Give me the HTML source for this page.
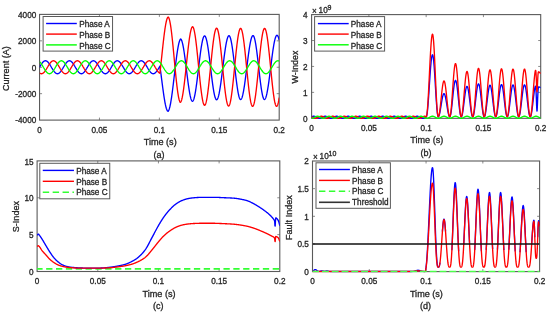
<!DOCTYPE html>
<html><head><meta charset="utf-8"><title>Figure</title>
<style>
html,body{margin:0;padding:0;background:#fff;}
body{width:550px;height:313px;overflow:hidden;}
svg{display:block;font-family:"Liberation Sans",sans-serif;}
text{fill:#262626;stroke:#262626;stroke-width:0.3px;}
</style></head><body>
<svg width="550" height="313" viewBox="0 0 550 313">
<rect width="550" height="313" fill="#fff"/>
<defs>
<clipPath id="ca"><rect x="39.55" y="14.4" width="239.64999999999998" height="105.69999999999999"/></clipPath>
<clipPath id="cb"><rect x="311.6" y="14.6" width="229.10000000000002" height="104.60000000000001"/></clipPath>
<clipPath id="cc"><rect x="37.1" y="160.9" width="242.70000000000002" height="110.6"/></clipPath>
<clipPath id="cd"><rect x="312.5" y="161.0" width="227.10000000000002" height="111.50000000000003"/></clipPath>
</defs>
<rect x="39.55" y="14.4" width="239.65" height="105.70" fill="none" stroke="#5a5a5a" stroke-width="1.1"/>
<path d="M99.46,120.1 v-2.5 M99.46,14.4 v2.5 M159.38,120.1 v-2.5 M159.38,14.4 v2.5 M219.29,120.1 v-2.5 M219.29,14.4 v2.5 M39.55,93.67 h2.5 M279.2,93.67 h-2.5 M39.55,67.25 h2.5 M279.2,67.25 h-2.5 M39.55,40.83 h2.5 M279.2,40.83 h-2.5 " fill="none" stroke="#5a5a5a" stroke-width="0.7"/>
<g clip-path="url(#ca)">
<path d="M39.55,67.10 L39.73,66.79 L39.92,66.48 L40.10,66.17 L40.29,65.86 L40.47,65.55 L40.66,65.25 L40.84,64.96 L41.03,64.67 L41.21,64.38 L41.39,64.11 L41.58,63.84 L41.76,63.57 L41.95,63.32 L42.13,63.08 L42.32,62.84 L42.50,62.62 L42.69,62.40 L42.87,62.20 L43.06,62.01 L43.24,61.83 L43.42,61.67 L43.61,61.52 L43.79,61.38 L43.98,61.25 L44.16,61.14 L44.35,61.05 L44.53,60.96 L44.72,60.90 L44.90,60.84 L45.08,60.81 L45.27,60.78 L45.45,60.78 L45.64,60.78 L45.82,60.81 L46.01,60.84 L46.19,60.90 L46.38,60.97 L46.56,61.05 L46.75,61.15 L46.93,61.26 L47.11,61.38 L47.30,61.52 L47.48,61.68 L47.67,61.84 L47.85,62.02 L48.04,62.21 L48.22,62.41 L48.41,62.63 L48.59,62.85 L48.77,63.09 L48.96,63.33 L49.14,63.58 L49.33,63.85 L49.51,64.12 L49.70,64.40 L49.88,64.68 L50.07,64.97 L50.25,65.27 L50.43,65.57 L50.62,65.87 L50.80,66.18 L50.99,66.49 L51.17,66.80 L51.36,67.11 L51.54,67.43 L51.73,67.74 L51.91,68.05 L52.10,68.36 L52.28,68.67 L52.46,68.97 L52.65,69.27 L52.83,69.57 L53.02,69.86 L53.20,70.14 L53.39,70.42 L53.57,70.69 L53.76,70.95 L53.94,71.20 L54.12,71.45 L54.31,71.68 L54.49,71.90 L54.68,72.11 L54.86,72.32 L55.05,72.50 L55.23,72.68 L55.42,72.85 L55.60,73.00 L55.78,73.13 L55.97,73.26 L56.15,73.37 L56.34,73.46 L56.52,73.54 L56.71,73.61 L56.89,73.66 L57.08,73.70 L57.26,73.72 L57.45,73.72 L57.63,73.71 L57.81,73.69 L58.00,73.65 L58.18,73.60 L58.37,73.53 L58.55,73.44 L58.74,73.34 L58.92,73.23 L59.11,73.10 L59.29,72.96 L59.47,72.81 L59.66,72.64 L59.84,72.46 L60.03,72.27 L60.21,72.07 L60.40,71.85 L60.58,71.63 L60.77,71.39 L60.95,71.15 L61.14,70.89 L61.32,70.63 L61.50,70.36 L61.69,70.08 L61.87,69.79 L62.06,69.50 L62.24,69.21 L62.43,68.91 L62.61,68.60 L62.80,68.29 L62.98,67.98 L63.16,67.67 L63.35,67.36 L63.53,67.04 L63.72,66.73 L63.90,66.42 L64.09,66.11 L64.27,65.80 L64.46,65.50 L64.64,65.20 L64.82,64.91 L65.01,64.62 L65.19,64.33 L65.38,64.06 L65.56,63.79 L65.75,63.53 L65.93,63.28 L66.12,63.03 L66.30,62.80 L66.49,62.58 L66.67,62.37 L66.85,62.17 L67.04,61.98 L67.22,61.80 L67.41,61.64 L67.59,61.49 L67.78,61.35 L67.96,61.23 L68.15,61.12 L68.33,61.03 L68.51,60.95 L68.70,60.89 L68.88,60.84 L69.07,60.80 L69.25,60.78 L69.44,60.78 L69.62,60.79 L69.81,60.81 L69.99,60.85 L70.18,60.91 L70.36,60.98 L70.54,61.07 L70.73,61.17 L70.91,61.28 L71.10,61.41 L71.28,61.55 L71.47,61.70 L71.65,61.87 L71.84,62.05 L72.02,62.25 L72.20,62.45 L72.39,62.67 L72.57,62.89 L72.76,63.13 L72.94,63.38 L73.13,63.63 L73.31,63.90 L73.50,64.17 L73.68,64.45 L73.86,64.73 L74.05,65.02 L74.23,65.32 L74.42,65.62 L74.60,65.93 L74.79,66.23 L74.97,66.55 L75.16,66.86 L75.34,67.17 L75.53,67.48 L75.71,67.80 L75.89,68.11 L76.08,68.42 L76.26,68.72 L76.45,69.03 L76.63,69.33 L76.82,69.62 L77.00,69.91 L77.19,70.19 L77.37,70.47 L77.55,70.74 L77.74,71.00 L77.92,71.25 L78.11,71.49 L78.29,71.72 L78.48,71.94 L78.66,72.15 L78.85,72.35 L79.03,72.54 L79.21,72.71 L79.40,72.87 L79.58,73.02 L79.77,73.16 L79.95,73.28 L80.14,73.39 L80.32,73.48 L80.51,73.56 L80.69,73.62 L80.88,73.67 L81.06,73.70 L81.24,73.72 L81.43,73.72 L81.61,73.71 L81.80,73.68 L81.98,73.64 L82.17,73.58 L82.35,73.51 L82.54,73.43 L82.72,73.33 L82.90,73.21 L83.09,73.08 L83.27,72.94 L83.46,72.78 L83.64,72.61 L83.83,72.43 L84.01,72.24 L84.20,72.03 L84.38,71.81 L84.57,71.59 L84.75,71.35 L84.93,71.10 L85.12,70.84 L85.30,70.58 L85.49,70.31 L85.67,70.03 L85.86,69.74 L86.04,69.45 L86.23,69.15 L86.41,68.85 L86.59,68.55 L86.78,68.24 L86.96,67.93 L87.15,67.61 L87.33,67.30 L87.52,66.99 L87.70,66.68 L87.89,66.36 L88.07,66.05 L88.25,65.75 L88.44,65.45 L88.62,65.15 L88.81,64.85 L88.99,64.56 L89.18,64.28 L89.36,64.01 L89.55,63.74 L89.73,63.48 L89.92,63.23 L90.10,62.99 L90.28,62.76 L90.47,62.54 L90.65,62.33 L90.84,62.13 L91.02,61.95 L91.21,61.77 L91.39,61.61 L91.58,61.46 L91.76,61.33 L91.94,61.21 L92.13,61.11 L92.31,61.01 L92.50,60.94 L92.68,60.87 L92.87,60.83 L93.05,60.80 L93.24,60.78 L93.42,60.78 L93.61,60.79 L93.79,60.82 L93.97,60.86 L94.16,60.92 L94.34,60.99 L94.53,61.08 L94.71,61.18 L94.90,61.30 L95.08,61.43 L95.27,61.58 L95.45,61.73 L95.63,61.90 L95.82,62.09 L96.00,62.28 L96.19,62.49 L96.37,62.71 L96.56,62.94 L96.74,63.17 L96.93,63.42 L97.11,63.68 L97.29,63.94 L97.48,64.22 L97.66,64.50 L97.85,64.78 L98.03,65.08 L98.22,65.37 L98.40,65.68 L98.59,65.98 L98.77,66.29 L98.96,66.60 L99.14,66.91 L99.32,67.23 L99.51,67.54 L99.69,67.85 L99.88,68.16 L100.06,68.47 L100.25,68.78 L100.43,69.08 L100.62,69.38 L100.80,69.67 L100.98,69.96 L101.17,70.24 L101.35,70.52 L101.54,70.78 L101.72,71.04 L101.91,71.29 L102.09,71.53 L102.28,71.76 L102.46,71.98 L102.64,72.19 L102.83,72.39 L103.01,72.57 L103.20,72.74 L103.38,72.90 L103.57,73.05 L103.75,73.18 L103.94,73.30 L104.12,73.40 L104.31,73.49 L104.49,73.57 L104.67,73.63 L104.86,73.68 L105.04,73.71 L105.23,73.72 L105.41,73.72 L105.60,73.71 L105.78,73.68 L105.97,73.63 L106.15,73.57 L106.33,73.50 L106.52,73.41 L106.70,73.31 L106.89,73.19 L107.07,73.06 L107.26,72.91 L107.44,72.75 L107.63,72.58 L107.81,72.40 L108.00,72.20 L108.18,71.99 L108.36,71.77 L108.55,71.54 L108.73,71.30 L108.92,71.06 L109.10,70.80 L109.29,70.53 L109.47,70.26 L109.66,69.98 L109.84,69.69 L110.02,69.40 L110.21,69.10 L110.39,68.80 L110.58,68.49 L110.76,68.18 L110.95,67.87 L111.13,67.56 L111.32,67.24 L111.50,66.93 L111.68,66.62 L111.87,66.31 L112.05,66.00 L112.24,65.69 L112.42,65.39 L112.61,65.09 L112.79,64.80 L112.98,64.51 L113.16,64.23 L113.35,63.96 L113.53,63.69 L113.71,63.44 L113.90,63.19 L114.08,62.95 L114.27,62.72 L114.45,62.50 L114.64,62.29 L114.82,62.10 L115.01,61.91 L115.19,61.74 L115.37,61.58 L115.56,61.44 L115.74,61.31 L115.93,61.19 L116.11,61.09 L116.30,61.00 L116.48,60.92 L116.67,60.87 L116.85,60.82 L117.03,60.79 L117.22,60.78 L117.40,60.78 L117.59,60.79 L117.77,60.83 L117.96,60.87 L118.14,60.93 L118.33,61.01 L118.51,61.10 L118.70,61.20 L118.88,61.32 L119.06,61.46 L119.25,61.60 L119.43,61.76 L119.62,61.94 L119.80,62.12 L119.99,62.32 L120.17,62.53 L120.36,62.75 L120.54,62.98 L120.72,63.22 L120.91,63.47 L121.09,63.73 L121.28,63.99 L121.46,64.27 L121.65,64.55 L121.83,64.84 L122.02,65.13 L122.20,65.43 L122.39,65.73 L122.57,66.04 L122.75,66.35 L122.94,66.66 L123.12,66.97 L123.31,67.28 L123.49,67.60 L123.68,67.91 L123.86,68.22 L124.05,68.53 L124.23,68.83 L124.41,69.14 L124.60,69.43 L124.78,69.73 L124.97,70.01 L125.15,70.29 L125.34,70.57 L125.52,70.83 L125.71,71.09 L125.89,71.34 L126.07,71.57 L126.26,71.80 L126.44,72.02 L126.63,72.23 L126.81,72.42 L127.00,72.60 L127.18,72.77 L127.37,72.93 L127.55,73.07 L127.74,73.20 L127.92,73.32 L128.10,73.42 L128.29,73.51 L128.47,73.58 L128.66,73.64 L128.84,73.68 L129.03,73.71 L129.21,73.72 L129.40,73.72 L129.58,73.70 L129.76,73.67 L129.95,73.62 L130.13,73.56 L130.32,73.48 L130.50,73.39 L130.69,73.28 L130.87,73.16 L131.06,73.03 L131.24,72.88 L131.43,72.72 L131.61,72.55 L131.79,72.36 L131.98,72.16 L132.16,71.95 L132.35,71.73 L132.53,71.50 L132.72,71.26 L132.90,71.01 L133.09,70.75 L133.27,70.48 L133.45,70.21 L133.64,69.92 L133.82,69.64 L134.01,69.34 L134.19,69.04 L134.38,68.74 L134.56,68.43 L134.75,68.12 L134.93,67.81 L135.11,67.50 L135.30,67.19 L135.48,66.87 L135.67,66.56 L135.85,66.25 L136.04,65.94 L136.22,65.64 L136.41,65.34 L136.59,65.04 L136.78,64.75 L136.96,64.46 L137.14,64.18 L137.33,63.91 L137.51,63.65 L137.70,63.39 L137.88,63.14 L138.07,62.91 L138.25,62.68 L138.44,62.46 L138.62,62.26 L138.80,62.06 L138.99,61.88 L139.17,61.71 L139.36,61.56 L139.54,61.41 L139.73,61.29 L139.91,61.17 L140.10,61.07 L140.28,60.98 L140.46,60.91 L140.65,60.86 L140.83,60.81 L141.02,60.79 L141.20,60.78 L141.39,60.78 L141.57,60.80 L141.76,60.83 L141.94,60.88 L142.13,60.95 L142.31,61.02 L142.49,61.12 L142.68,61.23 L142.86,61.35 L143.05,61.48 L143.23,61.63 L143.42,61.79 L143.60,61.97 L143.79,62.16 L143.97,62.36 L144.15,62.57 L144.34,62.79 L144.52,63.02 L144.71,63.26 L144.89,63.51 L145.08,63.77 L145.26,64.04 L145.45,64.32 L145.63,64.60 L145.82,64.89 L146.00,65.18 L146.18,65.48 L146.37,65.79 L146.55,66.09 L146.74,66.40 L146.92,66.71 L147.11,67.03 L147.29,67.34 L147.48,67.65 L147.66,67.97 L147.84,68.28 L148.03,68.58 L148.21,68.89 L148.40,69.19 L148.58,69.49 L148.77,69.78 L148.95,70.06 L149.14,70.34 L149.32,70.61 L149.50,70.88 L149.69,71.13 L149.87,71.38 L150.06,71.62 L150.24,71.84 L150.43,72.06 L150.61,72.26 L150.80,72.45 L150.98,72.63 L151.17,72.80 L151.35,72.96 L151.53,73.10 L151.72,73.23 L151.90,73.34 L152.09,73.44 L152.27,73.52 L152.46,73.59 L152.64,73.65 L152.83,73.69 L153.01,73.71 L153.19,73.72 L153.38,73.72 L153.56,73.70 L153.75,73.66 L153.93,73.61 L154.12,73.55 L154.30,73.47 L154.49,73.37 L154.67,73.26 L154.86,73.14 L155.04,73.00 L155.22,72.85 L155.41,72.69 L155.59,72.51 L155.78,72.33 L155.96,72.13 L156.15,71.91 L156.33,71.69 L156.52,71.46 L156.70,71.22 L156.88,70.96 L157.07,70.70 L157.25,70.43 L157.44,70.16 L157.62,69.87 L157.81,69.58 L157.99,69.29 L158.18,68.99 L158.36,68.69 L158.54,68.38 L158.73,68.07 L158.91,67.76 L159.10,67.44 L159.28,67.13 L159.47,66.82 L159.65,66.51 L159.84,66.20 L160.02,66.94 L160.21,68.27 L160.39,69.62 L160.57,70.99 L160.76,72.38 L160.94,73.78 L161.13,75.19 L161.31,76.62 L161.50,78.04 L161.68,79.48 L161.87,80.91 L162.05,82.34 L162.23,83.76 L162.42,85.18 L162.60,86.58 L162.79,87.97 L162.97,89.34 L163.16,90.70 L163.34,92.03 L163.53,93.33 L163.71,94.61 L163.89,95.85 L164.08,97.06 L164.26,98.24 L164.45,99.38 L164.63,100.48 L164.82,101.53 L165.00,102.54 L165.19,103.50 L165.37,104.42 L165.56,105.28 L165.74,106.09 L165.92,106.85 L166.11,107.55 L166.29,108.19 L166.48,108.77 L166.66,109.30 L166.85,109.76 L167.03,110.17 L167.22,110.51 L167.40,110.78 L167.58,111.00 L167.77,111.14 L167.95,111.23 L168.14,111.21 L168.32,111.01 L168.51,110.73 L168.69,110.40 L168.88,109.99 L169.06,109.52 L169.25,108.99 L169.43,108.39 L169.61,107.74 L169.80,107.02 L169.98,106.24 L170.17,105.40 L170.35,104.50 L170.54,103.55 L170.72,102.55 L170.91,101.49 L171.09,100.38 L171.27,99.22 L171.46,98.02 L171.64,96.78 L171.83,95.49 L172.01,94.16 L172.20,92.80 L172.38,91.40 L172.57,89.97 L172.75,88.51 L172.93,87.03 L173.12,85.52 L173.30,84.00 L173.49,82.45 L173.67,80.90 L173.86,79.33 L174.04,77.75 L174.23,76.17 L174.41,74.58 L174.60,73.00 L174.78,71.42 L174.96,69.85 L175.15,68.29 L175.33,66.74 L175.52,65.20 L175.70,63.69 L175.89,62.20 L176.07,60.73 L176.26,59.29 L176.44,57.89 L176.62,56.51 L176.81,55.17 L176.99,53.87 L177.18,52.61 L177.36,51.39 L177.55,50.22 L177.73,49.09 L177.92,48.02 L178.10,46.99 L178.29,46.02 L178.47,45.11 L178.65,44.25 L178.84,43.45 L179.02,42.71 L179.21,42.03 L179.39,41.42 L179.58,40.86 L179.76,40.37 L179.95,39.94 L180.13,39.58 L180.31,39.29 L180.50,39.06 L180.68,39.00 L180.87,39.12 L181.05,39.32 L181.24,39.58 L181.42,39.92 L181.61,40.33 L181.79,40.80 L181.97,41.34 L182.16,41.94 L182.34,42.62 L182.53,43.35 L182.71,44.15 L182.90,45.00 L183.08,45.91 L183.27,46.88 L183.45,47.91 L183.64,48.98 L183.82,50.10 L184.00,51.27 L184.19,52.49 L184.37,53.74 L184.56,55.03 L184.74,56.36 L184.93,57.71 L185.11,59.10 L185.30,60.51 L185.48,61.95 L185.66,63.40 L185.85,64.87 L186.03,66.35 L186.22,67.84 L186.40,69.34 L186.59,70.84 L186.77,72.33 L186.96,73.82 L187.14,75.30 L187.32,76.77 L187.51,78.23 L187.69,79.67 L187.88,81.08 L188.06,82.47 L188.25,83.83 L188.43,85.16 L188.62,86.45 L188.80,87.71 L188.99,88.92 L189.17,90.09 L189.35,91.22 L189.54,92.29 L189.72,93.32 L189.91,94.29 L190.09,95.21 L190.28,96.07 L190.46,96.87 L190.65,97.60 L190.83,98.28 L191.01,98.89 L191.20,99.43 L191.38,99.91 L191.57,100.32 L191.75,100.66 L191.94,100.93 L192.12,101.13 L192.31,101.26 L192.49,101.29 L192.68,101.22 L192.86,101.07 L193.04,100.85 L193.23,100.56 L193.41,100.19 L193.60,99.76 L193.78,99.25 L193.97,98.67 L194.15,98.03 L194.34,97.32 L194.52,96.55 L194.70,95.71 L194.89,94.81 L195.07,93.85 L195.26,92.84 L195.44,91.77 L195.63,90.65 L195.81,89.47 L196.00,88.26 L196.18,86.99 L196.36,85.69 L196.55,84.34 L196.73,82.97 L196.92,81.56 L197.10,80.12 L197.29,78.65 L197.47,77.16 L197.66,75.65 L197.84,74.13 L198.03,72.59 L198.21,71.05 L198.39,69.49 L198.58,67.94 L198.76,66.39 L198.95,64.84 L199.13,63.31 L199.32,61.78 L199.50,60.27 L199.69,58.78 L199.87,57.31 L200.05,55.86 L200.24,54.45 L200.42,53.06 L200.61,51.72 L200.79,50.40 L200.98,49.14 L201.16,47.91 L201.35,46.73 L201.53,45.60 L201.72,44.52 L201.90,43.50 L202.08,42.54 L202.27,41.63 L202.45,40.78 L202.64,40.00 L202.82,39.28 L203.01,38.62 L203.19,38.04 L203.38,37.52 L203.56,37.08 L203.74,36.70 L203.93,36.40 L204.11,36.17 L204.30,36.01 L204.48,35.92 L204.67,35.91 L204.85,35.98 L205.04,36.12 L205.22,36.33 L205.40,36.62 L205.59,36.97 L205.77,37.41 L205.96,37.91 L206.14,38.48 L206.33,39.12 L206.51,39.83 L206.70,40.60 L206.88,41.43 L207.07,42.33 L207.25,43.29 L207.43,44.30 L207.62,45.37 L207.80,46.49 L207.99,47.66 L208.17,48.88 L208.36,50.14 L208.54,51.45 L208.73,52.79 L208.91,54.16 L209.09,55.57 L209.28,57.01 L209.46,58.47 L209.65,59.96 L209.83,61.46 L210.02,62.98 L210.20,64.51 L210.39,66.04 L210.57,67.58 L210.75,69.13 L210.94,70.66 L211.12,72.20 L211.31,73.72 L211.49,75.23 L211.68,76.72 L211.86,78.19 L212.05,79.63 L212.23,81.05 L212.42,82.44 L212.60,83.79 L212.78,85.11 L212.97,86.38 L213.15,87.62 L213.34,88.80 L213.52,89.94 L213.71,91.03 L213.89,92.06 L214.08,93.03 L214.26,93.95 L214.44,94.80 L214.63,95.60 L214.81,96.33 L215.00,96.99 L215.18,97.58 L215.37,98.10 L215.55,98.56 L215.74,98.94 L215.92,99.25 L216.11,99.49 L216.29,99.65 L216.47,99.74 L216.66,99.75 L216.84,99.69 L217.03,99.57 L217.21,99.37 L217.40,99.10 L217.58,98.77 L217.77,98.37 L217.95,97.90 L218.13,97.36 L218.32,96.76 L218.50,96.10 L218.69,95.38 L218.87,94.59 L219.06,93.75 L219.24,92.85 L219.43,91.89 L219.61,90.88 L219.79,89.82 L219.98,88.72 L220.16,87.56 L220.35,86.37 L220.53,85.13 L220.72,83.86 L220.90,82.54 L221.09,81.20 L221.27,79.83 L221.46,78.43 L221.64,77.01 L221.82,75.57 L222.01,74.11 L222.19,72.64 L222.38,71.15 L222.56,69.66 L222.75,68.17 L222.93,66.67 L223.12,65.17 L223.30,63.69 L223.48,62.21 L223.67,60.74 L223.85,59.29 L224.04,57.85 L224.22,56.44 L224.41,55.05 L224.59,53.69 L224.78,52.36 L224.96,51.07 L225.14,49.81 L225.33,48.59 L225.51,47.41 L225.70,46.28 L225.88,45.19 L226.07,44.15 L226.25,43.16 L226.44,42.23 L226.62,41.35 L226.81,40.54 L226.99,39.78 L227.17,39.08 L227.36,38.44 L227.54,37.87 L227.73,37.36 L227.91,36.92 L228.10,36.55 L228.28,36.24 L228.47,36.00 L228.65,35.84 L228.83,35.74 L229.02,35.71 L229.20,35.76 L229.39,35.89 L229.57,36.09 L229.76,36.38 L229.94,36.74 L230.13,37.18 L230.31,37.70 L230.50,38.29 L230.68,38.96 L230.86,39.69 L231.05,40.50 L231.23,41.37 L231.42,42.31 L231.60,43.31 L231.79,44.38 L231.97,45.50 L232.16,46.67 L232.34,47.90 L232.52,49.18 L232.71,50.50 L232.89,51.87 L233.08,53.27 L233.26,54.71 L233.45,56.19 L233.63,57.69 L233.82,59.22 L234.00,60.76 L234.18,62.33 L234.37,63.91 L234.55,65.49 L234.74,67.09 L234.92,68.68 L235.11,70.27 L235.29,71.86 L235.48,73.43 L235.66,74.99 L235.85,76.53 L236.03,78.05 L236.21,79.54 L236.40,81.01 L236.58,82.44 L236.77,83.83 L236.95,85.18 L237.14,86.49 L237.32,87.75 L237.51,88.96 L237.69,90.12 L237.87,91.22 L238.06,92.27 L238.24,93.25 L238.43,94.17 L238.61,95.02 L238.80,95.80 L238.98,96.51 L239.17,97.15 L239.35,97.72 L239.54,98.21 L239.72,98.63 L239.90,98.96 L240.09,99.22 L240.27,99.40 L240.46,99.50 L240.64,99.53 L240.83,99.48 L241.01,99.36 L241.20,99.17 L241.38,98.91 L241.56,98.58 L241.75,98.18 L241.93,97.72 L242.12,97.19 L242.30,96.60 L242.49,95.95 L242.67,95.23 L242.86,94.45 L243.04,93.61 L243.22,92.72 L243.41,91.77 L243.59,90.77 L243.78,89.71 L243.96,88.61 L244.15,87.47 L244.33,86.28 L244.52,85.05 L244.70,83.78 L244.89,82.47 L245.07,81.13 L245.25,79.77 L245.44,78.37 L245.62,76.96 L245.81,75.52 L245.99,74.06 L246.18,72.59 L246.36,71.11 L246.55,69.63 L246.73,68.13 L246.91,66.64 L247.10,65.15 L247.28,63.66 L247.47,62.18 L247.65,60.72 L247.84,59.27 L248.02,57.83 L248.21,56.42 L248.39,55.03 L248.57,53.67 L248.76,52.34 L248.94,51.05 L249.13,49.79 L249.31,48.57 L249.50,47.39 L249.68,46.25 L249.87,45.16 L250.05,44.12 L250.24,43.13 L250.42,42.19 L250.60,41.31 L250.79,40.49 L250.97,39.73 L251.16,39.02 L251.34,38.38 L251.53,37.81 L251.71,37.29 L251.90,36.85 L252.08,36.47 L252.26,36.16 L252.45,35.92 L252.63,35.74 L252.82,35.64 L253.00,35.61 L253.19,35.65 L253.37,35.77 L253.56,35.98 L253.74,36.27 L253.93,36.64 L254.11,37.09 L254.29,37.62 L254.48,38.22 L254.66,38.90 L254.85,39.66 L255.03,40.48 L255.22,41.38 L255.40,42.35 L255.59,43.38 L255.77,44.47 L255.95,45.62 L256.14,46.83 L256.32,48.09 L256.51,49.40 L256.69,50.76 L256.88,52.17 L257.06,53.61 L257.25,55.09 L257.43,56.60 L257.61,58.14 L257.80,59.70 L257.98,61.28 L258.17,62.88 L258.35,64.50 L258.54,66.12 L258.72,67.74 L258.91,69.36 L259.09,70.98 L259.28,72.59 L259.46,74.19 L259.64,75.77 L259.83,77.32 L260.01,78.86 L260.20,80.36 L260.38,81.83 L260.57,83.26 L260.75,84.66 L260.94,86.00 L261.12,87.31 L261.30,88.56 L261.49,89.75 L261.67,90.89 L261.86,91.97 L262.04,92.98 L262.23,93.93 L262.41,94.81 L262.60,95.62 L262.78,96.36 L262.97,97.02 L263.15,97.61 L263.33,98.12 L263.52,98.55 L263.70,98.90 L263.89,99.17 L264.07,99.36 L264.26,99.46 L264.44,99.49 L264.63,99.44 L264.81,99.32 L264.99,99.14 L265.18,98.88 L265.36,98.57 L265.55,98.18 L265.73,97.73 L265.92,97.22 L266.10,96.64 L266.29,96.00 L266.47,95.31 L266.65,94.55 L266.84,93.73 L267.02,92.86 L267.21,91.93 L267.39,90.96 L267.58,89.93 L267.76,88.86 L267.95,87.73 L268.13,86.57 L268.32,85.37 L268.50,84.13 L268.68,82.85 L268.87,81.54 L269.05,80.20 L269.24,78.83 L269.42,77.44 L269.61,76.03 L269.79,74.60 L269.98,73.15 L270.16,71.69 L270.34,70.22 L270.53,68.75 L270.71,67.27 L270.90,65.80 L271.08,64.32 L271.27,62.86 L271.45,61.40 L271.64,59.96 L271.82,58.53 L272.00,57.12 L272.19,55.73 L272.37,54.37 L272.56,53.03 L272.74,51.73 L272.93,50.45 L273.11,49.22 L273.30,48.02 L273.48,46.86 L273.67,45.75 L273.85,44.68 L274.03,43.66 L274.22,42.69 L274.40,41.77 L274.59,40.91 L274.77,40.10 L274.96,39.35 L275.14,38.66 L275.33,38.03 L275.51,37.47 L275.69,36.96 L275.88,36.52 L276.06,36.15 L276.25,35.84 L276.43,35.60 L276.62,35.42 L276.80,35.32 L276.99,35.28 L277.17,35.30 L277.36,35.40 L277.54,35.57 L277.72,35.80 L277.91,36.10 L278.09,36.46 L278.28,36.89 L278.46,37.39 L278.65,37.94 L278.83,38.56 L279.02,39.25 L279.20,39.99" fill="none" stroke="#0000ff" stroke-width="1.35" stroke-linejoin="round"/>
<path d="M39.55,72.92 L39.73,73.06 L39.92,73.19 L40.10,73.31 L40.29,73.41 L40.47,73.50 L40.66,73.58 L40.84,73.63 L41.03,73.68 L41.21,73.71 L41.39,73.72 L41.58,73.72 L41.76,73.71 L41.95,73.67 L42.13,73.63 L42.32,73.57 L42.50,73.49 L42.69,73.40 L42.87,73.29 L43.06,73.18 L43.24,73.04 L43.42,72.90 L43.61,72.74 L43.79,72.56 L43.98,72.38 L44.16,72.18 L44.35,71.97 L44.53,71.75 L44.72,71.52 L44.90,71.28 L45.08,71.03 L45.27,70.77 L45.45,70.51 L45.64,70.23 L45.82,69.95 L46.01,69.66 L46.19,69.37 L46.38,69.07 L46.56,68.77 L46.75,68.46 L46.93,68.15 L47.11,67.84 L47.30,67.53 L47.48,67.22 L47.67,66.90 L47.85,66.59 L48.04,66.28 L48.22,65.97 L48.41,65.66 L48.59,65.36 L48.77,65.07 L48.96,64.77 L49.14,64.49 L49.33,64.21 L49.51,63.93 L49.70,63.67 L49.88,63.41 L50.07,63.16 L50.25,62.93 L50.43,62.70 L50.62,62.48 L50.80,62.27 L50.99,62.08 L51.17,61.90 L51.36,61.73 L51.54,61.57 L51.73,61.43 L51.91,61.30 L52.10,61.18 L52.28,61.08 L52.46,60.99 L52.65,60.92 L52.83,60.86 L53.02,60.82 L53.20,60.79 L53.39,60.78 L53.57,60.78 L53.76,60.80 L53.94,60.83 L54.12,60.88 L54.31,60.94 L54.49,61.02 L54.68,61.11 L54.86,61.22 L55.05,61.34 L55.23,61.47 L55.42,61.62 L55.60,61.78 L55.78,61.95 L55.97,62.14 L56.15,62.34 L56.34,62.55 L56.52,62.77 L56.71,63.00 L56.89,63.24 L57.08,63.49 L57.26,63.75 L57.45,64.02 L57.63,64.29 L57.81,64.58 L58.00,64.86 L58.18,65.16 L58.37,65.46 L58.55,65.76 L58.74,66.07 L58.92,66.38 L59.11,66.69 L59.29,67.00 L59.47,67.31 L59.66,67.63 L59.84,67.94 L60.03,68.25 L60.21,68.56 L60.40,68.86 L60.58,69.16 L60.77,69.46 L60.95,69.75 L61.14,70.04 L61.32,70.32 L61.50,70.59 L61.69,70.85 L61.87,71.11 L62.06,71.36 L62.24,71.60 L62.43,71.82 L62.61,72.04 L62.80,72.24 L62.98,72.44 L63.16,72.62 L63.35,72.79 L63.53,72.94 L63.72,73.09 L63.90,73.21 L64.09,73.33 L64.27,73.43 L64.46,73.52 L64.64,73.59 L64.82,73.64 L65.01,73.69 L65.19,73.71 L65.38,73.72 L65.56,73.72 L65.75,73.70 L65.93,73.67 L66.12,73.62 L66.30,73.55 L66.49,73.48 L66.67,73.38 L66.85,73.27 L67.04,73.15 L67.22,73.02 L67.41,72.87 L67.59,72.71 L67.78,72.53 L67.96,72.34 L68.15,72.14 L68.33,71.93 L68.51,71.71 L68.70,71.48 L68.88,71.24 L69.07,70.99 L69.25,70.73 L69.44,70.46 L69.62,70.18 L69.81,69.90 L69.99,69.61 L70.18,69.32 L70.36,69.02 L70.54,68.71 L70.73,68.41 L70.91,68.10 L71.10,67.78 L71.28,67.47 L71.47,67.16 L71.65,66.85 L71.84,66.53 L72.02,66.22 L72.20,65.91 L72.39,65.61 L72.57,65.31 L72.76,65.01 L72.94,64.72 L73.13,64.44 L73.31,64.16 L73.50,63.89 L73.68,63.62 L73.86,63.37 L74.05,63.12 L74.23,62.88 L74.42,62.66 L74.60,62.44 L74.79,62.24 L74.97,62.05 L75.16,61.87 L75.34,61.70 L75.53,61.54 L75.71,61.40 L75.89,61.27 L76.08,61.16 L76.26,61.06 L76.45,60.98 L76.63,60.91 L76.82,60.85 L77.00,60.81 L77.19,60.79 L77.37,60.78 L77.55,60.78 L77.74,60.80 L77.92,60.84 L78.11,60.89 L78.29,60.95 L78.48,61.03 L78.66,61.13 L78.85,61.24 L79.03,61.36 L79.21,61.50 L79.40,61.65 L79.58,61.81 L79.77,61.99 L79.95,62.17 L80.14,62.37 L80.32,62.59 L80.51,62.81 L80.69,63.04 L80.88,63.29 L81.06,63.54 L81.24,63.80 L81.43,64.07 L81.61,64.34 L81.80,64.63 L81.98,64.92 L82.17,65.21 L82.35,65.51 L82.54,65.82 L82.72,66.12 L82.90,66.43 L83.09,66.74 L83.27,67.06 L83.46,67.37 L83.64,67.68 L83.83,68.00 L84.01,68.31 L84.20,68.61 L84.38,68.92 L84.57,69.22 L84.75,69.51 L84.93,69.81 L85.12,70.09 L85.30,70.37 L85.49,70.64 L85.67,70.90 L85.86,71.16 L86.04,71.40 L86.23,71.64 L86.41,71.86 L86.59,72.08 L86.78,72.28 L86.96,72.47 L87.15,72.65 L87.33,72.82 L87.52,72.97 L87.70,73.11 L87.89,73.24 L88.07,73.35 L88.25,73.45 L88.44,73.53 L88.62,73.60 L88.81,73.65 L88.99,73.69 L89.18,73.72 L89.36,73.72 L89.55,73.72 L89.73,73.70 L89.92,73.66 L90.10,73.61 L90.28,73.54 L90.47,73.46 L90.65,73.36 L90.84,73.25 L91.02,73.13 L91.21,72.99 L91.39,72.84 L91.58,72.67 L91.76,72.50 L91.94,72.31 L92.13,72.11 L92.31,71.89 L92.50,71.67 L92.68,71.44 L92.87,71.19 L93.05,70.94 L93.24,70.68 L93.42,70.41 L93.61,70.13 L93.79,69.85 L93.97,69.56 L94.16,69.26 L94.34,68.96 L94.53,68.66 L94.71,68.35 L94.90,68.04 L95.08,67.73 L95.27,67.41 L95.45,67.10 L95.63,66.79 L95.82,66.48 L96.00,66.17 L96.19,65.86 L96.37,65.55 L96.56,65.25 L96.74,64.96 L96.93,64.67 L97.11,64.38 L97.29,64.11 L97.48,63.84 L97.66,63.57 L97.85,63.32 L98.03,63.08 L98.22,62.84 L98.40,62.62 L98.59,62.40 L98.77,62.20 L98.96,62.01 L99.14,61.83 L99.32,61.67 L99.51,61.52 L99.69,61.38 L99.88,61.25 L100.06,61.14 L100.25,61.05 L100.43,60.96 L100.62,60.90 L100.80,60.84 L100.98,60.81 L101.17,60.78 L101.35,60.78 L101.54,60.78 L101.72,60.81 L101.91,60.84 L102.09,60.90 L102.28,60.97 L102.46,61.05 L102.64,61.15 L102.83,61.26 L103.01,61.38 L103.20,61.52 L103.38,61.67 L103.57,61.84 L103.75,62.02 L103.94,62.21 L104.12,62.41 L104.31,62.63 L104.49,62.85 L104.67,63.09 L104.86,63.33 L105.04,63.58 L105.23,63.85 L105.41,64.12 L105.60,64.40 L105.78,64.68 L105.97,64.97 L106.15,65.27 L106.33,65.57 L106.52,65.87 L106.70,66.18 L106.89,66.49 L107.07,66.80 L107.26,67.11 L107.44,67.43 L107.63,67.74 L107.81,68.05 L108.00,68.36 L108.18,68.67 L108.36,68.97 L108.55,69.27 L108.73,69.57 L108.92,69.86 L109.10,70.14 L109.29,70.42 L109.47,70.69 L109.66,70.95 L109.84,71.20 L110.02,71.44 L110.21,71.68 L110.39,71.90 L110.58,72.11 L110.76,72.32 L110.95,72.50 L111.13,72.68 L111.32,72.85 L111.50,73.00 L111.68,73.13 L111.87,73.26 L112.05,73.37 L112.24,73.46 L112.42,73.54 L112.61,73.61 L112.79,73.66 L112.98,73.70 L113.16,73.72 L113.35,73.72 L113.53,73.71 L113.71,73.69 L113.90,73.65 L114.08,73.60 L114.27,73.53 L114.45,73.44 L114.64,73.34 L114.82,73.23 L115.01,73.10 L115.19,72.96 L115.37,72.81 L115.56,72.64 L115.74,72.46 L115.93,72.27 L116.11,72.07 L116.30,71.85 L116.48,71.63 L116.67,71.39 L116.85,71.15 L117.03,70.89 L117.22,70.63 L117.40,70.36 L117.59,70.08 L117.77,69.79 L117.96,69.50 L118.14,69.21 L118.33,68.91 L118.51,68.60 L118.70,68.29 L118.88,67.98 L119.06,67.67 L119.25,67.36 L119.43,67.04 L119.62,66.73 L119.80,66.42 L119.99,66.11 L120.17,65.80 L120.36,65.50 L120.54,65.20 L120.72,64.91 L120.91,64.62 L121.09,64.33 L121.28,64.06 L121.46,63.79 L121.65,63.53 L121.83,63.28 L122.02,63.03 L122.20,62.80 L122.39,62.58 L122.57,62.37 L122.75,62.17 L122.94,61.98 L123.12,61.80 L123.31,61.64 L123.49,61.49 L123.68,61.35 L123.86,61.23 L124.05,61.12 L124.23,61.03 L124.41,60.95 L124.60,60.89 L124.78,60.84 L124.97,60.80 L125.15,60.78 L125.34,60.78 L125.52,60.79 L125.71,60.81 L125.89,60.85 L126.07,60.91 L126.26,60.98 L126.44,61.07 L126.63,61.17 L126.81,61.28 L127.00,61.41 L127.18,61.55 L127.37,61.70 L127.55,61.87 L127.74,62.05 L127.92,62.25 L128.10,62.45 L128.29,62.67 L128.47,62.89 L128.66,63.13 L128.84,63.38 L129.03,63.63 L129.21,63.90 L129.40,64.17 L129.58,64.45 L129.76,64.73 L129.95,65.02 L130.13,65.32 L130.32,65.62 L130.50,65.93 L130.69,66.23 L130.87,66.55 L131.06,66.86 L131.24,67.17 L131.43,67.48 L131.61,67.80 L131.79,68.11 L131.98,68.42 L132.16,68.72 L132.35,69.03 L132.53,69.33 L132.72,69.62 L132.90,69.91 L133.09,70.19 L133.27,70.47 L133.45,70.74 L133.64,71.00 L133.82,71.25 L134.01,71.49 L134.19,71.72 L134.38,71.94 L134.56,72.15 L134.75,72.35 L134.93,72.54 L135.11,72.71 L135.30,72.87 L135.48,73.02 L135.67,73.16 L135.85,73.28 L136.04,73.39 L136.22,73.48 L136.41,73.56 L136.59,73.62 L136.78,73.67 L136.96,73.70 L137.14,73.72 L137.33,73.72 L137.51,73.71 L137.70,73.68 L137.88,73.64 L138.07,73.59 L138.25,73.51 L138.44,73.43 L138.62,73.33 L138.80,73.21 L138.99,73.08 L139.17,72.94 L139.36,72.78 L139.54,72.61 L139.73,72.43 L139.91,72.24 L140.10,72.03 L140.28,71.81 L140.46,71.59 L140.65,71.35 L140.83,71.10 L141.02,70.85 L141.20,70.58 L141.39,70.31 L141.57,70.03 L141.76,69.74 L141.94,69.45 L142.13,69.15 L142.31,68.85 L142.49,68.55 L142.68,68.24 L142.86,67.93 L143.05,67.61 L143.23,67.30 L143.42,66.99 L143.60,66.68 L143.79,66.36 L143.97,66.05 L144.15,65.75 L144.34,65.45 L144.52,65.15 L144.71,64.85 L144.89,64.56 L145.08,64.28 L145.26,64.01 L145.45,63.74 L145.63,63.48 L145.82,63.23 L146.00,62.99 L146.18,62.76 L146.37,62.54 L146.55,62.33 L146.74,62.13 L146.92,61.95 L147.11,61.77 L147.29,61.61 L147.48,61.46 L147.66,61.33 L147.84,61.21 L148.03,61.11 L148.21,61.01 L148.40,60.94 L148.58,60.87 L148.77,60.83 L148.95,60.80 L149.14,60.78 L149.32,60.78 L149.50,60.79 L149.69,60.82 L149.87,60.86 L150.06,60.92 L150.24,60.99 L150.43,61.08 L150.61,61.18 L150.80,61.30 L150.98,61.43 L151.17,61.58 L151.35,61.73 L151.53,61.90 L151.72,62.09 L151.90,62.28 L152.09,62.49 L152.27,62.71 L152.46,62.93 L152.64,63.17 L152.83,63.42 L153.01,63.68 L153.19,63.94 L153.38,64.22 L153.56,64.50 L153.75,64.78 L153.93,65.08 L154.12,65.37 L154.30,65.68 L154.49,65.98 L154.67,66.29 L154.86,66.60 L155.04,66.91 L155.22,67.23 L155.41,67.54 L155.59,67.85 L155.78,68.16 L155.96,68.47 L156.15,68.78 L156.33,69.08 L156.52,69.38 L156.70,69.67 L156.88,69.96 L157.07,70.24 L157.25,70.52 L157.44,70.78 L157.62,71.04 L157.81,71.29 L157.99,71.53 L158.18,71.76 L158.36,71.98 L158.54,72.19 L158.73,72.39 L158.91,72.57 L159.10,72.74 L159.28,72.90 L159.47,73.05 L159.65,73.18 L159.84,73.30 L160.02,72.30 L160.21,70.68 L160.39,69.04 L160.57,67.38 L160.76,65.69 L160.94,63.99 L161.13,62.27 L161.31,60.54 L161.50,58.80 L161.68,57.06 L161.87,55.31 L162.05,53.57 L162.23,51.84 L162.42,50.11 L162.60,48.40 L162.79,46.70 L162.97,45.02 L163.16,43.37 L163.34,41.74 L163.53,40.13 L163.71,38.56 L163.89,37.03 L164.08,35.53 L164.26,34.08 L164.45,32.67 L164.63,31.30 L164.82,29.98 L165.00,28.72 L165.19,27.51 L165.37,26.36 L165.56,25.26 L165.74,24.23 L165.92,23.26 L166.11,22.35 L166.29,21.51 L166.48,20.74 L166.66,20.04 L166.85,19.41 L167.03,18.85 L167.22,18.36 L167.40,17.95 L167.58,17.62 L167.77,17.36 L167.95,17.18 L168.14,17.07 L168.32,17.06 L168.51,17.27 L168.69,17.57 L168.88,17.96 L169.06,18.43 L169.25,18.99 L169.43,19.64 L169.61,20.37 L169.80,21.18 L169.98,22.07 L170.17,23.04 L170.35,24.09 L170.54,25.21 L170.72,26.40 L170.91,27.67 L171.09,29.01 L171.27,30.41 L171.46,31.87 L171.64,33.39 L171.83,34.97 L172.01,36.60 L172.20,38.28 L172.38,40.00 L172.57,41.77 L172.75,43.58 L172.93,45.42 L173.12,47.29 L173.30,49.19 L173.49,51.11 L173.67,53.05 L173.86,55.00 L174.04,56.97 L174.23,58.94 L174.41,60.91 L174.60,62.88 L174.78,64.84 L174.96,66.79 L175.15,68.73 L175.33,70.64 L175.52,72.54 L175.70,74.40 L175.89,76.24 L176.07,78.04 L176.26,79.80 L176.44,81.51 L176.62,83.18 L176.81,84.80 L176.99,86.37 L177.18,87.88 L177.36,89.33 L177.55,90.72 L177.73,92.04 L177.92,93.29 L178.10,94.47 L178.29,95.58 L178.47,96.61 L178.65,97.57 L178.84,98.44 L179.02,99.24 L179.21,99.95 L179.39,100.58 L179.58,101.12 L179.76,101.57 L179.95,101.94 L180.13,102.23 L180.31,102.40 L180.50,102.29 L180.68,102.09 L180.87,101.82 L181.05,101.46 L181.24,101.03 L181.42,100.52 L181.61,99.93 L181.79,99.27 L181.97,98.53 L182.16,97.72 L182.34,96.84 L182.53,95.88 L182.71,94.86 L182.90,93.78 L183.08,92.63 L183.27,91.42 L183.45,90.16 L183.64,88.84 L183.82,87.46 L184.00,86.04 L184.19,84.57 L184.37,83.06 L184.56,81.51 L184.74,79.92 L184.93,78.29 L185.11,76.64 L185.30,74.96 L185.48,73.26 L185.66,71.54 L185.85,69.81 L186.03,68.06 L186.22,66.31 L186.40,64.55 L186.59,62.79 L186.77,61.04 L186.96,59.29 L187.14,57.56 L187.32,55.84 L187.51,54.14 L187.69,52.46 L187.88,50.81 L188.06,49.19 L188.25,47.60 L188.43,46.05 L188.62,44.54 L188.80,43.07 L188.99,41.65 L189.17,40.27 L189.35,38.95 L189.54,37.69 L189.72,36.48 L189.91,35.34 L190.09,34.26 L190.28,33.24 L190.46,32.29 L190.65,31.41 L190.83,30.60 L191.01,29.86 L191.20,29.20 L191.38,28.62 L191.57,28.11 L191.75,27.68 L191.94,27.32 L192.12,27.05 L192.31,26.86 L192.49,26.74 L192.68,26.78 L192.86,26.91 L193.04,27.13 L193.23,27.44 L193.41,27.84 L193.60,28.32 L193.78,28.90 L193.97,29.55 L194.15,30.29 L194.34,31.12 L194.52,32.02 L194.70,33.00 L194.89,34.06 L195.07,35.19 L195.26,36.39 L195.44,37.65 L195.63,38.99 L195.81,40.38 L196.00,41.84 L196.18,43.35 L196.36,44.91 L196.55,46.52 L196.73,48.17 L196.92,49.87 L197.10,51.60 L197.29,53.37 L197.47,55.16 L197.66,56.98 L197.84,58.82 L198.03,60.68 L198.21,62.55 L198.39,64.43 L198.58,66.31 L198.76,68.19 L198.95,70.06 L199.13,71.93 L199.32,73.78 L199.50,75.62 L199.69,77.43 L199.87,79.21 L200.05,80.97 L200.24,82.69 L200.42,84.38 L200.61,86.02 L200.79,87.61 L200.98,89.16 L201.16,90.65 L201.35,92.09 L201.53,93.46 L201.72,94.78 L201.90,96.02 L202.08,97.20 L202.27,98.31 L202.45,99.34 L202.64,100.30 L202.82,101.18 L203.01,101.97 L203.19,102.69 L203.38,103.32 L203.56,103.87 L203.74,104.32 L203.93,104.69 L204.11,104.98 L204.30,105.17 L204.48,105.27 L204.67,105.28 L204.85,105.21 L205.04,105.04 L205.22,104.78 L205.40,104.44 L205.59,104.00 L205.77,103.48 L205.96,102.88 L206.14,102.19 L206.33,101.41 L206.51,100.56 L206.70,99.63 L206.88,98.62 L207.07,97.54 L207.25,96.38 L207.43,95.16 L207.62,93.87 L207.80,92.51 L207.99,91.10 L208.17,89.63 L208.36,88.10 L208.54,86.53 L208.73,84.91 L208.91,83.24 L209.09,81.54 L209.28,79.81 L209.46,78.04 L209.65,76.25 L209.83,74.43 L210.02,72.60 L210.20,70.76 L210.39,68.90 L210.57,67.04 L210.75,65.18 L210.94,63.32 L211.12,61.47 L211.31,59.63 L211.49,57.81 L211.68,56.01 L211.86,54.24 L212.05,52.49 L212.23,50.78 L212.42,49.10 L212.60,47.47 L212.78,45.88 L212.97,44.34 L213.15,42.85 L213.34,41.42 L213.52,40.04 L213.71,38.73 L213.89,37.49 L214.08,36.31 L214.26,35.20 L214.44,34.17 L214.63,33.21 L214.81,32.33 L215.00,31.53 L215.18,30.82 L215.37,30.18 L215.55,29.64 L215.74,29.18 L215.92,28.80 L216.11,28.52 L216.29,28.32 L216.47,28.21 L216.66,28.20 L216.84,28.27 L217.03,28.44 L217.21,28.69 L217.40,29.04 L217.58,29.47 L217.77,29.99 L217.95,30.60 L218.13,31.29 L218.32,32.07 L218.50,32.93 L218.69,33.86 L218.87,34.88 L219.06,35.97 L219.24,37.13 L219.43,38.37 L219.61,39.67 L219.79,41.03 L219.98,42.46 L220.16,43.94 L220.35,45.48 L220.53,47.06 L220.72,48.70 L220.90,50.37 L221.09,52.09 L221.27,53.84 L221.46,55.62 L221.64,57.43 L221.82,59.26 L222.01,61.11 L222.19,62.97 L222.38,64.85 L222.56,66.73 L222.75,68.61 L222.93,70.48 L223.12,72.35 L223.30,74.20 L223.48,76.04 L223.67,77.86 L223.85,79.66 L224.04,81.42 L224.22,83.15 L224.41,84.84 L224.59,86.50 L224.78,88.10 L224.96,89.66 L225.14,91.16 L225.33,92.61 L225.51,94.00 L225.70,95.33 L225.88,96.59 L226.07,97.78 L226.25,98.90 L226.44,99.95 L226.62,100.92 L226.81,101.81 L226.99,102.62 L227.17,103.35 L227.36,103.99 L227.54,104.55 L227.73,105.02 L227.91,105.40 L228.10,105.69 L228.28,105.89 L228.47,106.00 L228.65,106.03 L228.83,105.96 L229.02,105.80 L229.20,105.54 L229.39,105.20 L229.57,104.78 L229.76,104.26 L229.94,103.66 L230.13,102.97 L230.31,102.20 L230.50,101.35 L230.68,100.42 L230.86,99.41 L231.05,98.32 L231.23,97.16 L231.42,95.94 L231.60,94.64 L231.79,93.28 L231.97,91.87 L232.16,90.39 L232.34,88.86 L232.52,87.28 L232.71,85.65 L232.89,83.98 L233.08,82.27 L233.26,80.52 L233.45,78.75 L233.63,76.94 L233.82,75.12 L234.00,73.27 L234.18,71.41 L234.37,69.55 L234.55,67.67 L234.74,65.80 L234.92,63.93 L235.11,62.06 L235.29,60.21 L235.48,58.37 L235.66,56.56 L235.85,54.77 L236.03,53.01 L236.21,51.28 L236.40,49.59 L236.58,47.94 L236.77,46.33 L236.95,44.78 L237.14,43.27 L237.32,41.83 L237.51,40.44 L237.69,39.11 L237.87,37.85 L238.06,36.66 L238.24,35.54 L238.43,34.49 L238.61,33.52 L238.80,32.62 L238.98,31.81 L239.17,31.08 L239.35,30.44 L239.54,29.88 L239.72,29.41 L239.90,29.02 L240.09,28.73 L240.27,28.52 L240.46,28.41 L240.64,28.38 L240.83,28.45 L241.01,28.60 L241.20,28.85 L241.38,29.19 L241.56,29.62 L241.75,30.13 L241.93,30.73 L242.12,31.42 L242.30,32.19 L242.49,33.04 L242.67,33.97 L242.86,34.98 L243.04,36.07 L243.22,37.23 L243.41,38.46 L243.59,39.75 L243.78,41.12 L243.96,42.54 L244.15,44.02 L244.33,45.55 L244.52,47.14 L244.70,48.77 L244.89,50.45 L245.07,52.16 L245.25,53.91 L245.44,55.70 L245.62,57.51 L245.81,59.34 L245.99,61.19 L246.18,63.06 L246.36,64.93 L246.55,66.81 L246.73,68.70 L246.91,70.58 L247.10,72.45 L247.28,74.31 L247.47,76.15 L247.65,77.98 L247.84,79.78 L248.02,81.55 L248.21,83.28 L248.39,84.98 L248.57,86.64 L248.76,88.26 L248.94,89.82 L249.13,91.33 L249.31,92.79 L249.50,94.19 L249.68,95.52 L249.87,96.79 L250.05,97.99 L250.24,99.12 L250.42,100.18 L250.60,101.16 L250.79,102.06 L250.97,102.88 L251.16,103.61 L251.34,104.26 L251.53,104.83 L251.71,105.31 L251.90,105.70 L252.08,106.00 L252.26,106.21 L252.45,106.33 L252.63,106.36 L252.82,106.30 L253.00,106.14 L253.19,105.90 L253.37,105.57 L253.56,105.14 L253.74,104.63 L253.93,104.04 L254.11,103.35 L254.29,102.59 L254.48,101.74 L254.66,100.81 L254.85,99.80 L255.03,98.72 L255.22,97.57 L255.40,96.34 L255.59,95.05 L255.77,93.69 L255.95,92.27 L256.14,90.79 L256.32,89.26 L256.51,87.68 L256.69,86.05 L256.88,84.37 L257.06,82.66 L257.25,80.91 L257.43,79.13 L257.61,77.32 L257.80,75.49 L257.98,73.64 L258.17,71.78 L258.35,69.90 L258.54,68.02 L258.72,66.14 L258.91,64.26 L259.09,62.39 L259.28,60.53 L259.46,58.68 L259.64,56.86 L259.83,55.06 L260.01,53.29 L260.20,51.55 L260.38,49.85 L260.57,48.19 L260.75,46.57 L260.94,45.01 L261.12,43.49 L261.30,42.03 L261.49,40.63 L261.67,39.30 L261.86,38.02 L262.04,36.82 L262.23,35.69 L262.41,34.63 L262.60,33.65 L262.78,32.74 L262.97,31.92 L263.15,31.18 L263.33,30.53 L263.52,29.96 L263.70,29.48 L263.89,29.08 L264.07,28.78 L264.26,28.56 L264.44,28.44 L264.63,28.41 L264.81,28.46 L264.99,28.61 L265.18,28.85 L265.36,29.18 L265.55,29.60 L265.73,30.11 L265.92,30.70 L266.10,31.38 L266.29,32.14 L266.47,32.99 L266.65,33.91 L266.84,34.91 L267.02,35.99 L267.21,37.14 L267.39,38.37 L267.58,39.66 L267.76,41.01 L267.95,42.43 L268.13,43.90 L268.32,45.43 L268.50,47.01 L268.68,48.64 L268.87,50.31 L269.05,52.03 L269.24,53.77 L269.42,55.55 L269.61,57.36 L269.79,59.19 L269.98,61.04 L270.16,62.90 L270.34,64.78 L270.53,66.66 L270.71,68.54 L270.90,70.42 L271.08,72.29 L271.27,74.15 L271.45,76.00 L271.64,77.82 L271.82,79.63 L272.00,81.40 L272.19,83.14 L272.37,84.84 L272.56,86.50 L272.74,88.12 L272.93,89.69 L273.11,91.21 L273.30,92.67 L273.48,94.07 L273.67,95.41 L273.85,96.69 L274.03,97.89 L274.22,99.03 L274.40,100.09 L274.59,101.07 L274.77,101.98 L274.96,102.81 L275.14,103.55 L275.33,104.21 L275.51,104.78 L275.69,105.27 L275.88,105.67 L276.06,105.98 L276.25,106.19 L276.43,106.32 L276.62,106.36 L276.80,106.30 L276.99,106.16 L277.17,105.92 L277.36,105.60 L277.54,105.19 L277.72,104.68 L277.91,104.09 L278.09,103.42 L278.28,102.66 L278.46,101.82 L278.65,100.90 L278.83,99.90 L279.02,98.82 L279.20,97.67" fill="none" stroke="#ff0000" stroke-width="1.35" stroke-linejoin="round"/>
<path d="M39.55,61.73 L39.73,61.90 L39.92,62.09 L40.10,62.28 L40.29,62.49 L40.47,62.71 L40.66,62.94 L40.84,63.17 L41.03,63.42 L41.21,63.68 L41.39,63.94 L41.58,64.22 L41.76,64.50 L41.95,64.78 L42.13,65.08 L42.32,65.37 L42.50,65.68 L42.69,65.98 L42.87,66.29 L43.06,66.60 L43.24,66.91 L43.42,67.23 L43.61,67.54 L43.79,67.85 L43.98,68.16 L44.16,68.47 L44.35,68.78 L44.53,69.08 L44.72,69.38 L44.90,69.67 L45.08,69.96 L45.27,70.24 L45.45,70.52 L45.64,70.78 L45.82,71.04 L46.01,71.29 L46.19,71.53 L46.38,71.76 L46.56,71.98 L46.75,72.19 L46.93,72.39 L47.11,72.57 L47.30,72.74 L47.48,72.90 L47.67,73.05 L47.85,73.18 L48.04,73.30 L48.22,73.40 L48.41,73.49 L48.59,73.57 L48.77,73.63 L48.96,73.68 L49.14,73.71 L49.33,73.72 L49.51,73.72 L49.70,73.71 L49.88,73.68 L50.07,73.63 L50.25,73.57 L50.43,73.50 L50.62,73.41 L50.80,73.31 L50.99,73.19 L51.17,73.06 L51.36,72.91 L51.54,72.75 L51.73,72.58 L51.91,72.40 L52.10,72.20 L52.28,71.99 L52.46,71.77 L52.65,71.54 L52.83,71.30 L53.02,71.06 L53.20,70.80 L53.39,70.53 L53.57,70.26 L53.76,69.98 L53.94,69.69 L54.12,69.40 L54.31,69.10 L54.49,68.80 L54.68,68.49 L54.86,68.18 L55.05,67.87 L55.23,67.56 L55.42,67.24 L55.60,66.93 L55.78,66.62 L55.97,66.31 L56.15,66.00 L56.34,65.69 L56.52,65.39 L56.71,65.09 L56.89,64.80 L57.08,64.51 L57.26,64.23 L57.45,63.96 L57.63,63.69 L57.81,63.44 L58.00,63.19 L58.18,62.95 L58.37,62.72 L58.55,62.50 L58.74,62.29 L58.92,62.10 L59.11,61.91 L59.29,61.74 L59.47,61.58 L59.66,61.44 L59.84,61.31 L60.03,61.19 L60.21,61.09 L60.40,61.00 L60.58,60.92 L60.77,60.87 L60.95,60.82 L61.14,60.79 L61.32,60.78 L61.50,60.78 L61.69,60.79 L61.87,60.83 L62.06,60.87 L62.24,60.93 L62.43,61.01 L62.61,61.10 L62.80,61.20 L62.98,61.32 L63.16,61.46 L63.35,61.60 L63.53,61.76 L63.72,61.94 L63.90,62.12 L64.09,62.32 L64.27,62.53 L64.46,62.75 L64.64,62.98 L64.82,63.22 L65.01,63.47 L65.19,63.73 L65.38,63.99 L65.56,64.27 L65.75,64.55 L65.93,64.84 L66.12,65.13 L66.30,65.43 L66.49,65.73 L66.67,66.04 L66.85,66.35 L67.04,66.66 L67.22,66.97 L67.41,67.28 L67.59,67.60 L67.78,67.91 L67.96,68.22 L68.15,68.53 L68.33,68.83 L68.51,69.14 L68.70,69.43 L68.88,69.73 L69.07,70.01 L69.25,70.29 L69.44,70.57 L69.62,70.83 L69.81,71.09 L69.99,71.34 L70.18,71.57 L70.36,71.80 L70.54,72.02 L70.73,72.23 L70.91,72.42 L71.10,72.60 L71.28,72.77 L71.47,72.93 L71.65,73.07 L71.84,73.20 L72.02,73.32 L72.20,73.42 L72.39,73.51 L72.57,73.58 L72.76,73.64 L72.94,73.68 L73.13,73.71 L73.31,73.72 L73.50,73.72 L73.68,73.70 L73.86,73.67 L74.05,73.62 L74.23,73.56 L74.42,73.48 L74.60,73.39 L74.79,73.28 L74.97,73.16 L75.16,73.03 L75.34,72.88 L75.53,72.72 L75.71,72.55 L75.89,72.36 L76.08,72.16 L76.26,71.95 L76.45,71.73 L76.63,71.50 L76.82,71.26 L77.00,71.01 L77.19,70.75 L77.37,70.48 L77.55,70.21 L77.74,69.92 L77.92,69.64 L78.11,69.34 L78.29,69.04 L78.48,68.74 L78.66,68.43 L78.85,68.12 L79.03,67.81 L79.21,67.50 L79.40,67.19 L79.58,66.87 L79.77,66.56 L79.95,66.25 L80.14,65.94 L80.32,65.64 L80.51,65.34 L80.69,65.04 L80.88,64.75 L81.06,64.46 L81.24,64.18 L81.43,63.91 L81.61,63.65 L81.80,63.39 L81.98,63.14 L82.17,62.91 L82.35,62.68 L82.54,62.46 L82.72,62.26 L82.90,62.06 L83.09,61.88 L83.27,61.71 L83.46,61.56 L83.64,61.41 L83.83,61.29 L84.01,61.17 L84.20,61.07 L84.38,60.98 L84.57,60.91 L84.75,60.86 L84.93,60.81 L85.12,60.79 L85.30,60.78 L85.49,60.78 L85.67,60.80 L85.86,60.83 L86.04,60.88 L86.23,60.95 L86.41,61.02 L86.59,61.12 L86.78,61.23 L86.96,61.35 L87.15,61.48 L87.33,61.63 L87.52,61.79 L87.70,61.97 L87.89,62.16 L88.07,62.36 L88.25,62.57 L88.44,62.79 L88.62,63.02 L88.81,63.26 L88.99,63.51 L89.18,63.77 L89.36,64.04 L89.55,64.32 L89.73,64.60 L89.92,64.89 L90.10,65.18 L90.28,65.48 L90.47,65.79 L90.65,66.09 L90.84,66.40 L91.02,66.72 L91.21,67.03 L91.39,67.34 L91.58,67.65 L91.76,67.97 L91.94,68.28 L92.13,68.58 L92.31,68.89 L92.50,69.19 L92.68,69.49 L92.87,69.78 L93.05,70.06 L93.24,70.34 L93.42,70.61 L93.61,70.88 L93.79,71.13 L93.97,71.38 L94.16,71.62 L94.34,71.84 L94.53,72.06 L94.71,72.26 L94.90,72.45 L95.08,72.63 L95.27,72.80 L95.45,72.96 L95.63,73.10 L95.82,73.23 L96.00,73.34 L96.19,73.44 L96.37,73.52 L96.56,73.59 L96.74,73.65 L96.93,73.69 L97.11,73.71 L97.29,73.72 L97.48,73.72 L97.66,73.70 L97.85,73.66 L98.03,73.61 L98.22,73.55 L98.40,73.47 L98.59,73.37 L98.77,73.26 L98.96,73.14 L99.14,73.00 L99.32,72.85 L99.51,72.69 L99.69,72.51 L99.88,72.33 L100.06,72.13 L100.25,71.91 L100.43,71.69 L100.62,71.46 L100.80,71.21 L100.98,70.96 L101.17,70.70 L101.35,70.43 L101.54,70.16 L101.72,69.87 L101.91,69.58 L102.09,69.29 L102.28,68.99 L102.46,68.69 L102.64,68.38 L102.83,68.07 L103.01,67.76 L103.20,67.44 L103.38,67.13 L103.57,66.82 L103.75,66.51 L103.94,66.20 L104.12,65.89 L104.31,65.58 L104.49,65.28 L104.67,64.99 L104.86,64.70 L105.04,64.41 L105.23,64.13 L105.41,63.86 L105.60,63.60 L105.78,63.34 L105.97,63.10 L106.15,62.86 L106.33,62.64 L106.52,62.42 L106.70,62.22 L106.89,62.03 L107.07,61.85 L107.26,61.68 L107.44,61.53 L107.63,61.39 L107.81,61.26 L108.00,61.15 L108.18,61.05 L108.36,60.97 L108.55,60.90 L108.73,60.85 L108.92,60.81 L109.10,60.78 L109.29,60.78 L109.47,60.78 L109.66,60.80 L109.84,60.84 L110.02,60.89 L110.21,60.96 L110.39,61.04 L110.58,61.14 L110.76,61.25 L110.95,61.37 L111.13,61.51 L111.32,61.66 L111.50,61.82 L111.68,62.00 L111.87,62.19 L112.05,62.39 L112.24,62.61 L112.42,62.83 L112.61,63.06 L112.79,63.31 L112.98,63.56 L113.16,63.82 L113.35,64.09 L113.53,64.37 L113.71,64.65 L113.90,64.94 L114.08,65.24 L114.27,65.54 L114.45,65.84 L114.64,66.15 L114.82,66.46 L115.01,66.77 L115.19,67.08 L115.37,67.40 L115.56,67.71 L115.74,68.02 L115.93,68.33 L116.11,68.64 L116.30,68.94 L116.48,69.24 L116.67,69.54 L116.85,69.83 L117.03,70.12 L117.22,70.39 L117.40,70.66 L117.59,70.93 L117.77,71.18 L117.96,71.42 L118.14,71.66 L118.33,71.88 L118.51,72.10 L118.70,72.30 L118.88,72.49 L119.06,72.67 L119.25,72.83 L119.43,72.98 L119.62,73.12 L119.80,73.25 L119.99,73.36 L120.17,73.45 L120.36,73.54 L120.54,73.60 L120.72,73.66 L120.91,73.69 L121.09,73.72 L121.28,73.72 L121.46,73.72 L121.65,73.69 L121.83,73.66 L122.02,73.60 L122.20,73.53 L122.39,73.45 L122.57,73.35 L122.75,73.24 L122.94,73.12 L123.12,72.98 L123.31,72.83 L123.49,72.66 L123.68,72.48 L123.86,72.29 L124.05,72.09 L124.23,71.87 L124.41,71.65 L124.60,71.41 L124.78,71.17 L124.97,70.92 L125.15,70.65 L125.34,70.38 L125.52,70.11 L125.71,69.82 L125.89,69.53 L126.07,69.23 L126.26,68.93 L126.44,68.63 L126.63,68.32 L126.81,68.01 L127.00,67.70 L127.18,67.39 L127.37,67.07 L127.55,66.76 L127.74,66.45 L127.92,66.14 L128.10,65.83 L128.29,65.53 L128.47,65.23 L128.66,64.93 L128.84,64.64 L129.03,64.36 L129.21,64.08 L129.40,63.81 L129.58,63.55 L129.76,63.30 L129.95,63.06 L130.13,62.82 L130.32,62.60 L130.50,62.39 L130.69,62.18 L130.87,62.00 L131.06,61.82 L131.24,61.65 L131.43,61.50 L131.61,61.37 L131.79,61.24 L131.98,61.13 L132.16,61.04 L132.35,60.96 L132.53,60.89 L132.72,60.84 L132.90,60.80 L133.09,60.78 L133.27,60.78 L133.45,60.79 L133.64,60.81 L133.82,60.85 L134.01,60.90 L134.19,60.97 L134.38,61.06 L134.56,61.16 L134.75,61.27 L134.93,61.39 L135.11,61.54 L135.30,61.69 L135.48,61.86 L135.67,62.04 L135.85,62.23 L136.04,62.43 L136.22,62.65 L136.41,62.87 L136.59,63.11 L136.78,63.35 L136.96,63.61 L137.14,63.87 L137.33,64.14 L137.51,64.42 L137.70,64.71 L137.88,65.00 L138.07,65.29 L138.25,65.59 L138.44,65.90 L138.62,66.21 L138.80,66.52 L138.99,66.83 L139.17,67.14 L139.36,67.45 L139.54,67.77 L139.73,68.08 L139.91,68.39 L140.10,68.70 L140.28,69.00 L140.46,69.30 L140.65,69.59 L140.83,69.88 L141.02,70.17 L141.20,70.44 L141.39,70.71 L141.57,70.97 L141.76,71.22 L141.94,71.47 L142.13,71.70 L142.31,71.92 L142.49,72.13 L142.68,72.33 L142.86,72.52 L143.05,72.70 L143.23,72.86 L143.42,73.01 L143.60,73.15 L143.79,73.27 L143.97,73.38 L144.15,73.47 L144.34,73.55 L144.52,73.61 L144.71,73.66 L144.89,73.70 L145.08,73.72 L145.26,73.72 L145.45,73.71 L145.63,73.69 L145.82,73.65 L146.00,73.59 L146.18,73.52 L146.37,73.43 L146.55,73.34 L146.74,73.22 L146.92,73.09 L147.11,72.95 L147.29,72.80 L147.48,72.63 L147.66,72.45 L147.84,72.25 L148.03,72.05 L148.21,71.83 L148.40,71.61 L148.58,71.37 L148.77,71.12 L148.95,70.87 L149.14,70.61 L149.32,70.33 L149.50,70.05 L149.69,69.77 L149.87,69.48 L150.06,69.18 L150.24,68.88 L150.43,68.57 L150.61,68.27 L150.80,67.96 L150.98,67.64 L151.17,67.33 L151.35,67.02 L151.53,66.70 L151.72,66.39 L151.90,66.08 L152.09,65.78 L152.27,65.47 L152.46,65.17 L152.64,64.88 L152.83,64.59 L153.01,64.31 L153.19,64.03 L153.38,63.77 L153.56,63.51 L153.75,63.25 L153.93,63.01 L154.12,62.78 L154.30,62.56 L154.49,62.35 L154.67,62.15 L154.86,61.96 L155.04,61.79 L155.22,61.63 L155.41,61.48 L155.59,61.34 L155.78,61.22 L155.96,61.11 L156.15,61.02 L156.33,60.94 L156.52,60.88 L156.70,60.83 L156.88,60.80 L157.07,60.78 L157.25,60.78 L157.44,60.79 L157.62,60.81 L157.81,60.86 L157.99,60.91 L158.18,60.98 L158.36,61.07 L158.54,61.17 L158.73,61.28 L158.91,61.41 L159.10,61.55 L159.28,61.70 L159.47,61.87 L159.65,62.05 L159.84,62.24 L160.02,62.44 L160.21,62.66 L160.39,62.88 L160.57,63.11 L160.76,63.36 L160.94,63.61 L161.13,63.87 L161.31,64.14 L161.50,64.42 L161.68,64.70 L161.87,64.99 L162.05,65.28 L162.23,65.58 L162.42,65.88 L162.60,66.19 L162.79,66.49 L162.97,66.80 L163.16,67.11 L163.34,67.43 L163.53,67.74 L163.71,68.04 L163.89,68.35 L164.08,68.66 L164.26,68.96 L164.45,69.26 L164.63,69.55 L164.82,69.84 L165.00,70.12 L165.19,70.39 L165.37,70.66 L165.56,70.92 L165.74,71.17 L165.92,71.42 L166.11,71.65 L166.29,71.87 L166.48,72.08 L166.66,72.29 L166.85,72.47 L167.03,72.65 L167.22,72.82 L167.40,72.97 L167.58,73.11 L167.77,73.23 L167.95,73.35 L168.14,73.44 L168.32,73.53 L168.51,73.60 L168.69,73.65 L168.88,73.69 L169.06,73.71 L169.25,73.72 L169.43,73.72 L169.61,73.70 L169.80,73.66 L169.98,73.61 L170.17,73.55 L170.35,73.47 L170.54,73.38 L170.72,73.27 L170.91,73.15 L171.09,73.02 L171.27,72.87 L171.46,72.71 L171.64,72.53 L171.83,72.35 L172.01,72.15 L172.20,71.94 L172.38,71.72 L172.57,71.49 L172.75,71.25 L172.93,71.00 L173.12,70.75 L173.30,70.48 L173.49,70.21 L173.67,69.93 L173.86,69.64 L174.04,69.35 L174.23,69.06 L174.41,68.75 L174.60,68.45 L174.78,68.14 L174.96,67.84 L175.15,67.53 L175.33,67.22 L175.52,66.90 L175.70,66.59 L175.89,66.29 L176.07,65.98 L176.26,65.68 L176.44,65.38 L176.62,65.08 L176.81,64.79 L176.99,64.51 L177.18,64.23 L177.36,63.96 L177.55,63.69 L177.73,63.44 L177.92,63.19 L178.10,62.95 L178.29,62.73 L178.47,62.51 L178.65,62.30 L178.84,62.11 L179.02,61.93 L179.21,61.76 L179.39,61.60 L179.58,61.45 L179.76,61.32 L179.95,61.20 L180.13,61.10 L180.31,61.01 L180.50,60.93 L180.68,60.87 L180.87,60.83 L181.05,60.80 L181.24,60.78 L181.42,60.78 L181.61,60.79 L181.79,60.82 L181.97,60.86 L182.16,60.92 L182.34,60.99 L182.53,61.08 L182.71,61.18 L182.90,61.29 L183.08,61.42 L183.27,61.56 L183.45,61.72 L183.64,61.89 L183.82,62.07 L184.00,62.26 L184.19,62.46 L184.37,62.68 L184.56,62.90 L184.74,63.14 L184.93,63.38 L185.11,63.64 L185.30,63.90 L185.48,64.17 L185.66,64.44 L185.85,64.73 L186.03,65.02 L186.22,65.31 L186.40,65.61 L186.59,65.91 L186.77,66.22 L186.96,66.52 L187.14,66.83 L187.32,67.14 L187.51,67.46 L187.69,67.77 L187.88,68.07 L188.06,68.38 L188.25,68.69 L188.43,68.99 L188.62,69.28 L188.80,69.58 L188.99,69.86 L189.17,70.15 L189.35,70.42 L189.54,70.69 L189.72,70.95 L189.91,71.20 L190.09,71.44 L190.28,71.67 L190.46,71.89 L190.65,72.10 L190.83,72.30 L191.01,72.49 L191.20,72.67 L191.38,72.83 L191.57,72.98 L191.75,73.12 L191.94,73.25 L192.12,73.36 L192.31,73.45 L192.49,73.53 L192.68,73.60 L192.86,73.65 L193.04,73.69 L193.23,73.72 L193.41,73.72 L193.60,73.72 L193.78,73.70 L193.97,73.66 L194.15,73.61 L194.34,73.54 L194.52,73.46 L194.70,73.37 L194.89,73.26 L195.07,73.14 L195.26,73.00 L195.44,72.85 L195.63,72.69 L195.81,72.52 L196.00,72.33 L196.18,72.13 L196.36,71.92 L196.55,71.70 L196.73,71.47 L196.92,71.23 L197.10,70.98 L197.29,70.72 L197.47,70.46 L197.66,70.18 L197.84,69.90 L198.03,69.61 L198.21,69.32 L198.39,69.03 L198.58,68.73 L198.76,68.42 L198.95,68.11 L199.13,67.81 L199.32,67.50 L199.50,67.18 L199.69,66.87 L199.87,66.56 L200.05,66.26 L200.24,65.95 L200.42,65.65 L200.61,65.35 L200.79,65.05 L200.98,64.76 L201.16,64.48 L201.35,64.20 L201.53,63.93 L201.72,63.67 L201.90,63.41 L202.08,63.17 L202.27,62.93 L202.45,62.71 L202.64,62.49 L202.82,62.28 L203.01,62.09 L203.19,61.91 L203.38,61.74 L203.56,61.58 L203.74,61.44 L203.93,61.31 L204.11,61.19 L204.30,61.09 L204.48,61.00 L204.67,60.93 L204.85,60.87 L205.04,60.82 L205.22,60.79 L205.40,60.78 L205.59,60.78 L205.77,60.79 L205.96,60.82 L206.14,60.87 L206.33,60.93 L206.51,61.00 L206.70,61.09 L206.88,61.19 L207.07,61.31 L207.25,61.44 L207.43,61.58 L207.62,61.73 L207.80,61.90 L207.99,62.09 L208.17,62.28 L208.36,62.48 L208.54,62.70 L208.73,62.92 L208.91,63.16 L209.09,63.41 L209.28,63.66 L209.46,63.92 L209.65,64.19 L209.83,64.47 L210.02,64.76 L210.20,65.04 L210.39,65.34 L210.57,65.64 L210.75,65.94 L210.94,66.25 L211.12,66.55 L211.31,66.86 L211.49,67.17 L211.68,67.49 L211.86,67.80 L212.05,68.10 L212.23,68.41 L212.42,68.72 L212.60,69.02 L212.78,69.31 L212.97,69.61 L213.15,69.89 L213.34,70.17 L213.52,70.45 L213.71,70.71 L213.89,70.97 L214.08,71.22 L214.26,71.46 L214.44,71.69 L214.63,71.91 L214.81,72.12 L215.00,72.32 L215.18,72.51 L215.37,72.69 L215.55,72.85 L215.74,73.00 L215.92,73.13 L216.11,73.26 L216.29,73.37 L216.47,73.46 L216.66,73.54 L216.84,73.61 L217.03,73.66 L217.21,73.70 L217.40,73.72 L217.58,73.72 L217.77,73.72 L217.95,73.69 L218.13,73.66 L218.32,73.60 L218.50,73.54 L218.69,73.45 L218.87,73.36 L219.06,73.25 L219.24,73.13 L219.43,72.99 L219.61,72.84 L219.79,72.67 L219.98,72.50 L220.16,72.31 L220.35,72.11 L220.53,71.90 L220.72,71.68 L220.90,71.45 L221.09,71.21 L221.27,70.95 L221.46,70.70 L221.64,70.43 L221.82,70.15 L222.01,69.87 L222.19,69.59 L222.38,69.29 L222.56,69.00 L222.75,68.70 L222.93,68.39 L223.12,68.08 L223.30,67.78 L223.48,67.47 L223.67,67.15 L223.85,66.84 L224.04,66.53 L224.22,66.23 L224.41,65.92 L224.59,65.62 L224.78,65.32 L224.96,65.03 L225.14,64.74 L225.33,64.45 L225.51,64.18 L225.70,63.91 L225.88,63.64 L226.07,63.39 L226.25,63.15 L226.44,62.91 L226.62,62.68 L226.81,62.47 L226.99,62.27 L227.17,62.07 L227.36,61.89 L227.54,61.72 L227.73,61.57 L227.91,61.43 L228.10,61.30 L228.28,61.18 L228.47,61.08 L228.65,60.99 L228.83,60.92 L229.02,60.86 L229.20,60.82 L229.39,60.79 L229.57,60.78 L229.76,60.78 L229.94,60.79 L230.13,60.83 L230.31,60.87 L230.50,60.93 L230.68,61.01 L230.86,61.10 L231.05,61.20 L231.23,61.32 L231.42,61.45 L231.60,61.59 L231.79,61.75 L231.97,61.92 L232.16,62.10 L232.34,62.30 L232.52,62.50 L232.71,62.72 L232.89,62.95 L233.08,63.18 L233.26,63.43 L233.45,63.69 L233.63,63.95 L233.82,64.22 L234.00,64.50 L234.18,64.78 L234.37,65.07 L234.55,65.37 L234.74,65.67 L234.92,65.97 L235.11,66.28 L235.29,66.58 L235.48,66.89 L235.66,67.21 L235.85,67.52 L236.03,67.83 L236.21,68.13 L236.40,68.44 L236.58,68.75 L236.77,69.05 L236.95,69.34 L237.14,69.63 L237.32,69.92 L237.51,70.20 L237.69,70.47 L237.87,70.74 L238.06,71.00 L238.24,71.25 L238.43,71.48 L238.61,71.72 L238.80,71.93 L238.98,72.14 L239.17,72.34 L239.35,72.53 L239.54,72.70 L239.72,72.86 L239.90,73.01 L240.09,73.15 L240.27,73.27 L240.46,73.38 L240.64,73.47 L240.83,73.55 L241.01,73.61 L241.20,73.66 L241.38,73.70 L241.56,73.72 L241.75,73.72 L241.93,73.71 L242.12,73.69 L242.30,73.65 L242.49,73.60 L242.67,73.53 L242.86,73.45 L243.04,73.35 L243.22,73.24 L243.41,73.11 L243.59,72.97 L243.78,72.82 L243.96,72.66 L244.15,72.48 L244.33,72.29 L244.52,72.09 L244.70,71.88 L244.89,71.66 L245.07,71.42 L245.25,71.18 L245.44,70.93 L245.62,70.67 L245.81,70.40 L245.99,70.13 L246.18,69.85 L246.36,69.56 L246.55,69.27 L246.73,68.97 L246.91,68.67 L247.10,68.36 L247.28,68.05 L247.47,67.75 L247.65,67.44 L247.84,67.12 L248.02,66.81 L248.21,66.50 L248.39,66.20 L248.57,65.89 L248.76,65.59 L248.94,65.29 L249.13,65.00 L249.31,64.71 L249.50,64.43 L249.68,64.15 L249.87,63.88 L250.05,63.62 L250.24,63.37 L250.42,63.12 L250.60,62.89 L250.79,62.66 L250.97,62.45 L251.16,62.25 L251.34,62.05 L251.53,61.88 L251.71,61.71 L251.90,61.55 L252.08,61.41 L252.26,61.29 L252.45,61.17 L252.63,61.07 L252.82,60.99 L253.00,60.91 L253.19,60.86 L253.37,60.82 L253.56,60.79 L253.74,60.78 L253.93,60.78 L254.11,60.80 L254.29,60.83 L254.48,60.88 L254.66,60.94 L254.85,61.01 L255.03,61.11 L255.22,61.21 L255.40,61.33 L255.59,61.46 L255.77,61.61 L255.95,61.77 L256.14,61.94 L256.32,62.12 L256.51,62.32 L256.69,62.52 L256.88,62.74 L257.06,62.97 L257.25,63.21 L257.43,63.46 L257.61,63.71 L257.80,63.98 L257.98,64.25 L258.17,64.53 L258.35,64.81 L258.54,65.10 L258.72,65.40 L258.91,65.70 L259.09,66.00 L259.28,66.31 L259.46,66.61 L259.64,66.92 L259.83,67.24 L260.01,67.55 L260.20,67.86 L260.38,68.16 L260.57,68.47 L260.75,68.77 L260.94,69.07 L261.12,69.37 L261.30,69.66 L261.49,69.95 L261.67,70.23 L261.86,70.50 L262.04,70.76 L262.23,71.02 L262.41,71.27 L262.60,71.51 L262.78,71.74 L262.97,71.96 L263.15,72.16 L263.33,72.36 L263.52,72.55 L263.70,72.72 L263.89,72.88 L264.07,73.02 L264.26,73.16 L264.44,73.28 L264.63,73.38 L264.81,73.48 L264.99,73.55 L265.18,73.62 L265.36,73.67 L265.55,73.70 L265.73,73.72 L265.92,73.72 L266.10,73.71 L266.29,73.69 L266.47,73.65 L266.65,73.59 L266.84,73.52 L267.02,73.44 L267.21,73.34 L267.39,73.23 L267.58,73.10 L267.76,72.96 L267.95,72.81 L268.13,72.64 L268.32,72.46 L268.50,72.27 L268.68,72.07 L268.87,71.86 L269.05,71.63 L269.24,71.40 L269.42,71.16 L269.61,70.91 L269.79,70.64 L269.98,70.38 L270.16,70.10 L270.34,69.82 L270.53,69.53 L270.71,69.24 L270.90,68.94 L271.08,68.64 L271.27,68.33 L271.45,68.02 L271.64,67.72 L271.82,67.40 L272.00,67.09 L272.19,66.78 L272.37,66.47 L272.56,66.17 L272.74,65.86 L272.93,65.56 L273.11,65.26 L273.30,64.97 L273.48,64.68 L273.67,64.40 L273.85,64.12 L274.03,63.85 L274.22,63.59 L274.40,63.34 L274.59,63.10 L274.77,62.87 L274.96,62.64 L275.14,62.43 L275.33,62.23 L275.51,62.04 L275.69,61.86 L275.88,61.69 L276.06,61.54 L276.25,61.40 L276.43,61.27 L276.62,61.16 L276.80,61.06 L276.99,60.98 L277.17,60.91 L277.36,60.85 L277.54,60.81 L277.72,60.79 L277.91,60.78 L278.09,60.78 L278.28,60.80 L278.46,60.83 L278.65,60.88 L278.83,60.95 L279.02,61.02 L279.20,61.12" fill="none" stroke="#00ff00" stroke-width="1.35" stroke-linejoin="round"/>
</g>
<text x="39.55" y="132.80" font-size="8.2" text-anchor="middle">0</text>
<text x="99.46" y="132.80" font-size="8.2" text-anchor="middle">0.05</text>
<text x="159.38" y="132.80" font-size="8.2" text-anchor="middle">0.1</text>
<text x="219.29" y="132.80" font-size="8.2" text-anchor="middle">0.15</text>
<text x="279.20" y="132.80" font-size="8.2" text-anchor="middle">0.2</text>
<text x="36.25" y="123.40" font-size="8.2" text-anchor="end">-4000</text>
<text x="36.25" y="96.97" font-size="8.2" text-anchor="end">-2000</text>
<text x="36.25" y="70.55" font-size="8.2" text-anchor="end">0</text>
<text x="36.25" y="44.12" font-size="8.2" text-anchor="end">2000</text>
<text x="36.25" y="17.70" font-size="8.2" text-anchor="end">4000</text>
<text x="160.20" y="145.30" font-size="9.1" text-anchor="middle">Time (s)</text>
<text x="158.90" y="157.90" font-size="9.0" text-anchor="middle">(a)</text>
<text x="9.10" y="68.60" font-size="9.05" text-anchor="middle" transform="rotate(-90 9.10 68.60)">Current (A)</text>
<rect x="43.1" y="16.5" width="69.45" height="34.60" fill="#fff" stroke="#5a5a5a" stroke-width="1.0"/>
<path d="M46.1,23.5 L76.8,23.5" stroke="#0000ff" stroke-width="1.4" fill="none"/>
<text x="79.30" y="27.10" font-size="8.2" text-anchor="start">Phase A</text>
<path d="M46.1,34.1 L76.8,34.1" stroke="#ff0000" stroke-width="1.4" fill="none"/>
<text x="79.30" y="37.60" font-size="8.2" text-anchor="start">Phase B</text>
<path d="M46.1,44.9 L76.8,44.9" stroke="#00ff00" stroke-width="1.4" fill="none"/>
<text x="79.30" y="48.60" font-size="8.2" text-anchor="start">Phase C</text>
<rect x="311.6" y="14.6" width="229.10" height="103.70" fill="none" stroke="#5a5a5a" stroke-width="1.1"/>
<path d="M368.88,118.3 v-2.5 M368.88,14.6 v2.5 M426.15,118.3 v-2.5 M426.15,14.6 v2.5 M483.43,118.3 v-2.5 M483.43,14.6 v2.5 M311.6,92.38 h2.5 M540.7,92.38 h-2.5 M311.6,66.45 h2.5 M540.7,66.45 h-2.5 M311.6,40.52 h2.5 M540.7,40.52 h-2.5 " fill="none" stroke="#5a5a5a" stroke-width="0.7"/>
<g clip-path="url(#cb)">
<path d="M311.60,116.82 L311.73,116.76 L311.85,116.70 L311.98,116.64 L312.11,116.58 L312.24,116.53 L312.36,116.48 L312.49,116.43 L312.62,116.39 L312.75,116.36 L312.87,116.32 L313.00,116.29 L313.13,116.27 L313.26,116.25 L313.38,116.24 L313.51,116.23 L313.64,116.23 L313.76,116.23 L313.89,116.23 L314.02,116.24 L314.15,116.26 L314.27,116.28 L314.40,116.31 L314.53,116.34 L314.66,116.37 L314.78,116.41 L314.91,116.46 L315.04,116.50 L315.17,116.55 L315.29,116.61 L315.42,116.67 L315.55,116.73 L315.68,116.79 L315.80,116.85 L315.93,116.92 L316.06,116.99 L316.18,117.06 L316.31,117.13 L316.44,117.20 L316.57,117.28 L316.69,117.35 L316.82,117.42 L316.95,117.49 L317.08,117.56 L317.20,117.63 L317.33,117.69 L317.46,117.76 L317.59,117.82 L317.71,117.88 L317.84,117.94 L317.97,117.99 L318.09,118.04 L318.22,118.09 L318.35,118.13 L318.48,118.17 L318.60,118.20 L318.73,118.23 L318.86,118.25 L318.99,118.27 L319.11,118.29 L319.24,118.30 L319.37,118.30 L319.50,118.30 L319.62,118.29 L319.75,118.28 L319.88,118.27 L320.01,118.25 L320.13,118.22 L320.26,118.19 L320.39,118.16 L320.51,118.12 L320.64,118.08 L320.77,118.03 L320.90,117.98 L321.02,117.93 L321.15,117.87 L321.28,117.81 L321.41,117.75 L321.53,117.68 L321.66,117.62 L321.79,117.55 L321.92,117.48 L322.04,117.41 L322.17,117.33 L322.30,117.26 L322.42,117.19 L322.55,117.12 L322.68,117.05 L322.81,116.98 L322.93,116.91 L323.06,116.84 L323.19,116.78 L323.32,116.71 L323.44,116.65 L323.57,116.60 L323.70,116.54 L323.83,116.49 L323.95,116.45 L324.08,116.40 L324.21,116.37 L324.33,116.33 L324.46,116.30 L324.59,116.28 L324.72,116.26 L324.84,116.24 L324.97,116.23 L325.10,116.23 L325.23,116.23 L325.35,116.23 L325.48,116.24 L325.61,116.26 L325.74,116.28 L325.86,116.30 L325.99,116.33 L326.12,116.36 L326.25,116.40 L326.37,116.44 L326.50,116.49 L326.63,116.54 L326.75,116.59 L326.88,116.65 L327.01,116.71 L327.14,116.77 L327.26,116.83 L327.39,116.90 L327.52,116.97 L327.65,117.04 L327.77,117.11 L327.90,117.18 L328.03,117.25 L328.16,117.33 L328.28,117.40 L328.41,117.47 L328.54,117.54 L328.66,117.61 L328.79,117.67 L328.92,117.74 L329.05,117.80 L329.17,117.86 L329.30,117.92 L329.43,117.97 L329.56,118.03 L329.68,118.07 L329.81,118.12 L329.94,118.15 L330.07,118.19 L330.19,118.22 L330.32,118.24 L330.45,118.27 L330.57,118.28 L330.70,118.29 L330.83,118.30 L330.96,118.30 L331.08,118.30 L331.21,118.29 L331.34,118.27 L331.47,118.25 L331.59,118.23 L331.72,118.20 L331.85,118.17 L331.98,118.13 L332.10,118.09 L332.23,118.05 L332.36,118.00 L332.49,117.94 L332.61,117.89 L332.74,117.83 L332.87,117.77 L332.99,117.70 L333.12,117.64 L333.25,117.57 L333.38,117.50 L333.50,117.43 L333.63,117.36 L333.76,117.28 L333.89,117.21 L334.01,117.14 L334.14,117.07 L334.27,117.00 L334.40,116.93 L334.52,116.86 L334.65,116.80 L334.78,116.73 L334.90,116.67 L335.03,116.61 L335.16,116.56 L335.29,116.51 L335.41,116.46 L335.54,116.42 L335.67,116.38 L335.80,116.34 L335.92,116.31 L336.05,116.28 L336.18,116.26 L336.31,116.25 L336.43,116.23 L336.56,116.23 L336.69,116.23 L336.82,116.23 L336.94,116.24 L337.07,116.25 L337.20,116.27 L337.32,116.29 L337.45,116.32 L337.58,116.35 L337.71,116.39 L337.83,116.43 L337.96,116.47 L338.09,116.52 L338.22,116.57 L338.34,116.63 L338.47,116.69 L338.60,116.75 L338.73,116.81 L338.85,116.88 L338.98,116.95 L339.11,117.02 L339.23,117.09 L339.36,117.16 L339.49,117.23 L339.62,117.30 L339.74,117.38 L339.87,117.45 L340.00,117.52 L340.13,117.59 L340.25,117.65 L340.38,117.72 L340.51,117.78 L340.64,117.85 L340.76,117.90 L340.89,117.96 L341.02,118.01 L341.14,118.06 L341.27,118.10 L341.40,118.14 L341.53,118.18 L341.65,118.21 L341.78,118.24 L341.91,118.26 L342.04,118.28 L342.16,118.29 L342.29,118.30 L342.42,118.30 L342.55,118.30 L342.67,118.29 L342.80,118.28 L342.93,118.26 L343.06,118.24 L343.18,118.21 L343.31,118.18 L343.44,118.14 L343.56,118.10 L343.69,118.06 L343.82,118.01 L343.95,117.96 L344.07,117.90 L344.20,117.85 L344.33,117.79 L344.46,117.72 L344.58,117.66 L344.71,117.59 L344.84,117.52 L344.97,117.45 L345.09,117.38 L345.22,117.31 L345.35,117.23 L345.47,117.16 L345.60,117.09 L345.73,117.02 L345.86,116.95 L345.98,116.88 L346.11,116.82 L346.24,116.75 L346.37,116.69 L346.49,116.63 L346.62,116.58 L346.75,116.52 L346.88,116.47 L347.00,116.43 L347.13,116.39 L347.26,116.35 L347.38,116.32 L347.51,116.29 L347.64,116.27 L347.77,116.25 L347.89,116.24 L348.02,116.23 L348.15,116.23 L348.28,116.23 L348.40,116.23 L348.53,116.25 L348.66,116.26 L348.79,116.28 L348.91,116.31 L349.04,116.34 L349.17,116.38 L349.30,116.42 L349.42,116.46 L349.55,116.51 L349.68,116.56 L349.80,116.61 L349.93,116.67 L350.06,116.73 L350.19,116.79 L350.31,116.86 L350.44,116.93 L350.57,117.00 L350.70,117.07 L350.82,117.14 L350.95,117.21 L351.08,117.28 L351.21,117.35 L351.33,117.43 L351.46,117.50 L351.59,117.57 L351.71,117.63 L351.84,117.70 L351.97,117.76 L352.10,117.83 L352.22,117.89 L352.35,117.94 L352.48,117.99 L352.61,118.04 L352.73,118.09 L352.86,118.13 L352.99,118.17 L353.12,118.20 L353.24,118.23 L353.37,118.25 L353.50,118.27 L353.63,118.29 L353.75,118.30 L353.88,118.30 L354.01,118.30 L354.13,118.29 L354.26,118.28 L354.39,118.27 L354.52,118.25 L354.64,118.22 L354.77,118.19 L354.90,118.16 L355.03,118.12 L355.15,118.07 L355.28,118.03 L355.41,117.98 L355.54,117.92 L355.66,117.86 L355.79,117.80 L355.92,117.74 L356.04,117.68 L356.17,117.61 L356.30,117.54 L356.43,117.47 L356.55,117.40 L356.68,117.33 L356.81,117.26 L356.94,117.18 L357.06,117.11 L357.19,117.04 L357.32,116.97 L357.45,116.90 L357.57,116.84 L357.70,116.77 L357.83,116.71 L357.95,116.65 L358.08,116.59 L358.21,116.54 L358.34,116.49 L358.46,116.44 L358.59,116.40 L358.72,116.36 L358.85,116.33 L358.97,116.30 L359.10,116.28 L359.23,116.26 L359.36,116.24 L359.48,116.23 L359.61,116.23 L359.74,116.23 L359.87,116.23 L359.99,116.24 L360.12,116.26 L360.25,116.28 L360.37,116.30 L360.50,116.33 L360.63,116.37 L360.76,116.40 L360.88,116.45 L361.01,116.49 L361.14,116.54 L361.27,116.60 L361.39,116.65 L361.52,116.71 L361.65,116.78 L361.78,116.84 L361.90,116.91 L362.03,116.98 L362.16,117.05 L362.28,117.12 L362.41,117.19 L362.54,117.26 L362.67,117.33 L362.79,117.40 L362.92,117.47 L363.05,117.55 L363.18,117.61 L363.30,117.68 L363.43,117.75 L363.56,117.81 L363.69,117.87 L363.81,117.93 L363.94,117.98 L364.07,118.03 L364.19,118.08 L364.32,118.12 L364.45,118.16 L364.58,118.19 L364.70,118.22 L364.83,118.25 L364.96,118.27 L365.09,118.28 L365.21,118.29 L365.34,118.30 L365.47,118.30 L365.60,118.30 L365.72,118.29 L365.85,118.27 L365.98,118.25 L366.11,118.23 L366.23,118.20 L366.36,118.17 L366.49,118.13 L366.61,118.09 L366.74,118.04 L366.87,117.99 L367.00,117.94 L367.12,117.88 L367.25,117.82 L367.38,117.76 L367.51,117.70 L367.63,117.63 L367.76,117.56 L367.89,117.49 L368.02,117.42 L368.14,117.35 L368.27,117.28 L368.40,117.20 L368.52,117.13 L368.65,117.06 L368.78,116.99 L368.91,116.92 L369.03,116.86 L369.16,116.79 L369.29,116.73 L369.42,116.67 L369.54,116.61 L369.67,116.55 L369.80,116.50 L369.93,116.46 L370.05,116.41 L370.18,116.37 L370.31,116.34 L370.44,116.31 L370.56,116.28 L370.69,116.26 L370.82,116.25 L370.94,116.23 L371.07,116.23 L371.20,116.23 L371.33,116.23 L371.45,116.24 L371.58,116.25 L371.71,116.27 L371.84,116.29 L371.96,116.32 L372.09,116.35 L372.22,116.39 L372.35,116.43 L372.47,116.48 L372.60,116.53 L372.73,116.58 L372.85,116.64 L372.98,116.69 L373.11,116.76 L373.24,116.82 L373.36,116.89 L373.49,116.95 L373.62,117.02 L373.75,117.09 L373.87,117.17 L374.00,117.24 L374.13,117.31 L374.26,117.38 L374.38,117.45 L374.51,117.52 L374.64,117.59 L374.76,117.66 L374.89,117.73 L375.02,117.79 L375.15,117.85 L375.27,117.91 L375.40,117.96 L375.53,118.01 L375.66,118.06 L375.78,118.11 L375.91,118.15 L376.04,118.18 L376.17,118.21 L376.29,118.24 L376.42,118.26 L376.55,118.28 L376.68,118.29 L376.80,118.30 L376.93,118.30 L377.06,118.30 L377.18,118.29 L377.31,118.28 L377.44,118.26 L377.57,118.24 L377.69,118.21 L377.82,118.18 L377.95,118.14 L378.08,118.10 L378.20,118.06 L378.33,118.01 L378.46,117.95 L378.59,117.90 L378.71,117.84 L378.84,117.78 L378.97,117.72 L379.09,117.65 L379.22,117.58 L379.35,117.51 L379.48,117.44 L379.60,117.37 L379.73,117.30 L379.86,117.23 L379.99,117.15 L380.11,117.08 L380.24,117.01 L380.37,116.94 L380.50,116.88 L380.62,116.81 L380.75,116.75 L380.88,116.68 L381.00,116.63 L381.13,116.57 L381.26,116.52 L381.39,116.47 L381.51,116.43 L381.64,116.39 L381.77,116.35 L381.90,116.32 L382.02,116.29 L382.15,116.27 L382.28,116.25 L382.41,116.24 L382.53,116.23 L382.66,116.23 L382.79,116.23 L382.92,116.24 L383.04,116.25 L383.17,116.26 L383.30,116.29 L383.42,116.31 L383.55,116.34 L383.68,116.38 L383.81,116.42 L383.93,116.46 L384.06,116.51 L384.19,116.56 L384.32,116.62 L384.44,116.68 L384.57,116.74 L384.70,116.80 L384.83,116.87 L384.95,116.93 L385.08,117.00 L385.21,117.07 L385.33,117.14 L385.46,117.22 L385.59,117.29 L385.72,117.36 L385.84,117.43 L385.97,117.50 L386.10,117.57 L386.23,117.64 L386.35,117.71 L386.48,117.77 L386.61,117.83 L386.74,117.89 L386.86,117.95 L386.99,118.00 L387.12,118.05 L387.25,118.09 L387.37,118.13 L387.50,118.17 L387.63,118.20 L387.75,118.23 L387.88,118.26 L388.01,118.27 L388.14,118.29 L388.26,118.30 L388.39,118.30 L388.52,118.30 L388.65,118.29 L388.77,118.28 L388.90,118.26 L389.03,118.24 L389.16,118.22 L389.28,118.19 L389.41,118.15 L389.54,118.11 L389.66,118.07 L389.79,118.02 L389.92,117.97 L390.05,117.92 L390.17,117.86 L390.30,117.80 L390.43,117.74 L390.56,117.67 L390.68,117.60 L390.81,117.53 L390.94,117.46 L391.07,117.39 L391.19,117.32 L391.32,117.25 L391.45,117.18 L391.57,117.10 L391.70,117.03 L391.83,116.96 L391.96,116.90 L392.08,116.83 L392.21,116.76 L392.34,116.70 L392.47,116.64 L392.59,116.59 L392.72,116.53 L392.85,116.48 L392.98,116.44 L393.10,116.40 L393.23,116.36 L393.36,116.33 L393.49,116.30 L393.61,116.27 L393.74,116.25 L393.87,116.24 L393.99,116.23 L394.12,116.23 L394.25,116.23 L394.38,116.23 L394.50,116.24 L394.63,116.26 L394.76,116.28 L394.89,116.30 L395.01,116.33 L395.14,116.37 L395.27,116.41 L395.40,116.45 L395.52,116.50 L395.65,116.55 L395.78,116.60 L395.90,116.66 L396.03,116.72 L396.16,116.78 L396.29,116.85 L396.41,116.91 L396.54,116.98 L396.67,117.05 L396.80,117.12 L396.92,117.19 L397.05,117.27 L397.18,117.34 L397.31,117.41 L397.43,117.48 L397.56,117.55 L397.69,117.62 L397.81,117.69 L397.94,117.75 L398.07,117.81 L398.20,117.87 L398.32,117.93 L398.45,117.98 L398.58,118.03 L398.71,118.08 L398.83,118.12 L398.96,118.16 L399.09,118.19 L399.22,118.22 L399.34,118.25 L399.47,118.27 L399.60,118.28 L399.73,118.29 L399.85,118.30 L399.98,118.30 L400.11,118.29 L400.23,118.28 L400.36,118.27 L400.49,118.25 L400.62,118.23 L400.74,118.20 L400.87,118.16 L401.00,118.12 L401.13,118.08 L401.25,118.04 L401.38,117.99 L401.51,117.93 L401.64,117.88 L401.76,117.82 L401.89,117.75 L402.02,117.69 L402.14,117.62 L402.27,117.56 L402.40,117.49 L402.53,117.41 L402.65,117.34 L402.78,117.27 L402.91,117.20 L403.04,117.13 L403.16,117.06 L403.29,116.99 L403.42,116.92 L403.55,116.85 L403.67,116.78 L403.80,116.72 L403.93,116.66 L404.06,116.60 L404.18,116.55 L404.31,116.50 L404.44,116.45 L404.56,116.41 L404.69,116.37 L404.82,116.34 L404.95,116.31 L405.07,116.28 L405.20,116.26 L405.33,116.24 L405.46,116.23 L405.58,116.23 L405.71,116.23 L405.84,116.23 L405.97,116.24 L406.09,116.25 L406.22,116.27 L406.35,116.30 L406.47,116.32 L406.60,116.36 L406.73,116.40 L406.86,116.44 L406.98,116.48 L407.11,116.53 L407.24,116.58 L407.37,116.64 L407.49,116.70 L407.62,116.76 L407.75,116.83 L407.88,116.89 L408.00,116.96 L408.13,117.03 L408.26,117.10 L408.38,117.17 L408.51,117.24 L408.64,117.32 L408.77,117.39 L408.89,117.46 L409.02,117.53 L409.15,117.60 L409.28,117.67 L409.40,117.73 L409.53,117.80 L409.66,117.86 L409.79,117.91 L409.91,117.97 L410.04,118.02 L410.17,118.07 L410.30,118.11 L410.42,118.15 L410.55,118.19 L410.68,118.22 L410.80,118.24 L410.93,118.26 L411.06,118.28 L411.19,118.29 L411.31,118.30 L411.44,118.30 L411.57,118.30 L411.70,118.29 L411.82,118.27 L411.95,118.26 L412.08,118.23 L412.21,118.21 L412.33,118.17 L412.46,118.14 L412.59,118.10 L412.71,118.05 L412.84,118.00 L412.97,117.95 L413.10,117.89 L413.22,117.84 L413.35,117.77 L413.48,117.71 L413.61,117.64 L413.73,117.58 L413.86,117.51 L413.99,117.44 L414.12,117.36 L414.24,117.29 L414.37,117.22 L414.50,117.15 L414.62,117.08 L414.75,117.01 L414.88,116.94 L415.01,116.87 L415.13,116.80 L415.26,116.74 L415.39,116.68 L415.52,116.62 L415.64,116.57 L415.77,116.51 L415.90,116.47 L416.03,116.42 L416.15,116.38 L416.28,116.35 L416.41,116.31 L416.54,116.29 L416.66,116.27 L416.79,116.25 L416.92,116.24 L417.04,116.23 L417.17,116.23 L417.30,116.23 L417.43,116.24 L417.55,116.25 L417.68,116.27 L417.81,116.29 L417.94,116.32 L418.06,116.35 L418.19,116.38 L418.32,116.42 L418.45,116.47 L418.57,116.52 L418.70,116.57 L418.83,116.62 L418.95,116.68 L419.08,116.74 L419.21,116.81 L419.34,116.87 L419.46,116.94 L419.59,117.01 L419.72,117.08 L419.85,117.15 L419.97,117.22 L420.10,117.29 L420.23,117.37 L420.36,117.44 L420.48,117.51 L420.61,117.58 L420.74,117.65 L420.87,117.71 L420.99,117.78 L421.12,117.84 L421.25,117.90 L421.37,117.95 L421.50,118.00 L421.63,118.05 L421.76,118.10 L421.88,118.14 L422.01,118.17 L422.14,118.21 L422.27,118.23 L422.39,118.26 L422.52,118.28 L422.65,118.29 L422.78,118.30 L422.90,118.30 L423.03,118.30 L423.16,118.29 L423.28,118.28 L423.41,118.26 L423.54,118.24 L423.67,118.21 L423.79,118.18 L423.92,118.15 L424.05,118.11 L424.18,118.07 L424.30,118.02 L424.43,117.97 L424.56,117.91 L424.69,117.85 L424.81,117.79 L424.94,117.73 L425.07,117.66 L425.19,117.60 L425.32,117.53 L425.45,117.46 L425.58,116.74 L425.70,116.74 L425.83,116.74 L425.96,116.74 L426.09,116.74 L426.21,116.74 L426.34,116.67 L426.47,116.47 L426.60,116.14 L426.72,115.70 L426.85,115.13 L426.98,114.44 L427.11,113.64 L427.23,112.73 L427.36,111.71 L427.49,110.58 L427.61,109.35 L427.74,108.03 L427.87,106.62 L428.00,105.12 L428.12,103.55 L428.25,101.90 L428.38,100.19 L428.51,98.42 L428.63,96.60 L428.76,94.74 L428.89,92.84 L429.02,90.91 L429.14,88.96 L429.27,87.00 L429.40,85.03 L429.52,83.07 L429.65,81.11 L429.78,79.18 L429.91,77.27 L430.03,75.40 L430.16,73.57 L430.29,71.78 L430.42,70.06 L430.54,68.40 L430.67,66.80 L430.80,65.29 L430.93,63.85 L431.05,62.51 L431.18,61.25 L431.31,60.10 L431.43,59.05 L431.56,58.11 L431.69,57.28 L431.82,56.56 L431.94,55.97 L432.07,55.49 L432.20,55.13 L432.33,54.90 L432.45,54.79 L432.58,54.81 L432.71,54.98 L432.84,55.30 L432.96,55.77 L433.09,56.38 L433.22,57.14 L433.35,58.03 L433.47,59.06 L433.60,60.21 L433.73,61.49 L433.85,62.89 L433.98,64.40 L434.11,66.01 L434.24,67.71 L434.36,69.51 L434.49,71.38 L434.62,73.32 L434.75,75.33 L434.87,77.38 L435.00,79.47 L435.13,81.60 L435.26,83.74 L435.38,85.90 L435.51,88.05 L435.64,90.19 L435.76,92.31 L435.89,94.40 L436.02,96.45 L436.15,98.45 L436.27,100.38 L436.40,102.24 L436.53,104.03 L436.66,105.72 L436.78,107.32 L436.91,108.82 L437.04,110.20 L437.17,111.46 L437.29,112.61 L437.42,113.62 L437.55,114.49 L437.68,115.23 L437.80,115.82 L437.93,116.27 L438.06,116.57 L438.18,116.72 L438.31,116.74 L438.44,116.68 L438.57,116.57 L438.69,116.41 L438.82,116.19 L438.95,115.91 L439.08,115.59 L439.20,115.21 L439.33,114.79 L439.46,114.32 L439.59,113.81 L439.71,113.25 L439.84,112.66 L439.97,112.03 L440.09,111.36 L440.22,110.67 L440.35,109.95 L440.48,109.21 L440.60,108.45 L440.73,107.67 L440.86,106.88 L440.99,106.08 L441.11,105.28 L441.24,104.48 L441.37,103.68 L441.50,102.89 L441.62,102.11 L441.75,101.34 L441.88,100.60 L442.00,99.87 L442.13,99.17 L442.26,98.51 L442.39,97.87 L442.51,97.27 L442.64,96.71 L442.77,96.18 L442.90,95.71 L443.02,95.27 L443.15,94.89 L443.28,94.56 L443.41,94.27 L443.53,94.04 L443.66,93.87 L443.79,93.75 L443.92,93.68 L444.04,93.67 L444.17,93.72 L444.30,93.82 L444.42,93.98 L444.55,94.19 L444.68,94.46 L444.81,94.77 L444.93,95.14 L445.06,95.56 L445.19,96.02 L445.32,96.53 L445.44,97.08 L445.57,97.66 L445.70,98.29 L445.83,98.95 L445.95,99.64 L446.08,100.35 L446.21,101.09 L446.33,101.85 L446.46,102.63 L446.59,103.42 L446.72,104.21 L446.84,105.01 L446.97,105.82 L447.10,106.62 L447.23,107.41 L447.35,108.19 L447.48,108.96 L447.61,109.71 L447.74,110.43 L447.86,111.14 L447.99,111.81 L448.12,112.45 L448.24,113.06 L448.37,113.63 L448.50,114.16 L448.63,114.64 L448.75,115.08 L448.88,115.47 L449.01,115.81 L449.14,116.10 L449.26,116.34 L449.39,116.52 L449.52,116.65 L449.65,116.73 L449.77,116.74 L449.90,116.68 L450.03,116.54 L450.16,116.30 L450.28,115.98 L450.41,115.58 L450.54,115.09 L450.66,114.53 L450.79,113.88 L450.92,113.17 L451.05,112.38 L451.17,111.52 L451.30,110.61 L451.43,109.63 L451.56,108.60 L451.68,107.53 L451.81,106.41 L451.94,105.25 L452.07,104.06 L452.19,102.84 L452.32,101.61 L452.45,100.35 L452.57,99.09 L452.70,97.83 L452.83,96.57 L452.96,95.32 L453.08,94.09 L453.21,92.88 L453.34,91.70 L453.47,90.55 L453.59,89.44 L453.72,88.37 L453.85,87.35 L453.98,86.39 L454.10,85.48 L454.23,84.64 L454.36,83.87 L454.49,83.17 L454.61,82.54 L454.74,81.99 L454.87,81.52 L454.99,81.14 L455.12,80.84 L455.25,80.62 L455.38,80.49 L455.50,80.45 L455.63,80.50 L455.76,80.63 L455.89,80.85 L456.01,81.16 L456.14,81.55 L456.27,82.02 L456.40,82.58 L456.52,83.21 L456.65,83.92 L456.78,84.69 L456.90,85.54 L457.03,86.44 L457.16,87.41 L457.29,88.43 L457.41,89.50 L457.54,90.61 L457.67,91.77 L457.80,92.95 L457.92,94.17 L458.05,95.40 L458.18,96.65 L458.31,97.91 L458.43,99.17 L458.56,100.43 L458.69,101.68 L458.81,102.92 L458.94,104.13 L459.07,105.32 L459.20,106.48 L459.32,107.59 L459.45,108.67 L459.58,109.69 L459.71,110.66 L459.83,111.58 L459.96,112.43 L460.09,113.21 L460.22,113.92 L460.34,114.56 L460.47,115.12 L460.60,115.60 L460.73,116.00 L460.85,116.32 L460.98,116.55 L461.11,116.69 L461.23,116.74 L461.36,116.72 L461.49,116.62 L461.62,116.44 L461.74,116.20 L461.87,115.88 L462.00,115.49 L462.13,115.04 L462.25,114.52 L462.38,113.94 L462.51,113.30 L462.64,112.60 L462.76,111.85 L462.89,111.05 L463.02,110.21 L463.14,109.32 L463.27,108.39 L463.40,107.43 L463.53,106.45 L463.65,105.44 L463.78,104.41 L463.91,103.37 L464.04,102.31 L464.16,101.26 L464.29,100.21 L464.42,99.16 L464.55,98.12 L464.67,97.11 L464.80,96.11 L464.93,95.14 L465.05,94.20 L465.18,93.30 L465.31,92.43 L465.44,91.61 L465.56,90.84 L465.69,90.12 L465.82,89.46 L465.95,88.86 L466.07,88.31 L466.20,87.83 L466.33,87.42 L466.46,87.08 L466.58,86.80 L466.71,86.60 L466.84,86.47 L466.97,86.41 L467.09,86.43 L467.22,86.52 L467.35,86.68 L467.47,86.92 L467.60,87.23 L467.73,87.60 L467.86,88.04 L467.98,88.55 L468.11,89.12 L468.24,89.75 L468.37,90.44 L468.49,91.19 L468.62,91.98 L468.75,92.82 L468.88,93.70 L469.00,94.62 L469.13,95.58 L469.26,96.56 L469.38,97.57 L469.51,98.59 L469.64,99.63 L469.77,100.68 L469.89,101.74 L470.02,102.79 L470.15,103.84 L470.28,104.88 L470.40,105.90 L470.53,106.90 L470.66,107.87 L470.79,108.82 L470.91,109.73 L471.04,110.60 L471.17,111.42 L471.30,112.20 L471.42,112.93 L471.55,113.60 L471.68,114.21 L471.80,114.77 L471.93,115.25 L472.06,115.68 L472.19,116.03 L472.31,116.32 L472.44,116.53 L472.57,116.67 L472.70,116.74 L472.82,116.73 L472.95,116.65 L473.08,116.48 L473.21,116.24 L473.33,115.92 L473.46,115.52 L473.59,115.06 L473.71,114.52 L473.84,113.91 L473.97,113.23 L474.10,112.50 L474.22,111.70 L474.35,110.85 L474.48,109.95 L474.61,109.00 L474.73,108.01 L474.86,106.98 L474.99,105.92 L475.12,104.83 L475.24,103.73 L475.37,102.60 L475.50,101.46 L475.62,100.32 L475.75,99.18 L475.88,98.04 L476.01,96.92 L476.13,95.81 L476.26,94.72 L476.39,93.66 L476.52,92.64 L476.64,91.64 L476.77,90.70 L476.90,89.79 L477.03,88.94 L477.15,88.15 L477.28,87.41 L477.41,86.74 L477.54,86.13 L477.66,85.59 L477.79,85.12 L477.92,84.72 L478.04,84.40 L478.17,84.16 L478.30,84.00 L478.43,83.91 L478.55,83.90 L478.68,83.98 L478.81,84.13 L478.94,84.36 L479.06,84.67 L479.19,85.05 L479.32,85.51 L479.45,86.04 L479.57,86.64 L479.70,87.30 L479.83,88.03 L479.95,88.82 L480.08,89.66 L480.21,90.55 L480.34,91.50 L480.46,92.48 L480.59,93.50 L480.72,94.56 L480.85,95.64 L480.97,96.75 L481.10,97.87 L481.23,99.01 L481.36,100.15 L481.48,101.29 L481.61,102.43 L481.74,103.55 L481.86,104.67 L481.99,105.76 L482.12,106.82 L482.25,107.85 L482.37,108.85 L482.50,109.80 L482.63,110.71 L482.76,111.57 L482.88,112.38 L483.01,113.12 L483.14,113.81 L483.27,114.43 L483.39,114.98 L483.52,115.46 L483.65,115.86 L483.78,116.19 L483.90,116.45 L484.03,116.63 L484.16,116.72 L484.28,116.74 L484.41,116.68 L484.54,116.55 L484.67,116.34 L484.79,116.05 L484.92,115.70 L485.05,115.27 L485.18,114.77 L485.30,114.21 L485.43,113.58 L485.56,112.89 L485.69,112.14 L485.81,111.34 L485.94,110.49 L486.07,109.60 L486.19,108.66 L486.32,107.68 L486.45,106.68 L486.58,105.64 L486.70,104.58 L486.83,103.51 L486.96,102.42 L487.09,101.33 L487.21,100.23 L487.34,99.14 L487.47,98.06 L487.60,96.99 L487.72,95.94 L487.85,94.92 L487.98,93.92 L488.11,92.96 L488.23,92.04 L488.36,91.16 L488.49,90.33 L488.61,89.55 L488.74,88.82 L488.87,88.16 L489.00,87.55 L489.12,87.02 L489.25,86.55 L489.38,86.14 L489.51,85.82 L489.63,85.56 L489.76,85.38 L489.89,85.28 L490.02,85.25 L490.14,85.29 L490.27,85.42 L490.40,85.62 L490.52,85.89 L490.65,86.23 L490.78,86.65 L490.91,87.14 L491.03,87.69 L491.16,88.31 L491.29,88.99 L491.42,89.73 L491.54,90.52 L491.67,91.36 L491.80,92.25 L491.93,93.19 L492.05,94.16 L492.18,95.16 L492.31,96.19 L492.43,97.24 L492.56,98.32 L492.69,99.40 L492.82,100.50 L492.94,101.59 L493.07,102.68 L493.20,103.77 L493.33,104.84 L493.45,105.89 L493.58,106.92 L493.71,107.92 L493.84,108.89 L493.96,109.82 L494.09,110.70 L494.22,111.54 L494.35,112.33 L494.47,113.06 L494.60,113.74 L494.73,114.35 L494.85,114.90 L494.98,115.38 L495.11,115.79 L495.24,116.13 L495.36,116.40 L495.49,116.59 L495.62,116.70 L495.75,116.74 L495.87,116.71 L496.00,116.59 L496.13,116.40 L496.26,116.14 L496.38,115.79 L496.51,115.38 L496.64,114.89 L496.76,114.34 L496.89,113.72 L497.02,113.03 L497.15,112.29 L497.27,111.49 L497.40,110.63 L497.53,109.73 L497.66,108.79 L497.78,107.80 L497.91,106.78 L498.04,105.74 L498.17,104.66 L498.29,103.57 L498.42,102.47 L498.55,101.35 L498.67,100.23 L498.80,99.12 L498.93,98.01 L499.06,96.91 L499.18,95.83 L499.31,94.78 L499.44,93.76 L499.57,92.76 L499.69,91.81 L499.82,90.90 L499.95,90.04 L500.08,89.22 L500.20,88.47 L500.33,87.77 L500.46,87.13 L500.59,86.56 L500.71,86.06 L500.84,85.63 L500.97,85.27 L501.09,84.99 L501.22,84.78 L501.35,84.65 L501.48,84.60 L501.60,84.62 L501.73,84.73 L501.86,84.91 L501.99,85.16 L502.11,85.49 L502.24,85.90 L502.37,86.37 L502.50,86.92 L502.62,87.53 L502.75,88.20 L502.88,88.94 L503.00,89.73 L503.13,90.58 L503.26,91.47 L503.39,92.41 L503.51,93.39 L503.64,94.40 L503.77,95.45 L503.90,96.51 L504.02,97.60 L504.15,98.71 L504.28,99.82 L504.41,100.94 L504.53,102.06 L504.66,103.17 L504.79,104.26 L504.92,105.35 L505.04,106.40 L505.17,107.43 L505.30,108.43 L505.42,109.39 L505.55,110.31 L505.68,111.18 L505.81,112.00 L505.93,112.76 L506.06,113.47 L506.19,114.12 L506.32,114.70 L506.44,115.21 L506.57,115.65 L506.70,116.02 L506.83,116.31 L506.95,116.53 L507.08,116.68 L507.21,116.74 L507.33,116.73 L507.46,116.64 L507.59,116.47 L507.72,116.23 L507.84,115.91 L507.97,115.53 L508.10,115.07 L508.23,114.54 L508.35,113.94 L508.48,113.28 L508.61,112.57 L508.74,111.79 L508.86,110.96 L508.99,110.09 L509.12,109.16 L509.24,108.20 L509.37,107.21 L509.50,106.18 L509.63,105.12 L509.75,104.05 L509.88,102.96 L510.01,101.86 L510.14,100.75 L510.26,99.65 L510.39,98.55 L510.52,97.46 L510.65,96.39 L510.77,95.34 L510.90,94.32 L511.03,93.33 L511.16,92.37 L511.28,91.46 L511.41,90.59 L511.54,89.77 L511.66,89.01 L511.79,88.30 L511.92,87.65 L512.05,87.07 L512.17,86.55 L512.30,86.10 L512.43,85.73 L512.56,85.43 L512.68,85.20 L512.81,85.05 L512.94,84.97 L513.07,84.97 L513.19,85.05 L513.32,85.20 L513.45,85.43 L513.57,85.74 L513.70,86.12 L513.83,86.56 L513.96,87.08 L514.08,87.67 L514.21,88.32 L514.34,89.03 L514.47,89.79 L514.59,90.61 L514.72,91.48 L514.85,92.40 L514.98,93.35 L515.10,94.35 L515.23,95.37 L515.36,96.42 L515.48,97.49 L515.61,98.58 L515.74,99.68 L515.87,100.78 L515.99,101.89 L516.12,102.99 L516.25,104.08 L516.38,105.15 L516.50,106.21 L516.63,107.23 L516.76,108.23 L516.89,109.19 L517.01,110.11 L517.14,110.99 L517.27,111.81 L517.40,112.59 L517.52,113.30 L517.65,113.96 L517.78,114.55 L517.90,115.08 L518.03,115.54 L518.16,115.92 L518.29,116.24 L518.41,116.48 L518.54,116.64 L518.67,116.73 L518.80,116.74 L518.92,116.67 L519.05,116.53 L519.18,116.31 L519.31,116.02 L519.43,115.65 L519.56,115.21 L519.69,114.70 L519.81,114.12 L519.94,113.48 L520.07,112.78 L520.20,112.02 L520.32,111.20 L520.45,110.34 L520.58,109.43 L520.71,108.47 L520.83,107.48 L520.96,106.46 L521.09,105.41 L521.22,104.34 L521.34,103.25 L521.47,102.15 L521.60,101.04 L521.73,99.93 L521.85,98.82 L521.98,97.73 L522.11,96.65 L522.23,95.59 L522.36,94.55 L522.49,93.55 L522.62,92.58 L522.74,91.65 L522.87,90.76 L523.00,89.93 L523.13,89.14 L523.25,88.41 L523.38,87.75 L523.51,87.14 L523.64,86.60 L523.76,86.13 L523.89,85.73 L524.02,85.41 L524.14,85.16 L524.27,84.98 L524.40,84.88 L524.53,84.86 L524.65,84.91 L524.78,85.04 L524.91,85.25 L525.04,85.54 L525.16,85.89 L525.29,86.32 L525.42,86.82 L525.55,87.39 L525.67,88.02 L525.80,88.71 L525.93,89.47 L526.05,90.27 L526.18,91.13 L526.31,92.04 L526.44,92.98 L526.56,93.97 L526.69,94.99 L526.82,96.03 L526.95,97.10 L527.07,98.19 L527.20,99.29 L527.33,100.39 L527.46,101.50 L527.58,102.61 L527.71,103.71 L527.84,104.79 L527.97,105.85 L528.09,106.89 L528.22,107.90 L528.35,108.88 L528.47,109.81 L528.60,110.71 L528.73,111.55 L528.86,112.34 L528.98,113.08 L529.11,113.76 L529.24,114.37 L529.37,114.92 L529.49,115.40 L529.62,115.81 L529.75,116.15 L529.88,116.41 L530.00,116.60 L530.13,116.71 L530.26,116.74 L530.38,116.70 L530.51,116.58 L530.64,116.38 L530.77,116.11 L530.89,115.77 L531.02,115.35 L531.15,114.86 L531.28,114.30 L531.40,113.68 L531.53,113.00 L531.66,112.25 L531.79,111.45 L531.91,110.60 L532.04,109.71 L532.17,108.77 L532.29,107.79 L532.42,106.77 L532.55,105.73 L532.68,104.66 L532.80,103.58 L532.93,102.48 L533.06,101.37 L533.19,100.27 L533.31,99.16 L533.44,98.06 L533.57,96.98 L533.70,95.91 L533.82,94.87 L533.95,93.85 L534.08,92.87 L534.21,91.93 L534.33,91.03 L534.46,90.18 L534.59,89.38 L534.71,88.64 L534.84,87.96 L534.97,87.36 L535.10,86.85 L535.22,86.45 L535.35,86.21 L535.48,86.19 L535.61,86.46 L535.73,87.14 L535.86,88.33 L535.99,90.12 L536.12,92.60 L536.24,95.61 L536.37,99.03 L536.50,102.59 L536.62,105.94 L536.75,108.70 L536.88,110.49 L537.01,111.08 L537.13,110.39 L537.26,108.54 L537.39,105.79 L537.52,102.53 L537.64,99.13 L537.77,95.94 L537.90,93.19 L538.03,90.99 L538.15,89.36 L538.28,88.24 L538.41,87.52 L538.54,87.10 L538.66,86.88 L538.79,86.80 L538.92,86.80 L539.04,86.83 L539.17,86.90 L539.30,86.97 L539.43,87.04 L539.55,87.12 L539.68,87.20 L539.81,87.29 L539.94,87.37 L540.06,87.45 L540.19,87.53 L540.32,87.61 L540.45,87.69 L540.57,87.77 L540.70,87.85" fill="none" stroke="#0000ff" stroke-width="1.35" stroke-linejoin="round"/>
<path d="M311.60,116.68 L311.73,116.74 L311.85,116.80 L311.98,116.87 L312.11,116.93 L312.24,117.00 L312.36,117.07 L312.49,117.14 L312.62,117.22 L312.75,117.29 L312.87,117.36 L313.00,117.43 L313.13,117.50 L313.26,117.57 L313.38,117.64 L313.51,117.71 L313.64,117.77 L313.76,117.83 L313.89,117.89 L314.02,117.95 L314.15,118.00 L314.27,118.05 L314.40,118.09 L314.53,118.13 L314.66,118.17 L314.78,118.20 L314.91,118.23 L315.04,118.26 L315.17,118.27 L315.29,118.29 L315.42,118.30 L315.55,118.30 L315.68,118.30 L315.80,118.29 L315.93,118.28 L316.06,118.26 L316.18,118.24 L316.31,118.22 L316.44,118.19 L316.57,118.15 L316.69,118.11 L316.82,118.07 L316.95,118.02 L317.08,117.97 L317.20,117.92 L317.33,117.86 L317.46,117.80 L317.59,117.74 L317.71,117.67 L317.84,117.60 L317.97,117.53 L318.09,117.46 L318.22,117.39 L318.35,117.32 L318.48,117.25 L318.60,117.18 L318.73,117.10 L318.86,117.03 L318.99,116.96 L319.11,116.90 L319.24,116.83 L319.37,116.76 L319.50,116.70 L319.62,116.64 L319.75,116.59 L319.88,116.53 L320.01,116.48 L320.13,116.44 L320.26,116.40 L320.39,116.36 L320.51,116.33 L320.64,116.30 L320.77,116.27 L320.90,116.25 L321.02,116.24 L321.15,116.23 L321.28,116.23 L321.41,116.23 L321.53,116.23 L321.66,116.24 L321.79,116.26 L321.92,116.28 L322.04,116.30 L322.17,116.33 L322.30,116.37 L322.42,116.41 L322.55,116.45 L322.68,116.50 L322.81,116.55 L322.93,116.60 L323.06,116.66 L323.19,116.72 L323.32,116.78 L323.44,116.85 L323.57,116.91 L323.70,116.98 L323.83,117.05 L323.95,117.12 L324.08,117.19 L324.21,117.27 L324.33,117.34 L324.46,117.41 L324.59,117.48 L324.72,117.55 L324.84,117.62 L324.97,117.69 L325.10,117.75 L325.23,117.81 L325.35,117.87 L325.48,117.93 L325.61,117.98 L325.74,118.03 L325.86,118.08 L325.99,118.12 L326.12,118.16 L326.25,118.19 L326.37,118.22 L326.50,118.25 L326.63,118.27 L326.75,118.28 L326.88,118.29 L327.01,118.30 L327.14,118.30 L327.26,118.29 L327.39,118.28 L327.52,118.27 L327.65,118.25 L327.77,118.23 L327.90,118.20 L328.03,118.16 L328.16,118.12 L328.28,118.08 L328.41,118.04 L328.54,117.99 L328.66,117.93 L328.79,117.88 L328.92,117.82 L329.05,117.75 L329.17,117.69 L329.30,117.62 L329.43,117.55 L329.56,117.49 L329.68,117.41 L329.81,117.34 L329.94,117.27 L330.07,117.20 L330.19,117.13 L330.32,117.06 L330.45,116.99 L330.57,116.92 L330.70,116.85 L330.83,116.78 L330.96,116.72 L331.08,116.66 L331.21,116.60 L331.34,116.55 L331.47,116.50 L331.59,116.45 L331.72,116.41 L331.85,116.37 L331.98,116.34 L332.10,116.31 L332.23,116.28 L332.36,116.26 L332.49,116.24 L332.61,116.23 L332.74,116.23 L332.87,116.23 L332.99,116.23 L333.12,116.24 L333.25,116.25 L333.38,116.27 L333.50,116.30 L333.63,116.32 L333.76,116.36 L333.89,116.40 L334.01,116.44 L334.14,116.48 L334.27,116.53 L334.40,116.58 L334.52,116.64 L334.65,116.70 L334.78,116.76 L334.90,116.83 L335.03,116.89 L335.16,116.96 L335.29,117.03 L335.41,117.10 L335.54,117.17 L335.67,117.24 L335.80,117.32 L335.92,117.39 L336.05,117.46 L336.18,117.53 L336.31,117.60 L336.43,117.67 L336.56,117.73 L336.69,117.80 L336.82,117.86 L336.94,117.91 L337.07,117.97 L337.20,118.02 L337.32,118.07 L337.45,118.11 L337.58,118.15 L337.71,118.19 L337.83,118.22 L337.96,118.24 L338.09,118.26 L338.22,118.28 L338.34,118.29 L338.47,118.30 L338.60,118.30 L338.73,118.30 L338.85,118.29 L338.98,118.27 L339.11,118.26 L339.23,118.23 L339.36,118.21 L339.49,118.17 L339.62,118.14 L339.74,118.10 L339.87,118.05 L340.00,118.00 L340.13,117.95 L340.25,117.89 L340.38,117.84 L340.51,117.77 L340.64,117.71 L340.76,117.64 L340.89,117.58 L341.02,117.51 L341.14,117.44 L341.27,117.36 L341.40,117.29 L341.53,117.22 L341.65,117.15 L341.78,117.08 L341.91,117.01 L342.04,116.94 L342.16,116.87 L342.29,116.80 L342.42,116.74 L342.55,116.68 L342.67,116.62 L342.80,116.57 L342.93,116.51 L343.06,116.47 L343.18,116.42 L343.31,116.38 L343.44,116.35 L343.56,116.31 L343.69,116.29 L343.82,116.27 L343.95,116.25 L344.07,116.24 L344.20,116.23 L344.33,116.23 L344.46,116.23 L344.58,116.24 L344.71,116.25 L344.84,116.27 L344.97,116.29 L345.09,116.32 L345.22,116.35 L345.35,116.38 L345.47,116.42 L345.60,116.47 L345.73,116.52 L345.86,116.57 L345.98,116.62 L346.11,116.68 L346.24,116.74 L346.37,116.81 L346.49,116.87 L346.62,116.94 L346.75,117.01 L346.88,117.08 L347.00,117.15 L347.13,117.22 L347.26,117.30 L347.38,117.37 L347.51,117.44 L347.64,117.51 L347.77,117.58 L347.89,117.65 L348.02,117.71 L348.15,117.78 L348.28,117.84 L348.40,117.90 L348.53,117.95 L348.66,118.00 L348.79,118.05 L348.91,118.10 L349.04,118.14 L349.17,118.17 L349.30,118.21 L349.42,118.23 L349.55,118.26 L349.68,118.28 L349.80,118.29 L349.93,118.30 L350.06,118.30 L350.19,118.30 L350.31,118.29 L350.44,118.28 L350.57,118.26 L350.70,118.24 L350.82,118.21 L350.95,118.18 L351.08,118.15 L351.21,118.11 L351.33,118.07 L351.46,118.02 L351.59,117.97 L351.71,117.91 L351.84,117.85 L351.97,117.79 L352.10,117.73 L352.22,117.66 L352.35,117.60 L352.48,117.53 L352.61,117.46 L352.73,117.39 L352.86,117.31 L352.99,117.24 L353.12,117.17 L353.24,117.10 L353.37,117.03 L353.50,116.96 L353.63,116.89 L353.75,116.82 L353.88,116.76 L354.01,116.70 L354.13,116.64 L354.26,116.58 L354.39,116.53 L354.52,116.48 L354.64,116.43 L354.77,116.39 L354.90,116.36 L355.03,116.32 L355.15,116.30 L355.28,116.27 L355.41,116.25 L355.54,116.24 L355.66,116.23 L355.79,116.23 L355.92,116.23 L356.04,116.23 L356.17,116.24 L356.30,116.26 L356.43,116.28 L356.55,116.31 L356.68,116.34 L356.81,116.37 L356.94,116.41 L357.06,116.45 L357.19,116.50 L357.32,116.55 L357.45,116.61 L357.57,116.66 L357.70,116.72 L357.83,116.79 L357.95,116.85 L358.08,116.92 L358.21,116.99 L358.34,117.06 L358.46,117.13 L358.59,117.20 L358.72,117.27 L358.85,117.35 L358.97,117.42 L359.10,117.49 L359.23,117.56 L359.36,117.63 L359.48,117.69 L359.61,117.76 L359.74,117.82 L359.87,117.88 L359.99,117.94 L360.12,117.99 L360.25,118.04 L360.37,118.08 L360.50,118.13 L360.63,118.16 L360.76,118.20 L360.88,118.23 L361.01,118.25 L361.14,118.27 L361.27,118.29 L361.39,118.29 L361.52,118.30 L361.65,118.30 L361.78,118.29 L361.90,118.28 L362.03,118.27 L362.16,118.25 L362.28,118.22 L362.41,118.19 L362.54,118.16 L362.67,118.12 L362.79,118.08 L362.92,118.03 L363.05,117.98 L363.18,117.93 L363.30,117.87 L363.43,117.81 L363.56,117.75 L363.69,117.68 L363.81,117.62 L363.94,117.55 L364.07,117.48 L364.19,117.41 L364.32,117.34 L364.45,117.26 L364.58,117.19 L364.70,117.12 L364.83,117.05 L364.96,116.98 L365.09,116.91 L365.21,116.84 L365.34,116.78 L365.47,116.72 L365.60,116.66 L365.72,116.60 L365.85,116.55 L365.98,116.49 L366.11,116.45 L366.23,116.41 L366.36,116.37 L366.49,116.33 L366.61,116.30 L366.74,116.28 L366.87,116.26 L367.00,116.24 L367.12,116.23 L367.25,116.23 L367.38,116.23 L367.51,116.23 L367.63,116.24 L367.76,116.26 L367.89,116.27 L368.02,116.30 L368.14,116.33 L368.27,116.36 L368.40,116.40 L368.52,116.44 L368.65,116.49 L368.78,116.54 L368.91,116.59 L369.03,116.65 L369.16,116.71 L369.29,116.77 L369.42,116.83 L369.54,116.90 L369.67,116.97 L369.80,117.04 L369.93,117.11 L370.05,117.18 L370.18,117.25 L370.31,117.32 L370.44,117.40 L370.56,117.47 L370.69,117.54 L370.82,117.61 L370.94,117.67 L371.07,117.74 L371.20,117.80 L371.33,117.86 L371.45,117.92 L371.58,117.97 L371.71,118.02 L371.84,118.07 L371.96,118.11 L372.09,118.15 L372.22,118.19 L372.35,118.22 L372.47,118.24 L372.60,118.27 L372.73,118.28 L372.85,118.29 L372.98,118.30 L373.11,118.30 L373.24,118.30 L373.36,118.29 L373.49,118.27 L373.62,118.25 L373.75,118.23 L373.87,118.20 L374.00,118.17 L374.13,118.13 L374.26,118.09 L374.38,118.05 L374.51,118.00 L374.64,117.94 L374.76,117.89 L374.89,117.83 L375.02,117.77 L375.15,117.70 L375.27,117.64 L375.40,117.57 L375.53,117.50 L375.66,117.43 L375.78,117.36 L375.91,117.29 L376.04,117.21 L376.17,117.14 L376.29,117.07 L376.42,117.00 L376.55,116.93 L376.68,116.86 L376.80,116.80 L376.93,116.73 L377.06,116.67 L377.18,116.62 L377.31,116.56 L377.44,116.51 L377.57,116.46 L377.69,116.42 L377.82,116.38 L377.95,116.34 L378.08,116.31 L378.20,116.29 L378.33,116.26 L378.46,116.25 L378.59,116.23 L378.71,116.23 L378.84,116.23 L378.97,116.23 L379.09,116.24 L379.22,116.25 L379.35,116.27 L379.48,116.29 L379.60,116.32 L379.73,116.35 L379.86,116.39 L379.99,116.43 L380.11,116.47 L380.24,116.52 L380.37,116.57 L380.50,116.63 L380.62,116.69 L380.75,116.75 L380.88,116.81 L381.00,116.88 L381.13,116.95 L381.26,117.02 L381.39,117.09 L381.51,117.16 L381.64,117.23 L381.77,117.30 L381.90,117.37 L382.02,117.44 L382.15,117.52 L382.28,117.58 L382.41,117.65 L382.53,117.72 L382.66,117.78 L382.79,117.84 L382.92,117.90 L383.04,117.96 L383.17,118.01 L383.30,118.06 L383.42,118.10 L383.55,118.14 L383.68,118.18 L383.81,118.21 L383.93,118.24 L384.06,118.26 L384.19,118.28 L384.32,118.29 L384.44,118.30 L384.57,118.30 L384.70,118.30 L384.83,118.29 L384.95,118.28 L385.08,118.26 L385.21,118.24 L385.33,118.21 L385.46,118.18 L385.59,118.15 L385.72,118.11 L385.84,118.06 L385.97,118.01 L386.10,117.96 L386.23,117.91 L386.35,117.85 L386.48,117.79 L386.61,117.72 L386.74,117.66 L386.86,117.59 L386.99,117.52 L387.12,117.45 L387.25,117.38 L387.37,117.31 L387.50,117.24 L387.63,117.16 L387.75,117.09 L387.88,117.02 L388.01,116.95 L388.14,116.88 L388.26,116.82 L388.39,116.75 L388.52,116.69 L388.65,116.63 L388.77,116.58 L388.90,116.52 L389.03,116.48 L389.16,116.43 L389.28,116.39 L389.41,116.35 L389.54,116.32 L389.66,116.29 L389.79,116.27 L389.92,116.25 L390.05,116.24 L390.17,116.23 L390.30,116.23 L390.43,116.23 L390.56,116.23 L390.68,116.25 L390.81,116.26 L390.94,116.28 L391.07,116.31 L391.19,116.34 L391.32,116.38 L391.45,116.41 L391.57,116.46 L391.70,116.51 L391.83,116.56 L391.96,116.61 L392.08,116.67 L392.21,116.73 L392.34,116.79 L392.47,116.86 L392.59,116.93 L392.72,116.99 L392.85,117.06 L392.98,117.14 L393.10,117.21 L393.23,117.28 L393.36,117.35 L393.49,117.42 L393.61,117.49 L393.74,117.56 L393.87,117.63 L393.99,117.70 L394.12,117.76 L394.25,117.82 L394.38,117.88 L394.50,117.94 L394.63,117.99 L394.76,118.04 L394.89,118.09 L395.01,118.13 L395.14,118.17 L395.27,118.20 L395.40,118.23 L395.52,118.25 L395.65,118.27 L395.78,118.29 L395.90,118.30 L396.03,118.30 L396.16,118.30 L396.29,118.29 L396.41,118.28 L396.54,118.27 L396.67,118.25 L396.80,118.22 L396.92,118.19 L397.05,118.16 L397.18,118.12 L397.31,118.07 L397.43,118.03 L397.56,117.98 L397.69,117.92 L397.81,117.87 L397.94,117.81 L398.07,117.74 L398.20,117.68 L398.32,117.61 L398.45,117.54 L398.58,117.47 L398.71,117.40 L398.83,117.33 L398.96,117.26 L399.09,117.19 L399.22,117.11 L399.34,117.04 L399.47,116.97 L399.60,116.90 L399.73,116.84 L399.85,116.77 L399.98,116.71 L400.11,116.65 L400.23,116.59 L400.36,116.54 L400.49,116.49 L400.62,116.44 L400.74,116.40 L400.87,116.36 L401.00,116.33 L401.13,116.30 L401.25,116.28 L401.38,116.26 L401.51,116.24 L401.64,116.23 L401.76,116.23 L401.89,116.23 L402.02,116.23 L402.14,116.24 L402.27,116.26 L402.40,116.28 L402.53,116.30 L402.65,116.33 L402.78,116.36 L402.91,116.40 L403.04,116.44 L403.16,116.49 L403.29,116.54 L403.42,116.59 L403.55,116.65 L403.67,116.71 L403.80,116.77 L403.93,116.84 L404.06,116.90 L404.18,116.97 L404.31,117.04 L404.44,117.11 L404.56,117.19 L404.69,117.26 L404.82,117.33 L404.95,117.40 L405.07,117.47 L405.20,117.54 L405.33,117.61 L405.46,117.68 L405.58,117.74 L405.71,117.81 L405.84,117.87 L405.97,117.92 L406.09,117.98 L406.22,118.03 L406.35,118.07 L406.47,118.12 L406.60,118.16 L406.73,118.19 L406.86,118.22 L406.98,118.25 L407.11,118.27 L407.24,118.28 L407.37,118.29 L407.49,118.30 L407.62,118.30 L407.75,118.30 L407.88,118.29 L408.00,118.27 L408.13,118.25 L408.26,118.23 L408.38,118.20 L408.51,118.17 L408.64,118.13 L408.77,118.09 L408.89,118.04 L409.02,117.99 L409.15,117.94 L409.28,117.88 L409.40,117.82 L409.53,117.76 L409.66,117.70 L409.79,117.63 L409.91,117.56 L410.04,117.49 L410.17,117.42 L410.30,117.35 L410.42,117.28 L410.55,117.21 L410.68,117.14 L410.80,117.06 L410.93,116.99 L411.06,116.92 L411.19,116.86 L411.31,116.79 L411.44,116.73 L411.57,116.67 L411.70,116.61 L411.82,116.56 L411.95,116.51 L412.08,116.46 L412.21,116.41 L412.33,116.38 L412.46,116.34 L412.59,116.31 L412.71,116.28 L412.84,116.26 L412.97,116.25 L413.10,116.23 L413.22,116.23 L413.35,116.23 L413.48,116.23 L413.61,116.24 L413.73,116.25 L413.86,116.27 L413.99,116.29 L414.12,116.32 L414.24,116.35 L414.37,116.39 L414.50,116.43 L414.62,116.48 L414.75,116.53 L414.88,116.58 L415.01,116.63 L415.13,116.69 L415.26,116.75 L415.39,116.82 L415.52,116.88 L415.64,116.95 L415.77,117.02 L415.90,117.09 L416.03,117.16 L416.15,117.24 L416.28,117.31 L416.41,117.38 L416.54,117.45 L416.66,117.52 L416.79,117.59 L416.92,117.66 L417.04,117.72 L417.17,117.79 L417.30,117.85 L417.43,117.91 L417.55,117.96 L417.68,118.01 L417.81,118.06 L417.94,118.11 L418.06,118.15 L418.19,118.18 L418.32,118.21 L418.45,118.24 L418.57,118.26 L418.70,118.28 L418.83,118.29 L418.95,118.30 L419.08,118.30 L419.21,118.30 L419.34,118.29 L419.46,118.28 L419.59,118.26 L419.72,118.24 L419.85,118.21 L419.97,118.18 L420.10,118.14 L420.23,118.10 L420.36,118.06 L420.48,118.01 L420.61,117.96 L420.74,117.90 L420.87,117.84 L420.99,117.78 L421.12,117.72 L421.25,117.65 L421.37,117.58 L421.50,117.52 L421.63,117.44 L421.76,117.37 L421.88,117.30 L422.01,117.23 L422.14,117.16 L422.27,117.09 L422.39,117.01 L422.52,116.95 L422.65,116.88 L422.78,116.81 L422.90,116.75 L423.03,116.69 L423.16,116.63 L423.28,116.57 L423.41,116.52 L423.54,116.47 L423.67,116.43 L423.79,116.39 L423.92,116.35 L424.05,116.32 L424.18,116.29 L424.30,116.27 L424.43,116.25 L424.56,116.24 L424.69,116.23 L424.81,116.23 L424.94,116.23 L425.07,116.24 L425.19,116.25 L425.32,116.26 L425.45,116.29 L425.58,116.74 L425.70,116.74 L425.83,116.74 L425.96,116.74 L426.09,116.74 L426.21,116.74 L426.34,116.64 L426.47,116.38 L426.60,115.94 L426.72,115.35 L426.85,114.59 L426.98,113.68 L427.11,112.61 L427.23,111.39 L427.36,110.03 L427.49,108.53 L427.61,106.89 L427.74,105.13 L427.87,103.25 L428.00,101.26 L428.12,99.16 L428.25,96.96 L428.38,94.68 L428.51,92.33 L428.63,89.90 L428.76,87.42 L428.89,84.89 L429.02,82.32 L429.14,79.72 L429.27,77.10 L429.40,74.48 L429.52,71.87 L429.65,69.26 L429.78,66.69 L429.91,64.14 L430.03,61.65 L430.16,59.20 L430.29,56.83 L430.42,54.53 L430.54,52.31 L430.67,50.19 L430.80,48.17 L430.93,46.26 L431.05,44.46 L431.18,42.80 L431.31,41.26 L431.43,39.86 L431.56,38.61 L431.69,37.50 L431.82,36.54 L431.94,35.75 L432.07,35.11 L432.20,34.64 L432.33,34.33 L432.45,34.18 L432.58,34.21 L432.71,34.44 L432.84,34.87 L432.96,35.49 L433.09,36.30 L433.22,37.31 L433.35,38.50 L433.47,39.87 L433.60,41.41 L433.73,43.11 L433.85,44.97 L433.98,46.98 L434.11,49.13 L434.24,51.40 L434.36,53.80 L434.49,56.29 L434.62,58.88 L434.75,61.55 L434.87,64.28 L435.00,67.08 L435.13,69.91 L435.26,72.76 L435.38,75.63 L435.51,78.50 L435.64,81.36 L435.76,84.19 L435.89,86.97 L436.02,89.70 L436.15,92.36 L436.27,94.94 L436.40,97.42 L436.53,99.80 L436.66,102.06 L436.78,104.19 L436.91,106.18 L437.04,108.02 L437.17,109.71 L437.29,111.23 L437.42,112.58 L437.55,113.74 L437.68,114.72 L437.80,115.52 L437.93,116.11 L438.06,116.52 L438.18,116.72 L438.31,116.73 L438.44,116.65 L438.57,116.48 L438.69,116.22 L438.82,115.88 L438.95,115.46 L439.08,114.95 L439.20,114.37 L439.33,113.72 L439.46,112.99 L439.59,112.19 L439.71,111.33 L439.84,110.41 L439.97,109.43 L440.09,108.40 L440.22,107.33 L440.35,106.21 L440.48,105.06 L440.60,103.88 L440.73,102.67 L440.86,101.45 L440.99,100.21 L441.11,98.97 L441.24,97.73 L441.37,96.49 L441.50,95.26 L441.62,94.05 L441.75,92.86 L441.88,91.71 L442.00,90.58 L442.13,89.50 L442.26,88.46 L442.39,87.48 L442.51,86.54 L442.64,85.67 L442.77,84.86 L442.90,84.12 L443.02,83.45 L443.15,82.86 L443.28,82.34 L443.41,81.90 L443.53,81.55 L443.66,81.27 L443.79,81.09 L443.92,80.99 L444.04,80.97 L444.17,81.04 L444.30,81.20 L444.42,81.45 L444.55,81.77 L444.68,82.19 L444.81,82.68 L444.93,83.25 L445.06,83.89 L445.19,84.61 L445.32,85.40 L445.44,86.25 L445.57,87.16 L445.70,88.13 L445.83,89.15 L445.95,90.22 L446.08,91.33 L446.21,92.48 L446.33,93.65 L446.46,94.85 L446.59,96.08 L446.72,97.31 L446.84,98.55 L446.97,99.80 L447.10,101.04 L447.23,102.27 L447.35,103.48 L447.48,104.67 L447.61,105.83 L447.74,106.96 L447.86,108.05 L447.99,109.09 L448.12,110.09 L448.24,111.03 L448.37,111.91 L448.50,112.73 L448.63,113.48 L448.75,114.16 L448.88,114.77 L449.01,115.30 L449.14,115.75 L449.26,116.12 L449.39,116.40 L449.52,116.60 L449.65,116.72 L449.77,116.74 L449.90,116.65 L450.03,116.44 L450.16,116.10 L450.28,115.63 L450.41,115.04 L450.54,114.32 L450.66,113.50 L450.79,112.55 L450.92,111.50 L451.05,110.35 L451.17,109.10 L451.30,107.76 L451.43,106.33 L451.56,104.82 L451.68,103.25 L451.81,101.61 L451.94,99.91 L452.07,98.17 L452.19,96.39 L452.32,94.58 L452.45,92.74 L452.57,90.90 L452.70,89.05 L452.83,87.21 L452.96,85.38 L453.08,83.57 L453.21,81.80 L453.34,80.07 L453.47,78.38 L453.59,76.76 L453.72,75.19 L453.85,73.70 L453.98,72.29 L454.10,70.97 L454.23,69.74 L454.36,68.61 L454.49,67.58 L454.61,66.66 L454.74,65.86 L454.87,65.17 L454.99,64.61 L455.12,64.16 L455.25,63.85 L455.38,63.66 L455.50,63.60 L455.63,63.67 L455.76,63.86 L455.89,64.19 L456.01,64.64 L456.14,65.21 L456.27,65.90 L456.40,66.71 L456.52,67.64 L456.65,68.67 L456.78,69.81 L456.90,71.05 L457.03,72.38 L457.16,73.79 L457.29,75.29 L457.41,76.85 L457.54,78.48 L457.67,80.17 L457.80,81.91 L457.92,83.68 L458.05,85.49 L458.18,87.32 L458.31,89.16 L458.43,91.01 L458.56,92.86 L458.69,94.69 L458.81,96.50 L458.94,98.28 L459.07,100.02 L459.20,101.71 L459.32,103.34 L459.45,104.92 L459.58,106.42 L459.71,107.84 L459.83,109.18 L459.96,110.42 L460.09,111.57 L460.22,112.61 L460.34,113.55 L460.47,114.37 L460.60,115.08 L460.73,115.66 L460.85,116.12 L460.98,116.46 L461.11,116.66 L461.23,116.74 L461.36,116.70 L461.49,116.55 L461.62,116.29 L461.74,115.93 L461.87,115.45 L462.00,114.88 L462.13,114.20 L462.25,113.43 L462.38,112.56 L462.51,111.61 L462.64,110.57 L462.76,109.45 L462.89,108.26 L463.02,106.99 L463.14,105.67 L463.27,104.29 L463.40,102.86 L463.53,101.39 L463.65,99.88 L463.78,98.35 L463.91,96.79 L464.04,95.22 L464.16,93.65 L464.29,92.08 L464.42,90.52 L464.55,88.97 L464.67,87.45 L464.80,85.97 L464.93,84.52 L465.05,83.12 L465.18,81.77 L465.31,80.49 L465.44,79.26 L465.56,78.11 L465.69,77.04 L465.82,76.05 L465.95,75.15 L466.07,74.34 L466.20,73.63 L466.33,73.01 L466.46,72.50 L466.58,72.09 L466.71,71.79 L466.84,71.59 L466.97,71.51 L467.09,71.53 L467.22,71.67 L467.35,71.91 L467.47,72.26 L467.60,72.72 L467.73,73.28 L467.86,73.94 L467.98,74.70 L468.11,75.55 L468.24,76.49 L468.37,77.52 L468.49,78.63 L468.62,79.81 L468.75,81.06 L468.88,82.38 L469.00,83.75 L469.13,85.17 L469.26,86.64 L469.38,88.14 L469.51,89.67 L469.64,91.22 L469.77,92.79 L469.89,94.36 L470.02,95.93 L470.15,97.50 L470.28,99.04 L470.40,100.57 L470.53,102.06 L470.66,103.51 L470.79,104.92 L470.91,106.28 L471.04,107.57 L471.17,108.81 L471.30,109.97 L471.42,111.05 L471.55,112.05 L471.68,112.97 L471.80,113.79 L471.93,114.52 L472.06,115.15 L472.19,115.68 L472.31,116.11 L472.44,116.42 L472.57,116.63 L472.70,116.73 L472.82,116.73 L472.95,116.60 L473.08,116.36 L473.21,116.00 L473.33,115.53 L473.46,114.95 L473.59,114.26 L473.71,113.46 L473.84,112.56 L473.97,111.57 L474.10,110.48 L474.22,109.31 L474.35,108.06 L474.48,106.73 L474.61,105.33 L474.73,103.87 L474.86,102.36 L474.99,100.80 L475.12,99.19 L475.24,97.56 L475.37,95.90 L475.50,94.23 L475.62,92.54 L475.75,90.86 L475.88,89.19 L476.01,87.53 L476.13,85.90 L476.26,84.29 L476.39,82.73 L476.52,81.22 L476.64,79.76 L476.77,78.36 L476.90,77.03 L477.03,75.78 L477.15,74.61 L477.28,73.52 L477.41,72.53 L477.54,71.63 L477.66,70.83 L477.79,70.14 L477.92,69.56 L478.04,69.09 L478.17,68.73 L478.30,68.49 L478.43,68.36 L478.55,68.35 L478.68,68.46 L478.81,68.69 L478.94,69.03 L479.06,69.48 L479.19,70.05 L479.32,70.72 L479.45,71.50 L479.57,72.38 L479.70,73.36 L479.83,74.43 L479.95,75.59 L480.08,76.83 L480.21,78.15 L480.34,79.54 L480.46,80.99 L480.59,82.50 L480.72,84.05 L480.85,85.65 L480.97,87.28 L481.10,88.93 L481.23,90.61 L481.36,92.29 L481.48,93.97 L481.61,95.65 L481.74,97.31 L481.86,98.95 L481.99,100.55 L482.12,102.12 L482.25,103.64 L482.37,105.11 L482.50,106.52 L482.63,107.86 L482.76,109.12 L482.88,110.31 L483.01,111.41 L483.14,112.42 L483.27,113.33 L483.39,114.14 L483.52,114.85 L483.65,115.45 L483.78,115.93 L483.90,116.31 L484.03,116.57 L484.16,116.71 L484.28,116.74 L484.41,116.65 L484.54,116.45 L484.67,116.14 L484.79,115.72 L484.92,115.19 L485.05,114.55 L485.18,113.81 L485.30,112.97 L485.43,112.03 L485.56,111.01 L485.69,109.90 L485.81,108.71 L485.94,107.44 L486.07,106.11 L486.19,104.71 L486.32,103.26 L486.45,101.76 L486.58,100.22 L486.70,98.65 L486.83,97.05 L486.96,95.43 L487.09,93.80 L487.21,92.17 L487.34,90.55 L487.47,88.94 L487.60,87.35 L487.72,85.79 L487.85,84.26 L487.98,82.78 L488.11,81.35 L488.23,79.98 L488.36,78.67 L488.49,77.43 L488.61,76.27 L488.74,75.20 L488.87,74.20 L489.00,73.31 L489.12,72.51 L489.25,71.81 L489.38,71.21 L489.51,70.72 L489.63,70.34 L489.76,70.07 L489.89,69.92 L490.02,69.87 L490.14,69.94 L490.27,70.13 L490.40,70.42 L490.52,70.83 L490.65,71.34 L490.78,71.96 L490.91,72.69 L491.03,73.51 L491.16,74.43 L491.29,75.45 L491.42,76.54 L491.54,77.72 L491.67,78.98 L491.80,80.30 L491.93,81.69 L492.05,83.13 L492.18,84.62 L492.31,86.16 L492.43,87.73 L492.56,89.32 L492.69,90.94 L492.82,92.57 L492.94,94.20 L493.07,95.82 L493.20,97.44 L493.33,99.03 L493.45,100.60 L493.58,102.13 L493.71,103.61 L493.84,105.05 L493.96,106.43 L494.09,107.75 L494.22,109.00 L494.35,110.17 L494.47,111.26 L494.60,112.27 L494.73,113.18 L494.85,114.00 L494.98,114.71 L495.11,115.32 L495.24,115.83 L495.36,116.23 L495.49,116.51 L495.62,116.68 L495.75,116.74 L495.87,116.69 L496.00,116.52 L496.13,116.23 L496.26,115.84 L496.38,115.33 L496.51,114.71 L496.64,113.98 L496.76,113.15 L496.89,112.23 L497.02,111.20 L497.15,110.09 L497.27,108.90 L497.40,107.63 L497.53,106.28 L497.66,104.87 L497.78,103.40 L497.91,101.88 L498.04,100.32 L498.17,98.72 L498.29,97.09 L498.42,95.44 L498.55,93.78 L498.67,92.11 L498.80,90.44 L498.93,88.79 L499.06,87.16 L499.18,85.55 L499.31,83.98 L499.44,82.45 L499.57,80.97 L499.69,79.54 L499.82,78.18 L499.95,76.90 L500.08,75.68 L500.20,74.56 L500.33,73.51 L500.46,72.57 L500.59,71.72 L500.71,70.97 L500.84,70.33 L500.97,69.79 L501.09,69.37 L501.22,69.06 L501.35,68.86 L501.48,68.79 L501.60,68.82 L501.73,68.97 L501.86,69.24 L501.99,69.62 L502.11,70.12 L502.24,70.72 L502.37,71.43 L502.50,72.24 L502.62,73.16 L502.75,74.16 L502.88,75.26 L503.00,76.44 L503.13,77.70 L503.26,79.04 L503.39,80.44 L503.51,81.90 L503.64,83.41 L503.77,84.97 L503.90,86.56 L504.02,88.19 L504.15,89.84 L504.28,91.50 L504.41,93.17 L504.53,94.83 L504.66,96.49 L504.79,98.13 L504.92,99.74 L505.04,101.32 L505.17,102.85 L505.30,104.34 L505.42,105.77 L505.55,107.14 L505.68,108.44 L505.81,109.67 L505.93,110.81 L506.06,111.86 L506.19,112.82 L506.32,113.69 L506.44,114.45 L506.57,115.11 L506.70,115.66 L506.83,116.10 L506.95,116.43 L507.08,116.64 L507.21,116.74 L507.33,116.72 L507.46,116.58 L507.59,116.34 L507.72,115.97 L507.84,115.50 L507.97,114.92 L508.10,114.23 L508.23,113.44 L508.35,112.54 L508.48,111.56 L508.61,110.48 L508.74,109.32 L508.86,108.08 L508.99,106.76 L509.12,105.38 L509.24,103.94 L509.37,102.44 L509.50,100.90 L509.63,99.32 L509.75,97.71 L509.88,96.08 L510.01,94.43 L510.14,92.77 L510.26,91.12 L510.39,89.47 L510.52,87.84 L510.65,86.23 L510.77,84.66 L510.90,83.12 L511.03,81.64 L511.16,80.21 L511.28,78.84 L511.41,77.53 L511.54,76.31 L511.66,75.16 L511.79,74.10 L511.92,73.13 L512.05,72.25 L512.17,71.48 L512.30,70.81 L512.43,70.25 L512.56,69.79 L512.68,69.45 L512.81,69.22 L512.94,69.11 L513.07,69.11 L513.19,69.23 L513.32,69.46 L513.45,69.80 L513.57,70.26 L513.70,70.83 L513.83,71.50 L513.96,72.28 L514.08,73.15 L514.21,74.13 L514.34,75.19 L514.47,76.34 L514.59,77.57 L514.72,78.87 L514.85,80.24 L514.98,81.68 L515.10,83.16 L515.23,84.70 L515.36,86.27 L515.48,87.88 L515.61,89.51 L515.74,91.16 L515.87,92.82 L515.99,94.47 L516.12,96.12 L516.25,97.76 L516.38,99.37 L516.50,100.94 L516.63,102.48 L516.76,103.98 L516.89,105.42 L517.01,106.80 L517.14,108.11 L517.27,109.35 L517.40,110.51 L517.52,111.58 L517.65,112.57 L517.78,113.46 L517.90,114.25 L518.03,114.93 L518.16,115.51 L518.29,115.99 L518.41,116.34 L518.54,116.59 L518.67,116.72 L518.80,116.74 L518.92,116.64 L519.05,116.42 L519.18,116.10 L519.31,115.66 L519.43,115.11 L519.56,114.45 L519.69,113.69 L519.81,112.82 L519.94,111.87 L520.07,110.82 L520.20,109.68 L520.32,108.46 L520.45,107.17 L520.58,105.81 L520.71,104.38 L520.83,102.90 L520.96,101.37 L521.09,99.81 L521.22,98.20 L521.34,96.58 L521.47,94.93 L521.60,93.27 L521.73,91.62 L521.85,89.97 L521.98,88.33 L522.11,86.72 L522.23,85.13 L522.36,83.59 L522.49,82.08 L522.62,80.63 L522.74,79.25 L522.87,77.92 L523.00,76.67 L523.13,75.50 L523.25,74.41 L523.38,73.41 L523.51,72.51 L523.64,71.70 L523.76,71.00 L523.89,70.41 L524.02,69.92 L524.14,69.54 L524.27,69.28 L524.40,69.13 L524.53,69.10 L524.65,69.18 L524.78,69.38 L524.91,69.69 L525.04,70.11 L525.16,70.64 L525.29,71.28 L525.42,72.03 L525.55,72.88 L525.67,73.82 L525.80,74.86 L525.93,75.98 L526.05,77.19 L526.18,78.47 L526.31,79.82 L526.44,81.24 L526.56,82.71 L526.69,84.23 L526.82,85.79 L526.95,87.39 L527.07,89.02 L527.20,90.66 L527.33,92.31 L527.46,93.97 L527.58,95.62 L527.71,97.26 L527.84,98.88 L527.97,100.47 L528.09,102.02 L528.22,103.53 L528.35,104.99 L528.47,106.39 L528.60,107.72 L528.73,108.98 L528.86,110.17 L528.98,111.27 L529.11,112.28 L529.24,113.20 L529.37,114.02 L529.49,114.74 L529.62,115.35 L529.75,115.85 L529.88,116.25 L530.00,116.53 L530.13,116.69 L530.26,116.74 L530.38,116.68 L530.51,116.50 L530.64,116.21 L530.77,115.80 L530.89,115.28 L531.02,114.66 L531.15,113.93 L531.28,113.10 L531.40,112.17 L531.53,111.14 L531.66,110.03 L531.79,108.84 L531.91,107.57 L532.04,106.23 L532.17,104.82 L532.29,103.36 L532.42,101.84 L532.55,100.29 L532.68,98.69 L532.80,97.07 L532.93,95.43 L533.06,93.78 L533.19,92.12 L533.31,90.47 L533.44,88.82 L533.57,87.20 L533.70,85.61 L533.82,84.05 L533.95,82.53 L534.08,81.07 L534.21,79.66 L534.33,78.32 L534.46,77.04 L534.59,75.85 L534.71,74.73 L534.84,73.71 L534.97,72.79 L535.10,71.97 L535.22,71.28 L535.35,70.75 L535.48,70.41 L535.61,70.34 L535.73,70.62 L535.86,71.36 L535.99,72.68 L536.12,74.70 L536.24,77.28 L536.37,80.31 L536.50,83.57 L536.62,86.72 L536.75,89.37 L536.88,91.14 L537.01,91.76 L537.13,91.15 L537.26,89.42 L537.39,86.88 L537.52,83.92 L537.64,80.93 L537.77,78.21 L537.90,75.98 L538.03,74.30 L538.15,73.14 L538.28,72.42 L538.41,72.01 L538.54,71.83 L538.66,71.79 L538.79,71.82 L538.92,71.90 L539.04,72.01 L539.17,72.12 L539.30,72.24 L539.43,72.36 L539.55,72.48 L539.68,72.60 L539.81,72.72 L539.94,72.85 L540.06,72.97 L540.19,73.09 L540.32,73.21 L540.45,73.33 L540.57,73.45 L540.70,73.57" fill="none" stroke="#ff0000" stroke-width="1.35" stroke-linejoin="round"/>
<path d="M311.60,118.30 L311.73,118.30 L311.85,118.30 L311.98,118.29 L312.11,118.28 L312.24,118.26 L312.36,118.24 L312.49,118.22 L312.62,118.19 L312.75,118.15 L312.87,118.11 L313.00,118.07 L313.13,118.02 L313.26,117.97 L313.38,117.91 L313.51,117.86 L313.64,117.80 L313.76,117.73 L313.89,117.67 L314.02,117.60 L314.15,117.53 L314.27,117.46 L314.40,117.39 L314.53,117.32 L314.66,117.25 L314.78,117.17 L314.91,117.10 L315.04,117.03 L315.17,116.96 L315.29,116.89 L315.42,116.83 L315.55,116.76 L315.68,116.70 L315.80,116.64 L315.93,116.59 L316.06,116.53 L316.18,116.48 L316.31,116.44 L316.44,116.40 L316.57,116.36 L316.69,116.33 L316.82,116.30 L316.95,116.27 L317.08,116.25 L317.20,116.24 L317.33,116.23 L317.46,116.23 L317.59,116.23 L317.71,116.23 L317.84,116.24 L317.97,116.26 L318.09,116.28 L318.22,116.31 L318.35,116.34 L318.48,116.37 L318.60,116.41 L318.73,116.45 L318.86,116.50 L318.99,116.55 L319.11,116.60 L319.24,116.66 L319.37,116.72 L319.50,116.78 L319.62,116.85 L319.75,116.92 L319.88,116.98 L320.01,117.05 L320.13,117.13 L320.26,117.20 L320.39,117.27 L320.51,117.34 L320.64,117.41 L320.77,117.48 L320.90,117.55 L321.02,117.62 L321.15,117.69 L321.28,117.75 L321.41,117.82 L321.53,117.88 L321.66,117.93 L321.79,117.99 L321.92,118.04 L322.04,118.08 L322.17,118.12 L322.30,118.16 L322.42,118.20 L322.55,118.23 L322.68,118.25 L322.81,118.27 L322.93,118.28 L323.06,118.29 L323.19,118.30 L323.32,118.30 L323.44,118.29 L323.57,118.28 L323.70,118.27 L323.83,118.25 L323.95,118.22 L324.08,118.20 L324.21,118.16 L324.33,118.12 L324.46,118.08 L324.59,118.03 L324.72,117.98 L324.84,117.93 L324.97,117.87 L325.10,117.81 L325.23,117.75 L325.35,117.69 L325.48,117.62 L325.61,117.55 L325.74,117.48 L325.86,117.41 L325.99,117.34 L326.12,117.27 L326.25,117.20 L326.37,117.12 L326.50,117.05 L326.63,116.98 L326.75,116.91 L326.88,116.85 L327.01,116.78 L327.14,116.72 L327.26,116.66 L327.39,116.60 L327.52,116.55 L327.65,116.50 L327.77,116.45 L327.90,116.41 L328.03,116.37 L328.16,116.33 L328.28,116.30 L328.41,116.28 L328.54,116.26 L328.66,116.24 L328.79,116.23 L328.92,116.23 L329.05,116.23 L329.17,116.23 L329.30,116.24 L329.43,116.25 L329.56,116.27 L329.68,116.30 L329.81,116.33 L329.94,116.36 L330.07,116.40 L330.19,116.44 L330.32,116.48 L330.45,116.53 L330.57,116.59 L330.70,116.64 L330.83,116.70 L330.96,116.76 L331.08,116.83 L331.21,116.89 L331.34,116.96 L331.47,117.03 L331.59,117.10 L331.72,117.18 L331.85,117.25 L331.98,117.32 L332.10,117.39 L332.23,117.46 L332.36,117.53 L332.49,117.60 L332.61,117.67 L332.74,117.73 L332.87,117.80 L332.99,117.86 L333.12,117.92 L333.25,117.97 L333.38,118.02 L333.50,118.07 L333.63,118.11 L333.76,118.15 L333.89,118.19 L334.01,118.22 L334.14,118.24 L334.27,118.26 L334.40,118.28 L334.52,118.29 L334.65,118.30 L334.78,118.30 L334.90,118.30 L335.03,118.29 L335.16,118.27 L335.29,118.26 L335.41,118.23 L335.54,118.20 L335.67,118.17 L335.80,118.14 L335.92,118.09 L336.05,118.05 L336.18,118.00 L336.31,117.95 L336.43,117.89 L336.56,117.83 L336.69,117.77 L336.82,117.71 L336.94,117.64 L337.07,117.57 L337.20,117.50 L337.32,117.43 L337.45,117.36 L337.58,117.29 L337.71,117.22 L337.83,117.15 L337.96,117.07 L338.09,117.00 L338.22,116.93 L338.34,116.87 L338.47,116.80 L338.60,116.74 L338.73,116.68 L338.85,116.62 L338.98,116.56 L339.11,116.51 L339.23,116.46 L339.36,116.42 L339.49,116.38 L339.62,116.34 L339.74,116.31 L339.87,116.29 L340.00,116.26 L340.13,116.25 L340.25,116.24 L340.38,116.23 L340.51,116.23 L340.64,116.23 L340.76,116.24 L340.89,116.25 L341.02,116.27 L341.14,116.29 L341.27,116.32 L341.40,116.35 L341.53,116.38 L341.65,116.43 L341.78,116.47 L341.91,116.52 L342.04,116.57 L342.16,116.63 L342.29,116.68 L342.42,116.74 L342.55,116.81 L342.67,116.87 L342.80,116.94 L342.93,117.01 L343.06,117.08 L343.18,117.15 L343.31,117.23 L343.44,117.30 L343.56,117.37 L343.69,117.44 L343.82,117.51 L343.95,117.58 L344.07,117.65 L344.20,117.71 L344.33,117.78 L344.46,117.84 L344.58,117.90 L344.71,117.95 L344.84,118.01 L344.97,118.05 L345.09,118.10 L345.22,118.14 L345.35,118.18 L345.47,118.21 L345.60,118.24 L345.73,118.26 L345.86,118.28 L345.98,118.29 L346.11,118.30 L346.24,118.30 L346.37,118.30 L346.49,118.29 L346.62,118.28 L346.75,118.26 L346.88,118.24 L347.00,118.21 L347.13,118.18 L347.26,118.15 L347.38,118.11 L347.51,118.06 L347.64,118.02 L347.77,117.96 L347.89,117.91 L348.02,117.85 L348.15,117.79 L348.28,117.73 L348.40,117.66 L348.53,117.59 L348.66,117.52 L348.79,117.45 L348.91,117.38 L349.04,117.31 L349.17,117.24 L349.30,117.17 L349.42,117.10 L349.55,117.02 L349.68,116.96 L349.80,116.89 L349.93,116.82 L350.06,116.76 L350.19,116.70 L350.31,116.64 L350.44,116.58 L350.57,116.53 L350.70,116.48 L350.82,116.43 L350.95,116.39 L351.08,116.36 L351.21,116.32 L351.33,116.29 L351.46,116.27 L351.59,116.25 L351.71,116.24 L351.84,116.23 L351.97,116.23 L352.10,116.23 L352.22,116.23 L352.35,116.24 L352.48,116.26 L352.61,116.28 L352.73,116.31 L352.86,116.34 L352.99,116.37 L353.12,116.41 L353.24,116.46 L353.37,116.50 L353.50,116.55 L353.63,116.61 L353.75,116.67 L353.88,116.73 L354.01,116.79 L354.13,116.85 L354.26,116.92 L354.39,116.99 L354.52,117.06 L354.64,117.13 L354.77,117.20 L354.90,117.28 L355.03,117.35 L355.15,117.42 L355.28,117.49 L355.41,117.56 L355.54,117.63 L355.66,117.70 L355.79,117.76 L355.92,117.82 L356.04,117.88 L356.17,117.94 L356.30,117.99 L356.43,118.04 L356.55,118.09 L356.68,118.13 L356.81,118.17 L356.94,118.20 L357.06,118.23 L357.19,118.25 L357.32,118.27 L357.45,118.29 L357.57,118.30 L357.70,118.30 L357.83,118.30 L357.95,118.29 L358.08,118.28 L358.21,118.27 L358.34,118.25 L358.46,118.22 L358.59,118.19 L358.72,118.16 L358.85,118.12 L358.97,118.08 L359.10,118.03 L359.23,117.98 L359.36,117.93 L359.48,117.87 L359.61,117.81 L359.74,117.75 L359.87,117.68 L359.99,117.61 L360.12,117.55 L360.25,117.48 L360.37,117.40 L360.50,117.33 L360.63,117.26 L360.76,117.19 L360.88,117.12 L361.01,117.05 L361.14,116.98 L361.27,116.91 L361.39,116.84 L361.52,116.78 L361.65,116.71 L361.78,116.65 L361.90,116.60 L362.03,116.54 L362.16,116.49 L362.28,116.45 L362.41,116.40 L362.54,116.37 L362.67,116.33 L362.79,116.30 L362.92,116.28 L363.05,116.26 L363.18,116.24 L363.30,116.23 L363.43,116.23 L363.56,116.23 L363.69,116.23 L363.81,116.24 L363.94,116.26 L364.07,116.28 L364.19,116.30 L364.32,116.33 L364.45,116.36 L364.58,116.40 L364.70,116.44 L364.83,116.49 L364.96,116.54 L365.09,116.59 L365.21,116.65 L365.34,116.71 L365.47,116.77 L365.60,116.83 L365.72,116.90 L365.85,116.97 L365.98,117.04 L366.11,117.11 L366.23,117.18 L366.36,117.25 L366.49,117.33 L366.61,117.40 L366.74,117.47 L366.87,117.54 L367.00,117.61 L367.12,117.68 L367.25,117.74 L367.38,117.80 L367.51,117.86 L367.63,117.92 L367.76,117.97 L367.89,118.03 L368.02,118.07 L368.14,118.12 L368.27,118.15 L368.40,118.19 L368.52,118.22 L368.65,118.25 L368.78,118.27 L368.91,118.28 L369.03,118.29 L369.16,118.30 L369.29,118.30 L369.42,118.30 L369.54,118.29 L369.67,118.27 L369.80,118.25 L369.93,118.23 L370.05,118.20 L370.18,118.17 L370.31,118.13 L370.44,118.09 L370.56,118.04 L370.69,118.00 L370.82,117.94 L370.94,117.89 L371.07,117.83 L371.20,117.77 L371.33,117.70 L371.45,117.64 L371.58,117.57 L371.71,117.50 L371.84,117.43 L371.96,117.36 L372.09,117.28 L372.22,117.21 L372.35,117.14 L372.47,117.07 L372.60,117.00 L372.73,116.93 L372.85,116.86 L372.98,116.80 L373.11,116.73 L373.24,116.67 L373.36,116.61 L373.49,116.56 L373.62,116.51 L373.75,116.46 L373.87,116.42 L374.00,116.38 L374.13,116.34 L374.26,116.31 L374.38,116.28 L374.51,116.26 L374.64,116.25 L374.76,116.23 L374.89,116.23 L375.02,116.23 L375.15,116.23 L375.27,116.24 L375.40,116.25 L375.53,116.27 L375.66,116.29 L375.78,116.32 L375.91,116.35 L376.04,116.39 L376.17,116.43 L376.29,116.47 L376.42,116.52 L376.55,116.57 L376.68,116.63 L376.80,116.69 L376.93,116.75 L377.06,116.81 L377.18,116.88 L377.31,116.95 L377.44,117.02 L377.57,117.09 L377.69,117.16 L377.82,117.23 L377.95,117.30 L378.08,117.38 L378.20,117.45 L378.33,117.52 L378.46,117.59 L378.59,117.66 L378.71,117.72 L378.84,117.78 L378.97,117.85 L379.09,117.90 L379.22,117.96 L379.35,118.01 L379.48,118.06 L379.60,118.10 L379.73,118.14 L379.86,118.18 L379.99,118.21 L380.11,118.24 L380.24,118.26 L380.37,118.28 L380.50,118.29 L380.62,118.30 L380.75,118.30 L380.88,118.30 L381.00,118.29 L381.13,118.28 L381.26,118.26 L381.39,118.24 L381.51,118.21 L381.64,118.18 L381.77,118.14 L381.90,118.10 L382.02,118.06 L382.15,118.01 L382.28,117.96 L382.41,117.90 L382.53,117.85 L382.66,117.78 L382.79,117.72 L382.92,117.66 L383.04,117.59 L383.17,117.52 L383.30,117.45 L383.42,117.38 L383.55,117.30 L383.68,117.23 L383.81,117.16 L383.93,117.09 L384.06,117.02 L384.19,116.95 L384.32,116.88 L384.44,116.82 L384.57,116.75 L384.70,116.69 L384.83,116.63 L384.95,116.58 L385.08,116.52 L385.21,116.47 L385.33,116.43 L385.46,116.39 L385.59,116.35 L385.72,116.32 L385.84,116.29 L385.97,116.27 L386.10,116.25 L386.23,116.24 L386.35,116.23 L386.48,116.23 L386.61,116.23 L386.74,116.23 L386.86,116.25 L386.99,116.26 L387.12,116.28 L387.25,116.31 L387.37,116.34 L387.50,116.38 L387.63,116.42 L387.75,116.46 L387.88,116.51 L388.01,116.56 L388.14,116.61 L388.26,116.67 L388.39,116.73 L388.52,116.79 L388.65,116.86 L388.77,116.93 L388.90,117.00 L389.03,117.07 L389.16,117.14 L389.28,117.21 L389.41,117.28 L389.54,117.35 L389.66,117.43 L389.79,117.50 L389.92,117.57 L390.05,117.63 L390.17,117.70 L390.30,117.77 L390.43,117.83 L390.56,117.89 L390.68,117.94 L390.81,118.00 L390.94,118.04 L391.07,118.09 L391.19,118.13 L391.32,118.17 L391.45,118.20 L391.57,118.23 L391.70,118.25 L391.83,118.27 L391.96,118.29 L392.08,118.30 L392.21,118.30 L392.34,118.30 L392.47,118.29 L392.59,118.28 L392.72,118.27 L392.85,118.25 L392.98,118.22 L393.10,118.19 L393.23,118.15 L393.36,118.12 L393.49,118.07 L393.61,118.03 L393.74,117.98 L393.87,117.92 L393.99,117.86 L394.12,117.80 L394.25,117.74 L394.38,117.68 L394.50,117.61 L394.63,117.54 L394.76,117.47 L394.89,117.40 L395.01,117.33 L395.14,117.25 L395.27,117.18 L395.40,117.11 L395.52,117.04 L395.65,116.97 L395.78,116.90 L395.90,116.83 L396.03,116.77 L396.16,116.71 L396.29,116.65 L396.41,116.59 L396.54,116.54 L396.67,116.49 L396.80,116.44 L396.92,116.40 L397.05,116.36 L397.18,116.33 L397.31,116.30 L397.43,116.28 L397.56,116.26 L397.69,116.24 L397.81,116.23 L397.94,116.23 L398.07,116.23 L398.20,116.23 L398.32,116.24 L398.45,116.26 L398.58,116.28 L398.71,116.30 L398.83,116.33 L398.96,116.37 L399.09,116.40 L399.22,116.45 L399.34,116.49 L399.47,116.54 L399.60,116.60 L399.73,116.65 L399.85,116.71 L399.98,116.78 L400.11,116.84 L400.23,116.91 L400.36,116.98 L400.49,117.05 L400.62,117.12 L400.74,117.19 L400.87,117.26 L401.00,117.33 L401.13,117.40 L401.25,117.48 L401.38,117.55 L401.51,117.61 L401.64,117.68 L401.76,117.75 L401.89,117.81 L402.02,117.87 L402.14,117.93 L402.27,117.98 L402.40,118.03 L402.53,118.08 L402.65,118.12 L402.78,118.16 L402.91,118.19 L403.04,118.22 L403.16,118.25 L403.29,118.27 L403.42,118.28 L403.55,118.29 L403.67,118.30 L403.80,118.30 L403.93,118.30 L404.06,118.29 L404.18,118.27 L404.31,118.25 L404.44,118.23 L404.56,118.20 L404.69,118.17 L404.82,118.13 L404.95,118.09 L405.07,118.04 L405.20,117.99 L405.33,117.94 L405.46,117.88 L405.58,117.82 L405.71,117.76 L405.84,117.70 L405.97,117.63 L406.09,117.56 L406.22,117.49 L406.35,117.42 L406.47,117.35 L406.60,117.28 L406.73,117.20 L406.86,117.13 L406.98,117.06 L407.11,116.99 L407.24,116.92 L407.37,116.85 L407.49,116.79 L407.62,116.73 L407.75,116.67 L407.88,116.61 L408.00,116.55 L408.13,116.50 L408.26,116.46 L408.38,116.41 L408.51,116.37 L408.64,116.34 L408.77,116.31 L408.89,116.28 L409.02,116.26 L409.15,116.25 L409.28,116.23 L409.40,116.23 L409.53,116.23 L409.66,116.23 L409.79,116.24 L409.91,116.25 L410.04,116.27 L410.17,116.29 L410.30,116.32 L410.42,116.35 L410.55,116.39 L410.68,116.43 L410.80,116.48 L410.93,116.53 L411.06,116.58 L411.19,116.64 L411.31,116.69 L411.44,116.76 L411.57,116.82 L411.70,116.89 L411.82,116.95 L411.95,117.02 L412.08,117.10 L412.21,117.17 L412.33,117.24 L412.46,117.31 L412.59,117.38 L412.71,117.45 L412.84,117.52 L412.97,117.59 L413.10,117.66 L413.22,117.73 L413.35,117.79 L413.48,117.85 L413.61,117.91 L413.73,117.96 L413.86,118.02 L413.99,118.06 L414.12,118.11 L414.24,118.15 L414.37,118.18 L414.50,118.21 L414.62,118.24 L414.75,118.26 L414.88,118.28 L415.01,118.29 L415.13,118.30 L415.26,118.30 L415.39,118.30 L415.52,118.29 L415.64,118.28 L415.77,118.26 L415.90,118.24 L416.03,118.21 L416.15,118.18 L416.28,118.14 L416.41,118.10 L416.54,118.05 L416.66,118.01 L416.79,117.95 L416.92,117.90 L417.04,117.84 L417.17,117.78 L417.30,117.72 L417.43,117.65 L417.55,117.58 L417.68,117.51 L417.81,117.44 L417.94,117.37 L418.06,117.30 L418.19,117.23 L418.32,117.15 L418.45,117.08 L418.57,117.01 L418.70,116.94 L418.83,116.88 L418.95,116.81 L419.08,116.75 L419.21,116.68 L419.34,116.63 L419.46,116.57 L419.59,116.52 L419.72,116.47 L419.85,116.43 L419.97,116.39 L420.10,116.35 L420.23,116.32 L420.36,116.29 L420.48,116.27 L420.61,116.25 L420.74,116.24 L420.87,116.23 L420.99,116.23 L421.12,116.23 L421.25,116.24 L421.37,116.25 L421.50,116.26 L421.63,116.29 L421.76,116.31 L421.88,116.34 L422.01,116.38 L422.14,116.42 L422.27,116.46 L422.39,116.51 L422.52,116.56 L422.65,116.62 L422.78,116.68 L422.90,116.74 L423.03,116.80 L423.16,116.87 L423.28,116.93 L423.41,117.00 L423.54,117.07 L423.67,117.14 L423.79,117.22 L423.92,117.29 L424.05,117.36 L424.18,117.43 L424.30,117.50 L424.43,117.57 L424.56,117.64 L424.69,117.71 L424.81,117.77 L424.94,117.83 L425.07,117.89 L425.19,117.95 L425.32,118.00 L425.45,118.05 L425.58,118.09 L425.70,118.14 L425.83,118.17 L425.96,118.20 L426.09,118.23 L426.21,118.26 L426.34,118.27 L426.47,118.29 L426.60,118.30 L426.72,118.30 L426.85,118.30 L426.98,118.29 L427.11,118.28 L427.23,118.26 L427.36,118.24 L427.49,118.22 L427.61,118.19 L427.74,118.15 L427.87,118.11 L428.00,118.07 L428.12,118.02 L428.25,117.97 L428.38,117.92 L428.51,117.86 L428.63,117.80 L428.76,117.74 L428.89,117.67 L429.02,117.60 L429.14,117.53 L429.27,117.46 L429.40,117.39 L429.52,117.32 L429.65,117.25 L429.78,117.18 L429.91,117.10 L430.03,117.03 L430.16,116.96 L430.29,116.90 L430.42,116.83 L430.54,116.76 L430.67,116.70 L430.80,116.64 L430.93,116.59 L431.05,116.53 L431.18,116.48 L431.31,116.44 L431.43,116.40 L431.56,116.36 L431.69,116.33 L431.82,116.30 L431.94,116.27 L432.07,116.25 L432.20,116.24 L432.33,116.23 L432.45,116.23 L432.58,116.23 L432.71,116.23 L432.84,116.24 L432.96,116.26 L433.09,116.28 L433.22,116.30 L433.35,116.33 L433.47,116.37 L433.60,116.41 L433.73,116.45 L433.85,116.50 L433.98,116.55 L434.11,116.60 L434.24,116.66 L434.36,116.72 L434.49,116.78 L434.62,116.85 L434.75,116.91 L434.87,116.98 L435.00,117.05 L435.13,117.12 L435.26,117.19 L435.38,117.27 L435.51,117.34 L435.64,117.41 L435.76,117.48 L435.89,117.55 L436.02,117.62 L436.15,117.69 L436.27,117.75 L436.40,117.81 L436.53,117.87 L436.66,117.93 L436.78,117.98 L436.91,118.03 L437.04,118.08 L437.17,118.12 L437.29,118.16 L437.42,118.20 L437.55,118.22 L437.68,118.25 L437.80,118.27 L437.93,118.28 L438.06,118.29 L438.18,118.30 L438.31,118.30 L438.44,118.29 L438.57,118.28 L438.69,118.27 L438.82,118.25 L438.95,118.23 L439.08,118.20 L439.20,118.16 L439.33,118.12 L439.46,118.08 L439.59,118.04 L439.71,117.99 L439.84,117.93 L439.97,117.88 L440.09,117.82 L440.22,117.75 L440.35,117.69 L440.48,117.62 L440.60,117.55 L440.73,117.48 L440.86,117.41 L440.99,117.34 L441.11,117.27 L441.24,117.20 L441.37,117.13 L441.50,117.05 L441.62,116.98 L441.75,116.92 L441.88,116.85 L442.00,116.78 L442.13,116.72 L442.26,116.66 L442.39,116.60 L442.51,116.55 L442.64,116.50 L442.77,116.45 L442.90,116.41 L443.02,116.37 L443.15,116.34 L443.28,116.31 L443.41,116.28 L443.53,116.26 L443.66,116.24 L443.79,116.23 L443.92,116.23 L444.04,116.23 L444.17,116.23 L444.30,116.24 L444.42,116.25 L444.55,116.27 L444.68,116.30 L444.81,116.32 L444.93,116.36 L445.06,116.40 L445.19,116.44 L445.32,116.48 L445.44,116.53 L445.57,116.58 L445.70,116.64 L445.83,116.70 L445.95,116.76 L446.08,116.83 L446.21,116.89 L446.33,116.96 L446.46,117.03 L446.59,117.10 L446.72,117.17 L446.84,117.25 L446.97,117.32 L447.10,117.39 L447.23,117.46 L447.35,117.53 L447.48,117.60 L447.61,117.67 L447.74,117.73 L447.86,117.80 L447.99,117.86 L448.12,117.91 L448.24,117.97 L448.37,118.02 L448.50,118.07 L448.63,118.11 L448.75,118.15 L448.88,118.19 L449.01,118.22 L449.14,118.24 L449.26,118.26 L449.39,118.28 L449.52,118.29 L449.65,118.30 L449.77,118.30 L449.90,118.30 L450.03,118.29 L450.16,118.27 L450.28,118.26 L450.41,118.23 L450.54,118.21 L450.66,118.17 L450.79,118.14 L450.92,118.10 L451.05,118.05 L451.17,118.00 L451.30,117.95 L451.43,117.89 L451.56,117.84 L451.68,117.77 L451.81,117.71 L451.94,117.64 L452.07,117.58 L452.19,117.51 L452.32,117.44 L452.45,117.36 L452.57,117.29 L452.70,117.22 L452.83,117.15 L452.96,117.08 L453.08,117.01 L453.21,116.94 L453.34,116.87 L453.47,116.80 L453.59,116.74 L453.72,116.68 L453.85,116.62 L453.98,116.57 L454.10,116.51 L454.23,116.47 L454.36,116.42 L454.49,116.38 L454.61,116.35 L454.74,116.31 L454.87,116.29 L454.99,116.27 L455.12,116.25 L455.25,116.24 L455.38,116.23 L455.50,116.23 L455.63,116.23 L455.76,116.24 L455.89,116.25 L456.01,116.27 L456.14,116.29 L456.27,116.32 L456.40,116.35 L456.52,116.38 L456.65,116.42 L456.78,116.47 L456.90,116.52 L457.03,116.57 L457.16,116.62 L457.29,116.68 L457.41,116.74 L457.54,116.81 L457.67,116.87 L457.80,116.94 L457.92,117.01 L458.05,117.08 L458.18,117.15 L458.31,117.22 L458.43,117.30 L458.56,117.37 L458.69,117.44 L458.81,117.51 L458.94,117.58 L459.07,117.65 L459.20,117.71 L459.32,117.78 L459.45,117.84 L459.58,117.90 L459.71,117.95 L459.83,118.00 L459.96,118.05 L460.09,118.10 L460.22,118.14 L460.34,118.18 L460.47,118.21 L460.60,118.23 L460.73,118.26 L460.85,118.28 L460.98,118.29 L461.11,118.30 L461.23,118.30 L461.36,118.30 L461.49,118.29 L461.62,118.28 L461.74,118.26 L461.87,118.24 L462.00,118.21 L462.13,118.18 L462.25,118.15 L462.38,118.11 L462.51,118.06 L462.64,118.02 L462.76,117.97 L462.89,117.91 L463.02,117.85 L463.14,117.79 L463.27,117.73 L463.40,117.66 L463.53,117.60 L463.65,117.53 L463.78,117.46 L463.91,117.39 L464.04,117.31 L464.16,117.24 L464.29,117.17 L464.42,117.10 L464.55,117.03 L464.67,116.96 L464.80,116.89 L464.93,116.82 L465.05,116.76 L465.18,116.70 L465.31,116.64 L465.44,116.58 L465.56,116.53 L465.69,116.48 L465.82,116.43 L465.95,116.39 L466.07,116.36 L466.20,116.32 L466.33,116.30 L466.46,116.27 L466.58,116.25 L466.71,116.24 L466.84,116.23 L466.97,116.23 L467.09,116.23 L467.22,116.23 L467.35,116.24 L467.47,116.26 L467.60,116.28 L467.73,116.31 L467.86,116.34 L467.98,116.37 L468.11,116.41 L468.24,116.45 L468.37,116.50 L468.49,116.55 L468.62,116.61 L468.75,116.66 L468.88,116.72 L469.00,116.79 L469.13,116.85 L469.26,116.92 L469.38,116.99 L469.51,117.06 L469.64,117.13 L469.77,117.20 L469.89,117.27 L470.02,117.35 L470.15,117.42 L470.28,117.49 L470.40,117.56 L470.53,117.63 L470.66,117.69 L470.79,117.76 L470.91,117.82 L471.04,117.88 L471.17,117.94 L471.30,117.99 L471.42,118.04 L471.55,118.08 L471.68,118.13 L471.80,118.16 L471.93,118.20 L472.06,118.23 L472.19,118.25 L472.31,118.27 L472.44,118.29 L472.57,118.29 L472.70,118.30 L472.82,118.30 L472.95,118.29 L473.08,118.28 L473.21,118.27 L473.33,118.25 L473.46,118.22 L473.59,118.19 L473.71,118.16 L473.84,118.12 L473.97,118.08 L474.10,118.03 L474.22,117.98 L474.35,117.93 L474.48,117.87 L474.61,117.81 L474.73,117.75 L474.86,117.68 L474.99,117.62 L475.12,117.55 L475.24,117.48 L475.37,117.41 L475.50,117.34 L475.62,117.26 L475.75,117.19 L475.88,117.12 L476.01,117.05 L476.13,116.98 L476.26,116.91 L476.39,116.84 L476.52,116.78 L476.64,116.72 L476.77,116.66 L476.90,116.60 L477.03,116.54 L477.15,116.49 L477.28,116.45 L477.41,116.41 L477.54,116.37 L477.66,116.33 L477.79,116.30 L477.92,116.28 L478.04,116.26 L478.17,116.24 L478.30,116.23 L478.43,116.23 L478.55,116.23 L478.68,116.23 L478.81,116.24 L478.94,116.26 L479.06,116.27 L479.19,116.30 L479.32,116.33 L479.45,116.36 L479.57,116.40 L479.70,116.44 L479.83,116.49 L479.95,116.54 L480.08,116.59 L480.21,116.65 L480.34,116.71 L480.46,116.77 L480.59,116.83 L480.72,116.90 L480.85,116.97 L480.97,117.04 L481.10,117.11 L481.23,117.18 L481.36,117.25 L481.48,117.32 L481.61,117.40 L481.74,117.47 L481.86,117.54 L481.99,117.61 L482.12,117.67 L482.25,117.74 L482.37,117.80 L482.50,117.86 L482.63,117.92 L482.76,117.97 L482.88,118.02 L483.01,118.07 L483.14,118.11 L483.27,118.15 L483.39,118.19 L483.52,118.22 L483.65,118.24 L483.78,118.27 L483.90,118.28 L484.03,118.29 L484.16,118.30 L484.28,118.30 L484.41,118.30 L484.54,118.29 L484.67,118.27 L484.79,118.25 L484.92,118.23 L485.05,118.20 L485.18,118.17 L485.30,118.13 L485.43,118.09 L485.56,118.05 L485.69,118.00 L485.81,117.94 L485.94,117.89 L486.07,117.83 L486.19,117.77 L486.32,117.70 L486.45,117.64 L486.58,117.57 L486.70,117.50 L486.83,117.43 L486.96,117.36 L487.09,117.29 L487.21,117.21 L487.34,117.14 L487.47,117.07 L487.60,117.00 L487.72,116.93 L487.85,116.86 L487.98,116.80 L488.11,116.73 L488.23,116.67 L488.36,116.62 L488.49,116.56 L488.61,116.51 L488.74,116.46 L488.87,116.42 L489.00,116.38 L489.12,116.34 L489.25,116.31 L489.38,116.29 L489.51,116.26 L489.63,116.25 L489.76,116.23 L489.89,116.23 L490.02,116.23 L490.14,116.23 L490.27,116.24 L490.40,116.25 L490.52,116.27 L490.65,116.29 L490.78,116.32 L490.91,116.35 L491.03,116.39 L491.16,116.43 L491.29,116.47 L491.42,116.52 L491.54,116.57 L491.67,116.63 L491.80,116.69 L491.93,116.75 L492.05,116.81 L492.18,116.88 L492.31,116.95 L492.43,117.02 L492.56,117.09 L492.69,117.16 L492.82,117.23 L492.94,117.30 L493.07,117.37 L493.20,117.45 L493.33,117.52 L493.45,117.59 L493.58,117.65 L493.71,117.72 L493.84,117.78 L493.96,117.84 L494.09,117.90 L494.22,117.96 L494.35,118.01 L494.47,118.06 L494.60,118.10 L494.73,118.14 L494.85,118.18 L494.98,118.21 L495.11,118.24 L495.24,118.26 L495.36,118.28 L495.49,118.29 L495.62,118.30 L495.75,118.30 L495.87,118.30 L496.00,118.29 L496.13,118.28 L496.26,118.26 L496.38,118.24 L496.51,118.21 L496.64,118.18 L496.76,118.14 L496.89,118.10 L497.02,118.06 L497.15,118.01 L497.27,117.96 L497.40,117.91 L497.53,117.85 L497.66,117.79 L497.78,117.72 L497.91,117.66 L498.04,117.59 L498.17,117.52 L498.29,117.45 L498.42,117.38 L498.55,117.31 L498.67,117.24 L498.80,117.16 L498.93,117.09 L499.06,117.02 L499.18,116.95 L499.31,116.88 L499.44,116.82 L499.57,116.75 L499.69,116.69 L499.82,116.63 L499.95,116.58 L500.08,116.52 L500.20,116.48 L500.33,116.43 L500.46,116.39 L500.59,116.35 L500.71,116.32 L500.84,116.29 L500.97,116.27 L501.09,116.25 L501.22,116.24 L501.35,116.23 L501.48,116.23 L501.60,116.23 L501.73,116.23 L501.86,116.25 L501.99,116.26 L502.11,116.28 L502.24,116.31 L502.37,116.34 L502.50,116.38 L502.62,116.41 L502.75,116.46 L502.88,116.51 L503.00,116.56 L503.13,116.61 L503.26,116.67 L503.39,116.73 L503.51,116.79 L503.64,116.86 L503.77,116.93 L503.90,116.99 L504.02,117.06 L504.15,117.14 L504.28,117.21 L504.41,117.28 L504.53,117.35 L504.66,117.42 L504.79,117.49 L504.92,117.56 L505.04,117.63 L505.17,117.70 L505.30,117.76 L505.42,117.83 L505.55,117.88 L505.68,117.94 L505.81,117.99 L505.93,118.04 L506.06,118.09 L506.19,118.13 L506.32,118.17 L506.44,118.20 L506.57,118.23 L506.70,118.25 L506.83,118.27 L506.95,118.29 L507.08,118.30 L507.21,118.30 L507.33,118.30 L507.46,118.29 L507.59,118.28 L507.72,118.27 L507.84,118.25 L507.97,118.22 L508.10,118.19 L508.23,118.16 L508.35,118.12 L508.48,118.07 L508.61,118.03 L508.74,117.98 L508.86,117.92 L508.99,117.87 L509.12,117.81 L509.24,117.74 L509.37,117.68 L509.50,117.61 L509.63,117.54 L509.75,117.47 L509.88,117.40 L510.01,117.33 L510.14,117.26 L510.26,117.18 L510.39,117.11 L510.52,117.04 L510.65,116.97 L510.77,116.90 L510.90,116.84 L511.03,116.77 L511.16,116.71 L511.28,116.65 L511.41,116.59 L511.54,116.54 L511.66,116.49 L511.79,116.44 L511.92,116.40 L512.05,116.36 L512.17,116.33 L512.30,116.30 L512.43,116.28 L512.56,116.26 L512.68,116.24 L512.81,116.23 L512.94,116.23 L513.07,116.23 L513.19,116.23 L513.32,116.24 L513.45,116.26 L513.57,116.28 L513.70,116.30 L513.83,116.33 L513.96,116.36 L514.08,116.40 L514.21,116.44 L514.34,116.49 L514.47,116.54 L514.59,116.59 L514.72,116.65 L514.85,116.71 L514.98,116.77 L515.10,116.84 L515.23,116.90 L515.36,116.97 L515.48,117.04 L515.61,117.11 L515.74,117.19 L515.87,117.26 L515.99,117.33 L516.12,117.40 L516.25,117.47 L516.38,117.54 L516.50,117.61 L516.63,117.68 L516.76,117.74 L516.89,117.81 L517.01,117.87 L517.14,117.92 L517.27,117.98 L517.40,118.03 L517.52,118.08 L517.65,118.12 L517.78,118.16 L517.90,118.19 L518.03,118.22 L518.16,118.25 L518.29,118.27 L518.41,118.28 L518.54,118.29 L518.67,118.30 L518.80,118.30 L518.92,118.30 L519.05,118.29 L519.18,118.27 L519.31,118.25 L519.43,118.23 L519.56,118.20 L519.69,118.17 L519.81,118.13 L519.94,118.09 L520.07,118.04 L520.20,117.99 L520.32,117.94 L520.45,117.88 L520.58,117.82 L520.71,117.76 L520.83,117.70 L520.96,117.63 L521.09,117.56 L521.22,117.49 L521.34,117.42 L521.47,117.35 L521.60,117.28 L521.73,117.21 L521.85,117.13 L521.98,117.06 L522.11,116.99 L522.23,116.92 L522.36,116.86 L522.49,116.79 L522.62,116.73 L522.74,116.67 L522.87,116.61 L523.00,116.56 L523.13,116.51 L523.25,116.46 L523.38,116.41 L523.51,116.37 L523.64,116.34 L523.76,116.31 L523.89,116.28 L524.02,116.26 L524.14,116.25 L524.27,116.23 L524.40,116.23 L524.53,116.23 L524.65,116.23 L524.78,116.24 L524.91,116.25 L525.04,116.27 L525.16,116.29 L525.29,116.32 L525.42,116.35 L525.55,116.39 L525.67,116.43 L525.80,116.48 L525.93,116.53 L526.05,116.58 L526.18,116.63 L526.31,116.69 L526.44,116.75 L526.56,116.82 L526.69,116.88 L526.82,116.95 L526.95,117.02 L527.07,117.09 L527.20,117.16 L527.33,117.24 L527.46,117.31 L527.58,117.38 L527.71,117.45 L527.84,117.52 L527.97,117.59 L528.09,117.66 L528.22,117.72 L528.35,117.79 L528.47,117.85 L528.60,117.91 L528.73,117.96 L528.86,118.01 L528.98,118.06 L529.11,118.11 L529.24,118.15 L529.37,118.18 L529.49,118.21 L529.62,118.24 L529.75,118.26 L529.88,118.28 L530.00,118.29 L530.13,118.30 L530.26,118.30 L530.38,118.30 L530.51,118.29 L530.64,118.28 L530.77,118.26 L530.89,118.24 L531.02,118.21 L531.15,118.18 L531.28,118.14 L531.40,118.10 L531.53,118.06 L531.66,118.01 L531.79,117.96 L531.91,117.90 L532.04,117.84 L532.17,117.78 L532.29,117.72 L532.42,117.65 L532.55,117.58 L532.68,117.51 L532.80,117.44 L532.93,117.37 L533.06,117.30 L533.19,117.23 L533.31,117.16 L533.44,117.09 L533.57,117.01 L533.70,116.95 L533.82,116.88 L533.95,116.81 L534.08,116.75 L534.21,116.69 L534.33,116.63 L534.46,116.57 L534.59,116.52 L534.71,116.47 L534.84,116.43 L534.97,116.39 L535.10,116.35 L535.22,116.32 L535.35,116.29 L535.48,116.27 L535.61,116.25 L535.73,116.24 L535.86,116.23 L535.99,116.23 L536.12,116.23 L536.24,116.24 L536.37,116.25 L536.50,116.26 L536.62,116.29 L536.75,116.31 L536.88,116.34 L537.01,116.38 L537.13,116.42 L537.26,116.46 L537.39,116.51 L537.52,116.56 L537.64,116.62 L537.77,116.67 L537.90,116.74 L538.03,116.80 L538.15,116.86 L538.28,116.93 L538.41,117.00 L538.54,117.07 L538.66,117.14 L538.79,117.21 L538.92,117.29 L539.04,117.36 L539.17,117.43 L539.30,117.50 L539.43,117.57 L539.55,117.64 L539.68,117.70 L539.81,117.77 L539.94,117.83 L540.06,117.89 L540.19,117.95 L540.32,118.00 L540.45,118.05 L540.57,118.09 L540.70,118.13" fill="none" stroke="#00ff00" stroke-width="1.35" stroke-linejoin="round"/>
</g>
<text x="311.60" y="131.10" font-size="8.2" text-anchor="middle">0</text>
<text x="368.88" y="131.10" font-size="8.2" text-anchor="middle">0.05</text>
<text x="426.15" y="131.10" font-size="8.2" text-anchor="middle">0.1</text>
<text x="483.43" y="131.10" font-size="8.2" text-anchor="middle">0.15</text>
<text x="540.70" y="131.10" font-size="8.2" text-anchor="middle">0.2</text>
<text x="307.60" y="121.60" font-size="8.2" text-anchor="end">0</text>
<text x="307.60" y="95.67" font-size="8.2" text-anchor="end">1</text>
<text x="307.60" y="69.75" font-size="8.2" text-anchor="end">2</text>
<text x="307.60" y="43.82" font-size="8.2" text-anchor="end">3</text>
<text x="307.60" y="17.90" font-size="8.2" text-anchor="end">4</text>
<text x="426.80" y="143.00" font-size="9.1" text-anchor="middle">Time (s)</text>
<text x="425.90" y="155.50" font-size="9.0" text-anchor="middle">(b)</text>
<text x="298.00" y="67.00" font-size="8.9" text-anchor="middle" transform="rotate(-90 298.00 67.00)">W-Index</text>
<text font-size="8.2"><tspan x="312.0" y="13.6">×</tspan><tspan x="318.6" y="12.8">10</tspan><tspan x="327.6" y="9.9" font-size="7">9</tspan></text>
<rect x="314.6" y="16.6" width="70.00" height="34.50" fill="#fff" stroke="#5a5a5a" stroke-width="1.0"/>
<path d="M317.9,23.6 L348.7,23.6" stroke="#0000ff" stroke-width="1.4" fill="none"/>
<text x="350.85" y="27.10" font-size="8.2" text-anchor="start">Phase A</text>
<path d="M317.9,34.1 L348.7,34.1" stroke="#ff0000" stroke-width="1.4" fill="none"/>
<text x="350.85" y="37.60" font-size="8.2" text-anchor="start">Phase B</text>
<path d="M317.9,44.8 L348.7,44.8" stroke="#00ff00" stroke-width="1.4" fill="none"/>
<text x="350.85" y="48.60" font-size="8.2" text-anchor="start">Phase C</text>
<rect x="37.1" y="160.9" width="242.70" height="110.60" fill="none" stroke="#5a5a5a" stroke-width="1.1"/>
<path d="M97.78,271.5 v-2.5 M97.78,160.9 v2.5 M158.45,271.5 v-2.5 M158.45,160.9 v2.5 M219.12,271.5 v-2.5 M219.12,160.9 v2.5 M37.1,234.63 h2.5 M279.8,234.63 h-2.5 M37.1,197.77 h2.5 M279.8,197.77 h-2.5 " fill="none" stroke="#5a5a5a" stroke-width="0.7"/>
<g clip-path="url(#cc)">
<path d="M36.3,268.92 L279.8,268.92" stroke="#33ff33" stroke-width="1.6" stroke-dasharray="6.3 3.55" fill="none"/>
<path d="M37.10,235.37 L37.37,234.87 L37.64,234.50 L37.91,234.25 L38.18,234.13 L38.45,234.15 L38.72,234.36 L38.99,234.68 L39.26,235.06 L39.53,235.41 L39.80,235.74 L40.07,236.10 L40.34,236.48 L40.61,236.88 L40.88,237.29 L41.15,237.70 L41.42,238.12 L41.69,238.55 L41.96,238.97 L42.23,239.39 L42.50,239.83 L42.77,240.27 L43.04,240.72 L43.31,241.17 L43.58,241.63 L43.85,242.09 L44.12,242.55 L44.39,243.02 L44.66,243.49 L44.93,243.95 L45.20,244.41 L45.47,244.87 L45.74,245.33 L46.01,245.77 L46.28,246.22 L46.55,246.67 L46.82,247.12 L47.09,247.57 L47.36,248.02 L47.63,248.47 L47.90,248.92 L48.17,249.37 L48.44,249.81 L48.71,250.25 L48.98,250.68 L49.25,251.11 L49.52,251.53 L49.79,251.94 L50.06,252.35 L50.33,252.75 L50.60,253.16 L50.87,253.57 L51.14,253.97 L51.41,254.37 L51.68,254.76 L51.95,255.15 L52.22,255.53 L52.49,255.91 L52.76,256.27 L53.03,256.63 L53.30,256.98 L53.57,257.32 L53.84,257.64 L54.11,257.95 L54.38,258.26 L54.65,258.56 L54.92,258.85 L55.19,259.14 L55.46,259.42 L55.73,259.69 L56.00,259.96 L56.27,260.23 L56.54,260.48 L56.81,260.74 L57.08,260.98 L57.35,261.22 L57.62,261.45 L57.89,261.68 L58.16,261.91 L58.43,262.13 L58.70,262.35 L58.97,262.57 L59.24,262.78 L59.51,262.99 L59.78,263.20 L60.05,263.40 L60.32,263.59 L60.59,263.78 L60.86,263.96 L61.13,264.13 L61.40,264.29 L61.67,264.44 L61.94,264.59 L62.21,264.73 L62.48,264.86 L62.75,264.99 L63.02,265.11 L63.29,265.24 L63.56,265.35 L63.83,265.47 L64.10,265.58 L64.37,265.68 L64.64,265.78 L64.91,265.88 L65.18,265.97 L65.45,266.05 L65.72,266.14 L65.99,266.22 L66.26,266.29 L66.53,266.37 L66.80,266.44 L67.07,266.51 L67.34,266.58 L67.61,266.64 L67.88,266.70 L68.15,266.76 L68.42,266.82 L68.69,266.87 L68.96,266.93 L69.23,266.97 L69.50,267.02 L69.77,267.06 L70.04,267.09 L70.31,267.13 L70.58,267.17 L70.85,267.20 L71.12,267.23 L71.39,267.27 L71.66,267.30 L71.93,267.33 L72.20,267.36 L72.47,267.39 L72.74,267.41 L73.01,267.44 L73.28,267.47 L73.55,267.50 L73.82,267.52 L74.09,267.54 L74.36,267.57 L74.63,267.59 L74.90,267.61 L75.17,267.63 L75.44,267.66 L75.71,267.68 L75.98,267.69 L76.25,267.71 L76.52,267.73 L76.79,267.75 L77.06,267.77 L77.33,267.78 L77.59,267.80 L77.86,267.81 L78.13,267.83 L78.40,267.84 L78.67,267.85 L78.94,267.87 L79.21,267.88 L79.48,267.90 L79.75,267.91 L80.02,267.92 L80.29,267.94 L80.56,267.95 L80.83,267.96 L81.10,267.97 L81.37,267.98 L81.64,268.00 L81.91,268.01 L82.18,268.02 L82.45,268.03 L82.72,268.04 L82.99,268.05 L83.26,268.06 L83.53,268.06 L83.80,268.07 L84.07,268.08 L84.34,268.08 L84.61,268.09 L84.88,268.10 L85.15,268.10 L85.42,268.10 L85.69,268.11 L85.96,268.11 L86.23,268.11 L86.50,268.11 L86.77,268.12 L87.04,268.12 L87.31,268.12 L87.58,268.12 L87.85,268.12 L88.12,268.13 L88.39,268.13 L88.66,268.13 L88.93,268.13 L89.20,268.13 L89.47,268.14 L89.74,268.14 L90.01,268.14 L90.28,268.14 L90.55,268.14 L90.82,268.14 L91.09,268.14 L91.36,268.14 L91.63,268.14 L91.90,268.14 L92.17,268.14 L92.44,268.14 L92.71,268.15 L92.98,268.15 L93.25,268.14 L93.52,268.14 L93.79,268.14 L94.06,268.14 L94.33,268.14 L94.60,268.14 L94.87,268.14 L95.14,268.14 L95.41,268.13 L95.68,268.13 L95.95,268.13 L96.22,268.12 L96.49,268.12 L96.76,268.12 L97.03,268.11 L97.30,268.11 L97.57,268.10 L97.84,268.10 L98.11,268.10 L98.38,268.09 L98.65,268.09 L98.92,268.08 L99.19,268.07 L99.46,268.07 L99.73,268.06 L100.00,268.06 L100.27,268.05 L100.54,268.05 L100.81,268.04 L101.08,268.03 L101.35,268.02 L101.62,268.02 L101.89,268.00 L102.16,267.99 L102.43,267.98 L102.70,267.96 L102.97,267.94 L103.24,267.93 L103.51,267.91 L103.78,267.89 L104.05,267.86 L104.32,267.84 L104.59,267.82 L104.86,267.79 L105.13,267.77 L105.40,267.74 L105.67,267.72 L105.94,267.69 L106.21,267.66 L106.48,267.63 L106.75,267.60 L107.02,267.57 L107.29,267.55 L107.56,267.52 L107.83,267.49 L108.10,267.46 L108.37,267.43 L108.64,267.40 L108.91,267.37 L109.18,267.34 L109.45,267.31 L109.72,267.28 L109.99,267.25 L110.26,267.21 L110.53,267.18 L110.80,267.15 L111.07,267.11 L111.34,267.07 L111.61,267.04 L111.88,267.00 L112.15,266.96 L112.42,266.92 L112.69,266.88 L112.96,266.84 L113.23,266.80 L113.50,266.76 L113.77,266.72 L114.04,266.67 L114.31,266.63 L114.58,266.59 L114.85,266.54 L115.12,266.50 L115.39,266.45 L115.66,266.41 L115.93,266.36 L116.20,266.31 L116.47,266.27 L116.74,266.22 L117.01,266.17 L117.28,266.12 L117.55,266.08 L117.82,266.03 L118.09,265.98 L118.36,265.93 L118.63,265.88 L118.90,265.83 L119.17,265.77 L119.44,265.72 L119.71,265.67 L119.98,265.62 L120.25,265.56 L120.52,265.50 L120.79,265.45 L121.06,265.39 L121.33,265.33 L121.60,265.27 L121.87,265.21 L122.14,265.15 L122.41,265.08 L122.68,265.02 L122.95,264.95 L123.22,264.88 L123.49,264.81 L123.76,264.74 L124.03,264.67 L124.30,264.59 L124.57,264.52 L124.84,264.44 L125.11,264.36 L125.38,264.27 L125.65,264.19 L125.92,264.09 L126.19,264.00 L126.46,263.90 L126.73,263.80 L127.00,263.70 L127.27,263.59 L127.54,263.48 L127.81,263.37 L128.08,263.25 L128.35,263.13 L128.62,263.01 L128.89,262.89 L129.16,262.77 L129.43,262.64 L129.70,262.51 L129.97,262.38 L130.24,262.25 L130.51,262.12 L130.78,261.98 L131.05,261.84 L131.32,261.71 L131.59,261.57 L131.86,261.43 L132.13,261.29 L132.40,261.15 L132.67,261.00 L132.94,260.86 L133.21,260.72 L133.48,260.57 L133.75,260.42 L134.02,260.26 L134.29,260.10 L134.56,259.94 L134.83,259.77 L135.10,259.60 L135.37,259.43 L135.64,259.25 L135.91,259.07 L136.18,258.89 L136.45,258.70 L136.72,258.51 L136.99,258.31 L137.26,258.11 L137.53,257.90 L137.80,257.69 L138.07,257.47 L138.34,257.25 L138.61,257.02 L138.88,256.79 L139.15,256.55 L139.42,256.31 L139.69,256.06 L139.96,255.80 L140.23,255.54 L140.50,255.28 L140.77,255.01 L141.04,254.74 L141.31,254.46 L141.58,254.18 L141.85,253.89 L142.12,253.60 L142.39,253.30 L142.66,253.00 L142.93,252.69 L143.20,252.37 L143.47,252.05 L143.74,251.72 L144.01,251.38 L144.28,251.04 L144.55,250.69 L144.82,250.33 L145.09,249.96 L145.36,249.59 L145.63,249.20 L145.90,248.80 L146.17,248.38 L146.44,247.95 L146.71,247.51 L146.98,247.05 L147.25,246.58 L147.52,246.10 L147.79,245.61 L148.06,245.12 L148.33,244.62 L148.60,244.11 L148.87,243.59 L149.14,243.07 L149.41,242.55 L149.68,242.03 L149.95,241.50 L150.22,240.98 L150.49,240.46 L150.76,239.93 L151.03,239.42 L151.30,238.90 L151.57,238.39 L151.84,237.89 L152.11,237.39 L152.38,236.89 L152.65,236.38 L152.92,235.87 L153.19,235.36 L153.46,234.85 L153.73,234.33 L154.00,233.82 L154.27,233.30 L154.54,232.78 L154.81,232.26 L155.08,231.75 L155.35,231.23 L155.62,230.72 L155.89,230.21 L156.16,229.70 L156.43,229.20 L156.70,228.70 L156.97,228.21 L157.24,227.72 L157.51,227.24 L157.78,226.77 L158.05,226.30 L158.32,225.83 L158.58,225.37 L158.85,224.91 L159.12,224.45 L159.39,223.99 L159.66,223.54 L159.93,223.09 L160.20,222.64 L160.47,222.19 L160.74,221.75 L161.01,221.31 L161.28,220.87 L161.55,220.44 L161.82,220.02 L162.09,219.60 L162.36,219.18 L162.63,218.77 L162.90,218.37 L163.17,217.97 L163.44,217.58 L163.71,217.19 L163.98,216.81 L164.25,216.44 L164.52,216.07 L164.79,215.70 L165.06,215.34 L165.33,214.98 L165.60,214.62 L165.87,214.27 L166.14,213.92 L166.41,213.58 L166.68,213.24 L166.95,212.90 L167.22,212.57 L167.49,212.24 L167.76,211.92 L168.03,211.60 L168.30,211.29 L168.57,210.98 L168.84,210.67 L169.11,210.37 L169.38,210.07 L169.65,209.78 L169.92,209.50 L170.19,209.21 L170.46,208.93 L170.73,208.66 L171.00,208.38 L171.27,208.11 L171.54,207.83 L171.81,207.57 L172.08,207.30 L172.35,207.04 L172.62,206.78 L172.89,206.53 L173.16,206.28 L173.43,206.03 L173.70,205.79 L173.97,205.56 L174.24,205.33 L174.51,205.10 L174.78,204.88 L175.05,204.67 L175.32,204.46 L175.59,204.26 L175.86,204.06 L176.13,203.87 L176.40,203.68 L176.67,203.50 L176.94,203.31 L177.21,203.13 L177.48,202.96 L177.75,202.78 L178.02,202.61 L178.29,202.44 L178.56,202.28 L178.83,202.12 L179.10,201.96 L179.37,201.81 L179.64,201.66 L179.91,201.51 L180.18,201.37 L180.45,201.23 L180.72,201.10 L180.99,200.97 L181.26,200.84 L181.53,200.72 L181.80,200.61 L182.07,200.50 L182.34,200.39 L182.61,200.28 L182.88,200.18 L183.15,200.07 L183.42,199.97 L183.69,199.87 L183.96,199.77 L184.23,199.68 L184.50,199.59 L184.77,199.49 L185.04,199.41 L185.31,199.32 L185.58,199.24 L185.85,199.16 L186.12,199.08 L186.39,199.01 L186.66,198.94 L186.93,198.87 L187.20,198.80 L187.47,198.74 L187.74,198.68 L188.01,198.63 L188.28,198.58 L188.55,198.52 L188.82,198.47 L189.09,198.42 L189.36,198.37 L189.63,198.33 L189.90,198.28 L190.17,198.24 L190.44,198.19 L190.71,198.15 L190.98,198.11 L191.25,198.07 L191.52,198.03 L191.79,198.00 L192.06,197.96 L192.33,197.93 L192.60,197.90 L192.87,197.87 L193.14,197.84 L193.41,197.81 L193.68,197.79 L193.95,197.76 L194.22,197.74 L194.49,197.72 L194.76,197.69 L195.03,197.67 L195.30,197.65 L195.57,197.63 L195.84,197.61 L196.11,197.59 L196.38,197.57 L196.65,197.55 L196.92,197.53 L197.19,197.52 L197.46,197.50 L197.73,197.49 L198.00,197.47 L198.27,197.46 L198.54,197.45 L198.81,197.43 L199.08,197.42 L199.35,197.41 L199.62,197.41 L199.89,197.40 L200.16,197.39 L200.43,197.39 L200.70,197.38 L200.97,197.37 L201.24,197.37 L201.51,197.36 L201.78,197.36 L202.05,197.35 L202.32,197.35 L202.59,197.34 L202.86,197.34 L203.13,197.33 L203.40,197.33 L203.67,197.33 L203.94,197.33 L204.21,197.32 L204.48,197.32 L204.75,197.32 L205.02,197.32 L205.29,197.32 L205.56,197.32 L205.83,197.32 L206.10,197.32 L206.37,197.32 L206.64,197.32 L206.91,197.32 L207.18,197.32 L207.45,197.32 L207.72,197.32 L207.99,197.32 L208.26,197.32 L208.53,197.32 L208.80,197.32 L209.07,197.32 L209.34,197.32 L209.61,197.32 L209.88,197.32 L210.15,197.32 L210.42,197.32 L210.69,197.32 L210.96,197.32 L211.23,197.32 L211.50,197.32 L211.77,197.32 L212.04,197.32 L212.31,197.32 L212.58,197.32 L212.85,197.32 L213.12,197.32 L213.39,197.32 L213.66,197.32 L213.93,197.32 L214.20,197.32 L214.47,197.33 L214.74,197.33 L215.01,197.33 L215.28,197.33 L215.55,197.34 L215.82,197.34 L216.09,197.35 L216.36,197.36 L216.63,197.37 L216.90,197.38 L217.17,197.39 L217.44,197.40 L217.71,197.41 L217.98,197.42 L218.25,197.43 L218.52,197.44 L218.79,197.45 L219.06,197.47 L219.33,197.48 L219.60,197.49 L219.87,197.51 L220.14,197.52 L220.41,197.53 L220.68,197.55 L220.95,197.56 L221.22,197.57 L221.49,197.59 L221.76,197.60 L222.03,197.62 L222.30,197.63 L222.57,197.64 L222.84,197.65 L223.11,197.67 L223.38,197.68 L223.65,197.69 L223.92,197.70 L224.19,197.71 L224.46,197.72 L224.73,197.73 L225.00,197.74 L225.27,197.76 L225.54,197.77 L225.81,197.78 L226.08,197.79 L226.35,197.80 L226.62,197.81 L226.89,197.82 L227.16,197.83 L227.43,197.84 L227.70,197.85 L227.97,197.86 L228.24,197.87 L228.51,197.88 L228.78,197.89 L229.05,197.90 L229.32,197.91 L229.59,197.93 L229.86,197.94 L230.13,197.95 L230.40,197.96 L230.67,197.98 L230.94,197.99 L231.21,198.01 L231.48,198.02 L231.75,198.04 L232.02,198.05 L232.29,198.07 L232.56,198.09 L232.83,198.10 L233.10,198.12 L233.37,198.14 L233.64,198.16 L233.91,198.18 L234.18,198.21 L234.45,198.23 L234.72,198.26 L234.99,198.29 L235.26,198.32 L235.53,198.35 L235.80,198.38 L236.07,198.42 L236.34,198.45 L236.61,198.49 L236.88,198.53 L237.15,198.57 L237.42,198.61 L237.69,198.65 L237.96,198.70 L238.23,198.74 L238.50,198.78 L238.77,198.83 L239.04,198.88 L239.31,198.92 L239.57,198.97 L239.84,199.02 L240.11,199.07 L240.38,199.12 L240.65,199.17 L240.92,199.22 L241.19,199.27 L241.46,199.33 L241.73,199.38 L242.00,199.43 L242.27,199.49 L242.54,199.54 L242.81,199.59 L243.08,199.65 L243.35,199.70 L243.62,199.76 L243.89,199.82 L244.16,199.88 L244.43,199.94 L244.70,200.01 L244.97,200.07 L245.24,200.14 L245.51,200.21 L245.78,200.29 L246.05,200.36 L246.32,200.44 L246.59,200.52 L246.86,200.60 L247.13,200.68 L247.40,200.77 L247.67,200.85 L247.94,200.95 L248.21,201.04 L248.48,201.15 L248.75,201.26 L249.02,201.37 L249.29,201.49 L249.56,201.61 L249.83,201.73 L250.10,201.86 L250.37,201.99 L250.64,202.12 L250.91,202.25 L251.18,202.39 L251.45,202.52 L251.72,202.66 L251.99,202.80 L252.26,202.93 L252.53,203.07 L252.80,203.21 L253.07,203.35 L253.34,203.49 L253.61,203.64 L253.88,203.79 L254.15,203.94 L254.42,204.09 L254.69,204.24 L254.96,204.40 L255.23,204.56 L255.50,204.72 L255.77,204.87 L256.04,205.03 L256.31,205.20 L256.58,205.36 L256.85,205.52 L257.12,205.68 L257.39,205.85 L257.66,206.01 L257.93,206.18 L258.20,206.34 L258.47,206.51 L258.74,206.68 L259.01,206.85 L259.28,207.02 L259.55,207.20 L259.82,207.37 L260.09,207.55 L260.36,207.72 L260.63,207.90 L260.90,208.08 L261.17,208.26 L261.44,208.45 L261.71,208.63 L261.98,208.81 L262.25,209.00 L262.52,209.19 L262.79,209.37 L263.06,209.56 L263.33,209.75 L263.60,209.94 L263.87,210.14 L264.14,210.33 L264.41,210.53 L264.68,210.72 L264.95,210.92 L265.22,211.13 L265.49,211.33 L265.76,211.54 L266.03,211.75 L266.30,211.96 L266.57,212.18 L266.84,212.40 L267.11,212.62 L267.38,212.85 L267.65,213.07 L267.92,213.30 L268.19,213.53 L268.46,213.76 L268.73,214.00 L269.00,214.24 L269.27,214.49 L269.54,214.73 L269.81,214.99 L270.08,215.24 L270.35,215.51 L270.62,215.77 L270.89,216.05 L271.16,216.32 L271.43,216.61 L271.70,216.90 L271.97,217.19 L272.24,217.49 L272.51,217.80 L272.78,218.13 L273.05,218.46 L273.32,218.82 L273.59,219.20 L273.86,219.60 L274.13,219.99 L274.40,220.45 L274.67,221.49 L274.94,225.59 L275.21,226.08 L275.48,220.57 L275.75,217.82 L276.02,217.92 L276.29,218.10 L276.56,218.31 L276.83,218.54 L277.10,218.82 L277.37,219.14 L277.64,219.51 L277.91,219.93 L278.18,220.40 L278.45,220.94 L278.72,221.66 L278.99,222.53 L279.26,223.52 L279.53,224.62 L279.80,225.79" fill="none" stroke="#0000ff" stroke-width="1.35" stroke-linejoin="round"/>
<path d="M37.10,246.73 L37.37,246.28 L37.64,245.94 L37.91,245.74 L38.18,245.70 L38.45,245.81 L38.72,246.01 L38.99,246.27 L39.26,246.54 L39.53,246.82 L39.80,247.15 L40.07,247.53 L40.34,247.94 L40.61,248.38 L40.88,248.82 L41.15,249.26 L41.42,249.70 L41.69,250.10 L41.96,250.47 L42.23,250.81 L42.50,251.15 L42.77,251.47 L43.04,251.78 L43.31,252.09 L43.58,252.39 L43.85,252.69 L44.12,252.99 L44.39,253.28 L44.66,253.57 L44.93,253.86 L45.20,254.15 L45.47,254.44 L45.74,254.74 L46.01,255.04 L46.28,255.34 L46.55,255.65 L46.82,255.96 L47.09,256.28 L47.36,256.59 L47.63,256.91 L47.90,257.22 L48.17,257.53 L48.44,257.83 L48.71,258.13 L48.98,258.42 L49.25,258.70 L49.52,258.97 L49.79,259.23 L50.06,259.48 L50.33,259.72 L50.60,259.96 L50.87,260.19 L51.14,260.42 L51.41,260.65 L51.68,260.87 L51.95,261.08 L52.22,261.29 L52.49,261.50 L52.76,261.70 L53.03,261.89 L53.30,262.09 L53.57,262.28 L53.84,262.46 L54.11,262.65 L54.38,262.83 L54.65,263.01 L54.92,263.19 L55.19,263.36 L55.46,263.53 L55.73,263.70 L56.00,263.87 L56.27,264.03 L56.54,264.18 L56.81,264.33 L57.08,264.48 L57.35,264.61 L57.62,264.74 L57.89,264.86 L58.16,264.97 L58.43,265.08 L58.70,265.18 L58.97,265.29 L59.24,265.38 L59.51,265.48 L59.78,265.57 L60.05,265.65 L60.32,265.74 L60.59,265.82 L60.86,265.90 L61.13,265.98 L61.40,266.05 L61.67,266.13 L61.94,266.20 L62.21,266.27 L62.48,266.34 L62.75,266.41 L63.02,266.48 L63.29,266.54 L63.56,266.61 L63.83,266.67 L64.10,266.73 L64.37,266.79 L64.64,266.84 L64.91,266.90 L65.18,266.95 L65.45,267.00 L65.72,267.05 L65.99,267.09 L66.26,267.13 L66.53,267.18 L66.80,267.22 L67.07,267.26 L67.34,267.29 L67.61,267.33 L67.88,267.37 L68.15,267.40 L68.42,267.44 L68.69,267.47 L68.96,267.50 L69.23,267.53 L69.50,267.55 L69.77,267.58 L70.04,267.60 L70.31,267.63 L70.58,267.65 L70.85,267.68 L71.12,267.70 L71.39,267.72 L71.66,267.75 L71.93,267.77 L72.20,267.79 L72.47,267.81 L72.74,267.84 L73.01,267.86 L73.28,267.88 L73.55,267.90 L73.82,267.92 L74.09,267.94 L74.36,267.95 L74.63,267.97 L74.90,267.99 L75.17,268.00 L75.44,268.02 L75.71,268.03 L75.98,268.05 L76.25,268.06 L76.52,268.07 L76.79,268.08 L77.06,268.09 L77.33,268.10 L77.59,268.10 L77.86,268.11 L78.13,268.11 L78.40,268.12 L78.67,268.12 L78.94,268.12 L79.21,268.13 L79.48,268.13 L79.75,268.14 L80.02,268.14 L80.29,268.14 L80.56,268.15 L80.83,268.15 L81.10,268.15 L81.37,268.16 L81.64,268.16 L81.91,268.16 L82.18,268.16 L82.45,268.17 L82.72,268.17 L82.99,268.17 L83.26,268.17 L83.53,268.17 L83.80,268.18 L84.07,268.18 L84.34,268.18 L84.61,268.18 L84.88,268.18 L85.15,268.18 L85.42,268.18 L85.69,268.18 L85.96,268.18 L86.23,268.18 L86.50,268.18 L86.77,268.18 L87.04,268.18 L87.31,268.18 L87.58,268.18 L87.85,268.18 L88.12,268.18 L88.39,268.18 L88.66,268.18 L88.93,268.18 L89.20,268.18 L89.47,268.18 L89.74,268.18 L90.01,268.18 L90.28,268.18 L90.55,268.18 L90.82,268.18 L91.09,268.18 L91.36,268.18 L91.63,268.18 L91.90,268.18 L92.17,268.18 L92.44,268.18 L92.71,268.18 L92.98,268.18 L93.25,268.18 L93.52,268.18 L93.79,268.18 L94.06,268.18 L94.33,268.18 L94.60,268.18 L94.87,268.18 L95.14,268.18 L95.41,268.17 L95.68,268.17 L95.95,268.17 L96.22,268.17 L96.49,268.16 L96.76,268.16 L97.03,268.16 L97.30,268.16 L97.57,268.15 L97.84,268.15 L98.11,268.15 L98.38,268.14 L98.65,268.14 L98.92,268.14 L99.19,268.13 L99.46,268.13 L99.73,268.13 L100.00,268.12 L100.27,268.12 L100.54,268.11 L100.81,268.11 L101.08,268.11 L101.35,268.10 L101.62,268.10 L101.89,268.09 L102.16,268.09 L102.43,268.08 L102.70,268.07 L102.97,268.07 L103.24,268.06 L103.51,268.05 L103.78,268.04 L104.05,268.03 L104.32,268.02 L104.59,268.01 L104.86,268.00 L105.13,267.99 L105.40,267.98 L105.67,267.97 L105.94,267.96 L106.21,267.95 L106.48,267.94 L106.75,267.92 L107.02,267.91 L107.29,267.90 L107.56,267.88 L107.83,267.87 L108.10,267.86 L108.37,267.84 L108.64,267.83 L108.91,267.81 L109.18,267.80 L109.45,267.78 L109.72,267.76 L109.99,267.74 L110.26,267.72 L110.53,267.70 L110.80,267.68 L111.07,267.66 L111.34,267.63 L111.61,267.61 L111.88,267.58 L112.15,267.55 L112.42,267.52 L112.69,267.50 L112.96,267.47 L113.23,267.44 L113.50,267.41 L113.77,267.38 L114.04,267.35 L114.31,267.31 L114.58,267.28 L114.85,267.25 L115.12,267.22 L115.39,267.18 L115.66,267.15 L115.93,267.12 L116.20,267.09 L116.47,267.05 L116.74,267.02 L117.01,266.99 L117.28,266.96 L117.55,266.92 L117.82,266.89 L118.09,266.86 L118.36,266.82 L118.63,266.79 L118.90,266.75 L119.17,266.72 L119.44,266.68 L119.71,266.64 L119.98,266.61 L120.25,266.57 L120.52,266.53 L120.79,266.49 L121.06,266.45 L121.33,266.41 L121.60,266.37 L121.87,266.33 L122.14,266.29 L122.41,266.25 L122.68,266.21 L122.95,266.16 L123.22,266.12 L123.49,266.07 L123.76,266.03 L124.03,265.98 L124.30,265.93 L124.57,265.88 L124.84,265.83 L125.11,265.78 L125.38,265.73 L125.65,265.68 L125.92,265.63 L126.19,265.57 L126.46,265.52 L126.73,265.46 L127.00,265.40 L127.27,265.34 L127.54,265.28 L127.81,265.22 L128.08,265.16 L128.35,265.09 L128.62,265.03 L128.89,264.96 L129.16,264.89 L129.43,264.83 L129.70,264.76 L129.97,264.68 L130.24,264.61 L130.51,264.54 L130.78,264.46 L131.05,264.39 L131.32,264.31 L131.59,264.23 L131.86,264.15 L132.13,264.07 L132.40,263.99 L132.67,263.90 L132.94,263.82 L133.21,263.73 L133.48,263.64 L133.75,263.54 L134.02,263.44 L134.29,263.33 L134.56,263.23 L134.83,263.11 L135.10,263.00 L135.37,262.89 L135.64,262.77 L135.91,262.65 L136.18,262.53 L136.45,262.41 L136.72,262.29 L136.99,262.17 L137.26,262.05 L137.53,261.93 L137.80,261.80 L138.07,261.68 L138.34,261.55 L138.61,261.42 L138.88,261.29 L139.15,261.15 L139.42,261.02 L139.69,260.88 L139.96,260.73 L140.23,260.59 L140.50,260.44 L140.77,260.29 L141.04,260.14 L141.31,259.99 L141.58,259.83 L141.85,259.68 L142.12,259.52 L142.39,259.36 L142.66,259.19 L142.93,259.02 L143.20,258.85 L143.47,258.68 L143.74,258.50 L144.01,258.31 L144.28,258.12 L144.55,257.93 L144.82,257.73 L145.09,257.52 L145.36,257.30 L145.63,257.08 L145.90,256.85 L146.17,256.60 L146.44,256.35 L146.71,256.08 L146.98,255.81 L147.25,255.53 L147.52,255.24 L147.79,254.94 L148.06,254.64 L148.33,254.33 L148.60,254.01 L148.87,253.69 L149.14,253.37 L149.41,253.05 L149.68,252.72 L149.95,252.39 L150.22,252.06 L150.49,251.73 L150.76,251.40 L151.03,251.07 L151.30,250.74 L151.57,250.41 L151.84,250.09 L152.11,249.77 L152.38,249.45 L152.65,249.12 L152.92,248.79 L153.19,248.45 L153.46,248.11 L153.73,247.77 L154.00,247.43 L154.27,247.08 L154.54,246.73 L154.81,246.39 L155.08,246.04 L155.35,245.69 L155.62,245.34 L155.89,245.00 L156.16,244.65 L156.43,244.31 L156.70,243.97 L156.97,243.63 L157.24,243.30 L157.51,242.97 L157.78,242.64 L158.05,242.32 L158.32,242.00 L158.58,241.68 L158.85,241.36 L159.12,241.04 L159.39,240.72 L159.66,240.40 L159.93,240.08 L160.20,239.76 L160.47,239.45 L160.74,239.13 L161.01,238.82 L161.28,238.51 L161.55,238.21 L161.82,237.91 L162.09,237.61 L162.36,237.32 L162.63,237.03 L162.90,236.75 L163.17,236.47 L163.44,236.20 L163.71,235.94 L163.98,235.68 L164.25,235.43 L164.52,235.18 L164.79,234.93 L165.06,234.69 L165.33,234.45 L165.60,234.22 L165.87,233.98 L166.14,233.75 L166.41,233.53 L166.68,233.30 L166.95,233.08 L167.22,232.86 L167.49,232.65 L167.76,232.44 L168.03,232.23 L168.30,232.02 L168.57,231.82 L168.84,231.62 L169.11,231.43 L169.38,231.23 L169.65,231.04 L169.92,230.85 L170.19,230.67 L170.46,230.48 L170.73,230.30 L171.00,230.11 L171.27,229.93 L171.54,229.75 L171.81,229.57 L172.08,229.40 L172.35,229.23 L172.62,229.05 L172.89,228.89 L173.16,228.72 L173.43,228.56 L173.70,228.40 L173.97,228.24 L174.24,228.09 L174.51,227.95 L174.78,227.80 L175.05,227.66 L175.32,227.53 L175.59,227.40 L175.86,227.28 L176.13,227.16 L176.40,227.04 L176.67,226.92 L176.94,226.81 L177.21,226.69 L177.48,226.58 L177.75,226.47 L178.02,226.37 L178.29,226.26 L178.56,226.16 L178.83,226.06 L179.10,225.96 L179.37,225.87 L179.64,225.78 L179.91,225.69 L180.18,225.60 L180.45,225.52 L180.72,225.44 L180.99,225.36 L181.26,225.29 L181.53,225.21 L181.80,225.15 L182.07,225.08 L182.34,225.02 L182.61,224.95 L182.88,224.89 L183.15,224.83 L183.42,224.77 L183.69,224.71 L183.96,224.66 L184.23,224.60 L184.50,224.55 L184.77,224.50 L185.04,224.45 L185.31,224.40 L185.58,224.35 L185.85,224.31 L186.12,224.26 L186.39,224.22 L186.66,224.18 L186.93,224.14 L187.20,224.10 L187.47,224.07 L187.74,224.03 L188.01,224.00 L188.28,223.97 L188.55,223.94 L188.82,223.91 L189.09,223.88 L189.36,223.85 L189.63,223.83 L189.90,223.80 L190.17,223.77 L190.44,223.75 L190.71,223.72 L190.98,223.70 L191.25,223.68 L191.52,223.66 L191.79,223.64 L192.06,223.62 L192.33,223.60 L192.60,223.58 L192.87,223.56 L193.14,223.54 L193.41,223.53 L193.68,223.51 L193.95,223.50 L194.22,223.48 L194.49,223.47 L194.76,223.46 L195.03,223.44 L195.30,223.43 L195.57,223.42 L195.84,223.41 L196.11,223.40 L196.38,223.39 L196.65,223.38 L196.92,223.37 L197.19,223.36 L197.46,223.35 L197.73,223.34 L198.00,223.33 L198.27,223.32 L198.54,223.31 L198.81,223.31 L199.08,223.30 L199.35,223.29 L199.62,223.28 L199.89,223.28 L200.16,223.27 L200.43,223.27 L200.70,223.26 L200.97,223.25 L201.24,223.25 L201.51,223.24 L201.78,223.24 L202.05,223.23 L202.32,223.23 L202.59,223.22 L202.86,223.22 L203.13,223.21 L203.40,223.21 L203.67,223.21 L203.94,223.21 L204.21,223.21 L204.48,223.20 L204.75,223.20 L205.02,223.20 L205.29,223.21 L205.56,223.21 L205.83,223.21 L206.10,223.21 L206.37,223.21 L206.64,223.21 L206.91,223.21 L207.18,223.21 L207.45,223.21 L207.72,223.21 L207.99,223.22 L208.26,223.22 L208.53,223.22 L208.80,223.22 L209.07,223.22 L209.34,223.23 L209.61,223.23 L209.88,223.23 L210.15,223.23 L210.42,223.24 L210.69,223.24 L210.96,223.24 L211.23,223.24 L211.50,223.25 L211.77,223.25 L212.04,223.25 L212.31,223.26 L212.58,223.26 L212.85,223.26 L213.12,223.27 L213.39,223.27 L213.66,223.27 L213.93,223.28 L214.20,223.28 L214.47,223.28 L214.74,223.29 L215.01,223.29 L215.28,223.30 L215.55,223.31 L215.82,223.31 L216.09,223.32 L216.36,223.33 L216.63,223.34 L216.90,223.35 L217.17,223.36 L217.44,223.37 L217.71,223.38 L217.98,223.39 L218.25,223.40 L218.52,223.41 L218.79,223.42 L219.06,223.43 L219.33,223.44 L219.60,223.46 L219.87,223.47 L220.14,223.48 L220.41,223.49 L220.68,223.51 L220.95,223.52 L221.22,223.53 L221.49,223.54 L221.76,223.56 L222.03,223.57 L222.30,223.58 L222.57,223.59 L222.84,223.61 L223.11,223.62 L223.38,223.63 L223.65,223.64 L223.92,223.66 L224.19,223.67 L224.46,223.68 L224.73,223.69 L225.00,223.70 L225.27,223.72 L225.54,223.73 L225.81,223.74 L226.08,223.75 L226.35,223.77 L226.62,223.78 L226.89,223.79 L227.16,223.80 L227.43,223.82 L227.70,223.83 L227.97,223.84 L228.24,223.85 L228.51,223.87 L228.78,223.88 L229.05,223.90 L229.32,223.91 L229.59,223.92 L229.86,223.94 L230.13,223.95 L230.40,223.97 L230.67,223.99 L230.94,224.00 L231.21,224.02 L231.48,224.04 L231.75,224.05 L232.02,224.07 L232.29,224.09 L232.56,224.11 L232.83,224.13 L233.10,224.15 L233.37,224.17 L233.64,224.19 L233.91,224.21 L234.18,224.24 L234.45,224.26 L234.72,224.29 L234.99,224.31 L235.26,224.34 L235.53,224.37 L235.80,224.40 L236.07,224.43 L236.34,224.46 L236.61,224.49 L236.88,224.53 L237.15,224.56 L237.42,224.60 L237.69,224.63 L237.96,224.67 L238.23,224.70 L238.50,224.74 L238.77,224.78 L239.04,224.82 L239.31,224.86 L239.57,224.90 L239.84,224.94 L240.11,224.98 L240.38,225.02 L240.65,225.06 L240.92,225.10 L241.19,225.14 L241.46,225.19 L241.73,225.23 L242.00,225.27 L242.27,225.32 L242.54,225.36 L242.81,225.40 L243.08,225.45 L243.35,225.49 L243.62,225.54 L243.89,225.59 L244.16,225.63 L244.43,225.68 L244.70,225.74 L244.97,225.79 L245.24,225.84 L245.51,225.90 L245.78,225.95 L246.05,226.01 L246.32,226.07 L246.59,226.12 L246.86,226.18 L247.13,226.24 L247.40,226.31 L247.67,226.37 L247.94,226.43 L248.21,226.50 L248.48,226.57 L248.75,226.64 L249.02,226.71 L249.29,226.78 L249.56,226.85 L249.83,226.93 L250.10,227.01 L250.37,227.09 L250.64,227.16 L250.91,227.25 L251.18,227.33 L251.45,227.41 L251.72,227.49 L251.99,227.58 L252.26,227.66 L252.53,227.74 L252.80,227.83 L253.07,227.92 L253.34,228.01 L253.61,228.10 L253.88,228.19 L254.15,228.28 L254.42,228.38 L254.69,228.47 L254.96,228.57 L255.23,228.67 L255.50,228.76 L255.77,228.86 L256.04,228.96 L256.31,229.06 L256.58,229.16 L256.85,229.27 L257.12,229.37 L257.39,229.47 L257.66,229.58 L257.93,229.68 L258.20,229.79 L258.47,229.90 L258.74,230.01 L259.01,230.12 L259.28,230.23 L259.55,230.34 L259.82,230.46 L260.09,230.57 L260.36,230.69 L260.63,230.80 L260.90,230.92 L261.17,231.03 L261.44,231.15 L261.71,231.27 L261.98,231.38 L262.25,231.50 L262.52,231.61 L262.79,231.73 L263.06,231.85 L263.33,231.96 L263.60,232.08 L263.87,232.20 L264.14,232.31 L264.41,232.43 L264.68,232.55 L264.95,232.67 L265.22,232.79 L265.49,232.92 L265.76,233.04 L266.03,233.16 L266.30,233.29 L266.57,233.42 L266.84,233.55 L267.11,233.68 L267.38,233.81 L267.65,233.95 L267.92,234.08 L268.19,234.22 L268.46,234.36 L268.73,234.50 L269.00,234.64 L269.27,234.79 L269.54,234.93 L269.81,235.07 L270.08,235.22 L270.35,235.36 L270.62,235.51 L270.89,235.65 L271.16,235.80 L271.43,235.94 L271.70,236.09 L271.97,236.22 L272.24,236.34 L272.51,236.46 L272.78,236.58 L273.05,236.71 L273.32,236.87 L273.59,237.04 L273.86,237.25 L274.13,237.51 L274.40,237.89 L274.67,238.65 L274.94,241.21 L275.21,241.51 L275.48,238.16 L275.75,236.48 L276.02,236.53 L276.29,236.62 L276.56,236.72 L276.83,236.83 L277.10,236.96 L277.37,237.11 L277.64,237.29 L277.91,237.51 L278.18,237.75 L278.45,238.07 L278.72,238.54 L278.99,239.17 L279.26,239.92 L279.53,240.75 L279.80,241.64" fill="none" stroke="#ff0000" stroke-width="1.35" stroke-linejoin="round"/>
</g>
<text x="37.10" y="284.00" font-size="8.2" text-anchor="middle">0</text>
<text x="97.78" y="284.00" font-size="8.2" text-anchor="middle">0.05</text>
<text x="158.45" y="284.00" font-size="8.2" text-anchor="middle">0.1</text>
<text x="219.12" y="284.00" font-size="8.2" text-anchor="middle">0.15</text>
<text x="279.80" y="284.00" font-size="8.2" text-anchor="middle">0.2</text>
<text x="33.50" y="275.20" font-size="8.2" text-anchor="end">0</text>
<text x="33.50" y="238.33" font-size="8.2" text-anchor="end">5</text>
<text x="33.50" y="201.47" font-size="8.2" text-anchor="end">10</text>
<text x="33.50" y="164.60" font-size="8.2" text-anchor="end">15</text>
<text x="159.05" y="297.10" font-size="9.1" text-anchor="middle">Time (s)</text>
<text x="158.30" y="309.40" font-size="9.0" text-anchor="middle">(c)</text>
<text x="19.20" y="216.60" font-size="9.05" text-anchor="middle" transform="rotate(-90 19.20 216.60)">S-Index</text>
<rect x="39.8" y="163.3" width="69.95" height="35.50" fill="#fff" stroke="#5a5a5a" stroke-width="1.0"/>
<path d="M42.76,170.4 L73.95,170.4" stroke="#0000ff" stroke-width="1.4" fill="none"/>
<text x="76.20" y="173.70" font-size="8.2" text-anchor="start">Phase A</text>
<path d="M42.76,181.3 L73.95,181.3" stroke="#ff0000" stroke-width="1.4" fill="none"/>
<text x="76.20" y="184.60" font-size="8.2" text-anchor="start">Phase B</text>
<path d="M42.76,192.3 L73.95,192.3" stroke="#33ff33" stroke-width="1.4" fill="none" stroke-dasharray="6.4 3.5"/>
<text x="76.20" y="195.30" font-size="8.2" text-anchor="start">Phase C</text>
<rect x="312.5" y="161.0" width="227.10" height="110.60" fill="none" stroke="#5a5a5a" stroke-width="1.1"/>
<path d="M369.27,271.6 v-2.5 M369.27,161.0 v2.5 M426.05,271.6 v-2.5 M426.05,161.0 v2.5 M482.83,271.6 v-2.5 M482.83,161.0 v2.5 M312.5,243.95 h2.5 M539.6,243.95 h-2.5 M312.5,216.30 h2.5 M539.6,216.30 h-2.5 M312.5,188.65 h2.5 M539.6,188.65 h-2.5 " fill="none" stroke="#5a5a5a" stroke-width="0.7"/>
<g clip-path="url(#cd)">
<path d="M312.50,271.22 L312.63,271.17 L312.75,271.11 L312.88,271.04 L313.00,270.97 L313.13,270.89 L313.26,270.81 L313.38,270.72 L313.51,270.62 L313.64,270.52 L313.76,270.42 L313.89,270.31 L314.01,270.21 L314.14,270.11 L314.27,270.01 L314.39,269.91 L314.52,269.83 L314.65,269.75 L314.77,269.68 L314.90,269.63 L315.02,269.59 L315.15,269.56 L315.28,269.55 L315.40,269.56 L315.53,269.58 L315.66,269.61 L315.78,269.66 L315.91,269.72 L316.03,269.80 L316.16,269.88 L316.29,269.97 L316.41,270.07 L316.54,270.17 L316.67,270.28 L316.79,270.38 L316.92,270.48 L317.04,270.58 L317.17,270.68 L317.30,270.77 L317.42,270.86 L317.55,270.94 L317.68,271.02 L317.80,271.08 L317.93,271.14 L318.05,271.19 L318.18,271.24 L318.31,271.28 L318.43,271.31 L318.56,271.34 L318.69,271.36 L318.81,271.37 L318.94,271.38 L319.06,271.39 L319.19,271.39 L319.32,271.38 L319.44,271.37 L319.57,271.36 L319.70,271.35 L319.82,271.32 L319.95,271.30 L320.07,271.27 L320.20,271.24 L320.33,271.21 L320.45,271.17 L320.58,271.13 L320.71,271.09 L320.83,271.05 L320.96,271.01 L321.08,270.98 L321.21,270.94 L321.34,270.91 L321.46,270.88 L321.59,270.86 L321.72,270.84 L321.84,270.83 L321.97,270.83 L322.09,270.83 L322.22,270.84 L322.35,270.85 L322.47,270.87 L322.60,270.89 L322.73,270.92 L322.85,270.96 L322.98,270.99 L323.10,271.03 L323.23,271.07 L323.36,271.10 L323.48,271.14 L323.61,271.17 L323.74,271.21 L323.86,271.24 L323.99,271.26 L324.11,271.28 L324.24,271.30 L324.37,271.31 L324.49,271.31 L324.62,271.31 L324.74,271.31 L324.87,271.30 L325.00,271.29 L325.12,271.27 L325.25,271.25 L325.38,271.22 L325.50,271.20 L325.63,271.17 L325.75,271.14 L325.88,271.11 L326.01,271.08 L326.13,271.05 L326.26,271.02 L326.39,271.00 L326.51,270.97 L326.64,270.96 L326.76,270.95 L326.89,270.94 L327.02,270.94 L327.14,270.94 L327.27,270.95 L327.40,270.96 L327.52,270.98 L327.65,271.00 L327.77,271.03 L327.90,271.06 L328.03,271.09 L328.15,271.12 L328.28,271.16 L328.41,271.19 L328.53,271.22 L328.66,271.25 L328.78,271.28 L328.91,271.31 L329.04,271.34 L329.16,271.36 L329.29,271.38 L329.42,271.40 L329.54,271.41 L329.67,271.43 L329.79,271.44 L329.92,271.45 L330.05,271.46 L330.17,271.46 L330.30,271.47 L330.43,271.47 L330.55,271.48 L330.68,271.48 L330.80,271.48 L330.93,271.48 L331.06,271.49 L331.18,271.49 L331.31,271.49 L331.44,271.49 L331.56,271.49 L331.69,271.49 L331.81,271.49 L331.94,271.49 L332.07,271.49 L332.19,271.49 L332.32,271.49 L332.45,271.49 L332.57,271.49 L332.70,271.49 L332.82,271.49 L332.95,271.49 L333.08,271.49 L333.20,271.49 L333.33,271.49 L333.46,271.49 L333.58,271.49 L333.71,271.49 L333.83,271.49 L333.96,271.49 L334.09,271.49 L334.21,271.49 L334.34,271.49 L334.47,271.49 L334.59,271.49 L334.72,271.49 L334.84,271.49 L334.97,271.49 L335.10,271.49 L335.22,271.49 L335.35,271.49 L335.48,271.49 L335.60,271.49 L335.73,271.49 L335.85,271.49 L335.98,271.49 L336.11,271.49 L336.23,271.49 L336.36,271.49 L336.48,271.49 L336.61,271.49 L336.74,271.49 L336.86,271.49 L336.99,271.49 L337.12,271.49 L337.24,271.49 L337.37,271.49 L337.49,271.49 L337.62,271.49 L337.75,271.49 L337.87,271.49 L338.00,271.49 L338.13,271.49 L338.25,271.49 L338.38,271.49 L338.50,271.49 L338.63,271.49 L338.76,271.49 L338.88,271.49 L339.01,271.49 L339.14,271.49 L339.26,271.49 L339.39,271.49 L339.51,271.49 L339.64,271.49 L339.77,271.49 L339.89,271.49 L340.02,271.49 L340.15,271.49 L340.27,271.49 L340.40,271.49 L340.52,271.49 L340.65,271.49 L340.78,271.49 L340.90,271.49 L341.03,271.49 L341.16,271.49 L341.28,271.49 L341.41,271.49 L341.53,271.49 L341.66,271.49 L341.79,271.49 L341.91,271.49 L342.04,271.49 L342.17,271.49 L342.29,271.49 L342.42,271.49 L342.54,271.49 L342.67,271.49 L342.80,271.49 L342.92,271.49 L343.05,271.49 L343.18,271.49 L343.30,271.49 L343.43,271.49 L343.55,271.49 L343.68,271.49 L343.81,271.49 L343.93,271.49 L344.06,271.49 L344.19,271.49 L344.31,271.49 L344.44,271.49 L344.56,271.49 L344.69,271.49 L344.82,271.49 L344.94,271.49 L345.07,271.49 L345.20,271.49 L345.32,271.49 L345.45,271.49 L345.57,271.49 L345.70,271.49 L345.83,271.49 L345.95,271.49 L346.08,271.49 L346.21,271.49 L346.33,271.49 L346.46,271.49 L346.58,271.49 L346.71,271.49 L346.84,271.49 L346.96,271.49 L347.09,271.49 L347.22,271.49 L347.34,271.49 L347.47,271.49 L347.59,271.49 L347.72,271.49 L347.85,271.49 L347.97,271.49 L348.10,271.49 L348.23,271.49 L348.35,271.49 L348.48,271.49 L348.60,271.49 L348.73,271.49 L348.86,271.49 L348.98,271.49 L349.11,271.49 L349.23,271.49 L349.36,271.49 L349.49,271.49 L349.61,271.49 L349.74,271.49 L349.87,271.49 L349.99,271.49 L350.12,271.49 L350.24,271.49 L350.37,271.49 L350.50,271.49 L350.62,271.49 L350.75,271.49 L350.88,271.49 L351.00,271.49 L351.13,271.49 L351.25,271.49 L351.38,271.49 L351.51,271.49 L351.63,271.49 L351.76,271.49 L351.89,271.49 L352.01,271.49 L352.14,271.49 L352.26,271.49 L352.39,271.49 L352.52,271.49 L352.64,271.49 L352.77,271.49 L352.90,271.49 L353.02,271.49 L353.15,271.49 L353.27,271.49 L353.40,271.49 L353.53,271.49 L353.65,271.49 L353.78,271.49 L353.91,271.49 L354.03,271.49 L354.16,271.49 L354.28,271.49 L354.41,271.49 L354.54,271.49 L354.66,271.49 L354.79,271.49 L354.92,271.49 L355.04,271.49 L355.17,271.49 L355.29,271.49 L355.42,271.49 L355.55,271.49 L355.67,271.49 L355.80,271.49 L355.93,271.49 L356.05,271.49 L356.18,271.49 L356.30,271.49 L356.43,271.49 L356.56,271.49 L356.68,271.49 L356.81,271.49 L356.94,271.49 L357.06,271.49 L357.19,271.49 L357.31,271.49 L357.44,271.49 L357.57,271.49 L357.69,271.49 L357.82,271.49 L357.95,271.49 L358.07,271.49 L358.20,271.49 L358.32,271.49 L358.45,271.49 L358.58,271.49 L358.70,271.49 L358.83,271.49 L358.96,271.49 L359.08,271.49 L359.21,271.49 L359.33,271.49 L359.46,271.49 L359.59,271.49 L359.71,271.49 L359.84,271.49 L359.97,271.49 L360.09,271.49 L360.22,271.49 L360.34,271.49 L360.47,271.49 L360.60,271.49 L360.72,271.49 L360.85,271.49 L360.97,271.49 L361.10,271.49 L361.23,271.49 L361.35,271.49 L361.48,271.49 L361.61,271.49 L361.73,271.49 L361.86,271.49 L361.98,271.49 L362.11,271.49 L362.24,271.49 L362.36,271.49 L362.49,271.49 L362.62,271.49 L362.74,271.49 L362.87,271.49 L362.99,271.49 L363.12,271.49 L363.25,271.49 L363.37,271.49 L363.50,271.49 L363.63,271.49 L363.75,271.49 L363.88,271.49 L364.00,271.49 L364.13,271.49 L364.26,271.49 L364.38,271.49 L364.51,271.49 L364.64,271.49 L364.76,271.49 L364.89,271.49 L365.01,271.49 L365.14,271.49 L365.27,271.49 L365.39,271.49 L365.52,271.49 L365.65,271.49 L365.77,271.49 L365.90,271.49 L366.02,271.49 L366.15,271.49 L366.28,271.49 L366.40,271.49 L366.53,271.49 L366.66,271.49 L366.78,271.49 L366.91,271.49 L367.03,271.49 L367.16,271.49 L367.29,271.49 L367.41,271.49 L367.54,271.49 L367.67,271.49 L367.79,271.49 L367.92,271.49 L368.04,271.49 L368.17,271.49 L368.30,271.49 L368.42,271.49 L368.55,271.49 L368.68,271.49 L368.80,271.49 L368.93,271.49 L369.05,271.49 L369.18,271.49 L369.31,271.49 L369.43,271.49 L369.56,271.49 L369.69,271.49 L369.81,271.49 L369.94,271.49 L370.06,271.49 L370.19,271.49 L370.32,271.49 L370.44,271.49 L370.57,271.49 L370.70,271.49 L370.82,271.49 L370.95,271.49 L371.07,271.49 L371.20,271.49 L371.33,271.49 L371.45,271.49 L371.58,271.49 L371.71,271.49 L371.83,271.49 L371.96,271.49 L372.08,271.49 L372.21,271.49 L372.34,271.49 L372.46,271.49 L372.59,271.49 L372.71,271.49 L372.84,271.49 L372.97,271.49 L373.09,271.49 L373.22,271.49 L373.35,271.49 L373.47,271.49 L373.60,271.49 L373.72,271.49 L373.85,271.49 L373.98,271.49 L374.10,271.49 L374.23,271.49 L374.36,271.49 L374.48,271.49 L374.61,271.49 L374.73,271.49 L374.86,271.49 L374.99,271.49 L375.11,271.49 L375.24,271.49 L375.37,271.49 L375.49,271.49 L375.62,271.49 L375.74,271.49 L375.87,271.49 L376.00,271.49 L376.12,271.49 L376.25,271.49 L376.38,271.49 L376.50,271.49 L376.63,271.49 L376.75,271.49 L376.88,271.49 L377.01,271.49 L377.13,271.49 L377.26,271.49 L377.39,271.49 L377.51,271.49 L377.64,271.49 L377.76,271.49 L377.89,271.49 L378.02,271.49 L378.14,271.49 L378.27,271.49 L378.40,271.49 L378.52,271.49 L378.65,271.49 L378.77,271.49 L378.90,271.49 L379.03,271.49 L379.15,271.49 L379.28,271.49 L379.41,271.49 L379.53,271.49 L379.66,271.49 L379.78,271.49 L379.91,271.49 L380.04,271.49 L380.16,271.49 L380.29,271.49 L380.42,271.49 L380.54,271.49 L380.67,271.49 L380.79,271.49 L380.92,271.49 L381.05,271.49 L381.17,271.49 L381.30,271.49 L381.43,271.49 L381.55,271.49 L381.68,271.49 L381.80,271.49 L381.93,271.49 L382.06,271.49 L382.18,271.49 L382.31,271.49 L382.44,271.49 L382.56,271.49 L382.69,271.49 L382.81,271.49 L382.94,271.49 L383.07,271.49 L383.19,271.49 L383.32,271.49 L383.45,271.49 L383.57,271.49 L383.70,271.49 L383.82,271.49 L383.95,271.49 L384.08,271.49 L384.20,271.49 L384.33,271.49 L384.45,271.49 L384.58,271.49 L384.71,271.49 L384.83,271.49 L384.96,271.49 L385.09,271.49 L385.21,271.49 L385.34,271.49 L385.46,271.49 L385.59,271.49 L385.72,271.49 L385.84,271.49 L385.97,271.49 L386.10,271.49 L386.22,271.49 L386.35,271.49 L386.47,271.49 L386.60,271.49 L386.73,271.49 L386.85,271.49 L386.98,271.49 L387.11,271.49 L387.23,271.49 L387.36,271.49 L387.48,271.49 L387.61,271.49 L387.74,271.49 L387.86,271.49 L387.99,271.49 L388.12,271.49 L388.24,271.49 L388.37,271.49 L388.49,271.49 L388.62,271.49 L388.75,271.49 L388.87,271.49 L389.00,271.49 L389.13,271.49 L389.25,271.49 L389.38,271.49 L389.50,271.49 L389.63,271.49 L389.76,271.49 L389.88,271.49 L390.01,271.49 L390.14,271.49 L390.26,271.49 L390.39,271.49 L390.51,271.49 L390.64,271.49 L390.77,271.49 L390.89,271.49 L391.02,271.49 L391.15,271.49 L391.27,271.49 L391.40,271.49 L391.52,271.49 L391.65,271.49 L391.78,271.49 L391.90,271.49 L392.03,271.49 L392.16,271.49 L392.28,271.49 L392.41,271.49 L392.53,271.49 L392.66,271.49 L392.79,271.49 L392.91,271.49 L393.04,271.49 L393.17,271.49 L393.29,271.49 L393.42,271.49 L393.54,271.49 L393.67,271.49 L393.80,271.49 L393.92,271.49 L394.05,271.49 L394.18,271.49 L394.30,271.49 L394.43,271.49 L394.55,271.49 L394.68,271.49 L394.81,271.49 L394.93,271.49 L395.06,271.49 L395.19,271.49 L395.31,271.49 L395.44,271.49 L395.56,271.49 L395.69,271.49 L395.82,271.49 L395.94,271.49 L396.07,271.49 L396.19,271.49 L396.32,271.49 L396.45,271.49 L396.57,271.49 L396.70,271.49 L396.83,271.49 L396.95,271.49 L397.08,271.49 L397.20,271.49 L397.33,271.49 L397.46,271.49 L397.58,271.49 L397.71,271.49 L397.84,271.49 L397.96,271.49 L398.09,271.49 L398.21,271.49 L398.34,271.49 L398.47,271.49 L398.59,271.49 L398.72,271.49 L398.85,271.49 L398.97,271.49 L399.10,271.49 L399.22,271.49 L399.35,271.49 L399.48,271.49 L399.60,271.49 L399.73,271.49 L399.86,271.49 L399.98,271.49 L400.11,271.49 L400.23,271.49 L400.36,271.49 L400.49,271.49 L400.61,271.49 L400.74,271.49 L400.87,271.49 L400.99,271.49 L401.12,271.49 L401.24,271.49 L401.37,271.49 L401.50,271.49 L401.62,271.49 L401.75,271.49 L401.88,271.49 L402.00,271.49 L402.13,271.49 L402.25,271.49 L402.38,271.49 L402.51,271.49 L402.63,271.49 L402.76,271.49 L402.89,271.49 L403.01,271.49 L403.14,271.49 L403.26,271.49 L403.39,271.49 L403.52,271.49 L403.64,271.49 L403.77,271.49 L403.90,271.49 L404.02,271.49 L404.15,271.49 L404.27,271.49 L404.40,271.49 L404.53,271.49 L404.65,271.49 L404.78,271.49 L404.91,271.49 L405.03,271.49 L405.16,271.49 L405.28,271.49 L405.41,271.49 L405.54,271.49 L405.66,271.49 L405.79,271.49 L405.92,271.49 L406.04,271.49 L406.17,271.49 L406.29,271.49 L406.42,271.49 L406.55,271.49 L406.67,271.49 L406.80,271.49 L406.93,271.49 L407.05,271.49 L407.18,271.49 L407.30,271.49 L407.43,271.49 L407.56,271.49 L407.68,271.49 L407.81,271.49 L407.94,271.49 L408.06,271.49 L408.19,271.49 L408.31,271.49 L408.44,271.49 L408.57,271.49 L408.69,271.49 L408.82,271.49 L408.94,271.49 L409.07,271.49 L409.20,271.49 L409.32,271.49 L409.45,271.49 L409.58,271.49 L409.70,271.49 L409.83,271.49 L409.95,271.49 L410.08,271.49 L410.21,271.49 L410.33,271.49 L410.46,271.49 L410.59,271.49 L410.71,271.49 L410.84,271.49 L410.96,271.48 L411.09,271.48 L411.22,271.48 L411.34,271.48 L411.47,271.48 L411.60,271.48 L411.72,271.47 L411.85,271.47 L411.97,271.47 L412.10,271.46 L412.23,271.46 L412.35,271.45 L412.48,271.45 L412.61,271.44 L412.73,271.43 L412.86,271.42 L412.98,271.42 L413.11,271.40 L413.24,271.39 L413.36,271.38 L413.49,271.36 L413.62,271.35 L413.74,271.33 L413.87,271.31 L413.99,271.28 L414.12,271.26 L414.25,271.24 L414.37,271.21 L414.50,271.18 L414.63,271.15 L414.75,271.11 L414.88,271.08 L415.00,271.04 L415.13,271.00 L415.26,270.96 L415.38,270.92 L415.51,270.88 L415.64,270.84 L415.76,270.79 L415.89,270.75 L416.01,270.70 L416.14,270.66 L416.27,270.62 L416.39,270.58 L416.52,270.54 L416.65,270.50 L416.77,270.46 L416.90,270.43 L417.02,270.39 L417.15,270.37 L417.28,270.34 L417.40,270.32 L417.53,270.30 L417.66,270.29 L417.78,270.28 L417.91,270.27 L418.03,270.27 L418.16,270.28 L418.29,270.28 L418.41,270.30 L418.54,270.31 L418.67,270.33 L418.79,270.35 L418.92,270.38 L419.04,270.41 L419.17,270.44 L419.30,270.48 L419.42,270.52 L419.55,270.56 L419.68,270.60 L419.80,270.64 L419.93,270.68 L420.05,270.73 L420.18,270.77 L420.31,270.82 L420.43,270.86 L420.56,270.90 L420.68,270.94 L420.81,270.98 L420.94,271.02 L421.06,271.06 L421.19,271.10 L421.32,271.13 L421.44,271.16 L421.57,271.19 L421.69,271.22 L421.82,271.25 L421.95,271.27 L422.07,271.30 L422.20,271.32 L422.33,271.34 L422.45,271.35 L422.58,271.37 L422.70,271.39 L422.83,271.40 L422.96,271.41 L423.08,271.42 L423.21,271.43 L423.34,271.44 L423.46,271.45 L423.59,271.45 L423.71,271.46 L423.84,271.46 L423.97,271.47 L424.09,271.60 L424.22,271.60 L424.35,271.60 L424.47,271.60 L424.60,271.60 L424.72,271.60 L424.85,271.58 L424.98,271.50 L425.10,271.35 L425.23,271.12 L425.36,270.80 L425.48,270.38 L425.61,269.86 L425.73,269.23 L425.86,268.49 L425.99,267.64 L426.11,266.67 L426.24,265.58 L426.37,264.38 L426.49,263.05 L426.62,261.61 L426.74,260.06 L426.87,258.39 L427.00,256.61 L427.12,254.72 L427.25,252.73 L427.38,250.64 L427.50,248.45 L427.63,246.18 L427.75,243.82 L427.88,241.38 L428.01,238.88 L428.13,236.30 L428.26,233.67 L428.39,230.99 L428.51,228.27 L428.64,225.52 L428.76,222.74 L428.89,219.94 L429.02,217.13 L429.14,214.33 L429.27,211.53 L429.40,208.75 L429.52,206.00 L429.65,203.28 L429.77,200.60 L429.90,197.98 L430.03,195.42 L430.15,192.93 L430.28,190.51 L430.41,188.19 L430.53,185.95 L430.66,183.81 L430.78,181.78 L430.91,179.87 L431.04,178.07 L431.16,176.41 L431.29,174.87 L431.42,173.47 L431.54,172.21 L431.67,171.10 L431.79,170.14 L431.92,169.33 L432.05,168.67 L432.17,168.18 L432.30,167.84 L432.42,167.66 L432.55,167.66 L432.68,167.96 L432.80,168.58 L432.93,169.51 L433.06,170.76 L433.18,172.31 L433.31,174.15 L433.43,176.27 L433.56,178.65 L433.69,181.27 L433.81,184.12 L433.94,187.16 L434.07,190.39 L434.19,193.77 L434.32,197.29 L434.44,200.91 L434.57,204.61 L434.70,208.37 L434.82,212.17 L434.95,215.96 L435.08,219.74 L435.20,223.47 L435.33,227.14 L435.45,230.72 L435.58,234.19 L435.71,237.54 L435.83,240.74 L435.96,243.78 L436.09,246.65 L436.21,249.34 L436.34,251.83 L436.46,254.13 L436.59,256.22 L436.72,258.10 L436.84,259.79 L436.97,261.27 L437.10,262.55 L437.22,263.65 L437.35,264.57 L437.47,265.32 L437.60,265.91 L437.73,266.37 L437.85,266.70 L437.98,266.93 L438.11,267.07 L438.23,267.14 L438.36,267.17 L438.48,267.16 L438.61,267.13 L438.74,267.07 L438.86,266.96 L438.99,266.79 L439.12,266.56 L439.24,266.26 L439.37,265.88 L439.49,265.41 L439.62,264.85 L439.75,264.18 L439.87,263.41 L440.00,262.54 M442.40,231.50 L442.52,229.80 L442.65,228.19 L442.78,226.67 L442.90,225.26 L443.03,223.97 L443.16,222.82 L443.28,221.80 L443.41,220.94 L443.53,220.23 L443.66,219.69 L443.79,219.31 L443.91,219.11 L444.04,219.07 L444.16,219.22 L444.29,219.55 L444.42,220.05 L444.54,220.73 L444.67,221.58 L444.80,222.59 L444.92,223.74 L445.05,225.04 L445.17,226.47 L445.30,228.02 L445.43,229.67 L445.55,231.41 M451.87,250.23 L451.99,247.66 L452.12,244.92 L452.24,242.02 L452.37,238.97 L452.50,235.80 L452.62,232.52 L452.75,229.15 L452.88,225.71 L453.00,222.24 L453.13,218.75 L453.25,215.28 L453.38,211.85 L453.51,208.49 L453.63,205.22 L453.76,202.08 L453.89,199.10 L454.01,196.29 L454.14,193.68 L454.26,191.31 L454.39,189.18 L454.52,187.32 L454.64,185.75 L454.77,184.49 L454.90,183.53 L455.02,182.90 L455.15,182.60 L455.27,182.62 L455.40,182.96 L455.53,183.61 L455.65,184.57 L455.78,185.83 L455.91,187.37 L456.03,189.18 L456.16,191.24 L456.28,193.55 L456.41,196.07 L456.54,198.79 L456.66,201.68 L456.79,204.71 L456.91,207.88 L457.04,211.13 L457.17,214.46 L457.29,217.84 L457.42,221.23 L457.55,224.62 L457.67,227.98 L457.80,231.29 L457.92,234.52 L458.05,237.66 L458.18,240.68 L458.30,243.57 L458.43,246.32 L458.56,248.91 L458.68,251.33 M463.73,244.42 L463.86,241.87 L463.98,239.22 L464.11,236.51 L464.24,233.74 L464.36,230.93 L464.49,228.10 L464.62,225.28 L464.74,222.48 L464.87,219.72 L464.99,217.03 L465.12,214.42 L465.25,211.92 L465.37,209.55 L465.50,207.32 L465.63,205.26 L465.75,203.38 L465.88,201.70 L466.00,200.23 L466.13,198.98 L466.26,197.97 L466.38,197.20 L466.51,196.69 L466.64,196.43 L466.76,196.42 L466.89,196.69 L467.01,197.21 L467.14,198.00 L467.27,199.04 L467.39,200.32 L467.52,201.83 L467.65,203.57 L467.77,205.50 L467.90,207.62 L468.02,209.91 L468.15,212.35 L468.28,214.92 L468.40,217.59 L468.53,220.35 L468.65,223.16 L468.78,226.02 L468.91,228.90 L469.03,231.77 L469.16,234.62 L469.29,237.43 L469.41,240.17 L469.54,242.82 M474.71,250.02 L474.84,247.57 L474.97,244.97 L475.09,242.23 L475.22,239.38 L475.35,236.41 L475.47,233.37 L475.60,230.25 L475.72,227.10 L475.85,223.92 L475.98,220.74 L476.10,217.59 L476.23,214.49 L476.36,211.47 L476.48,208.55 L476.61,205.76 L476.73,203.12 L476.86,200.65 L476.99,198.37 L477.11,196.31 L477.24,194.49 L477.37,192.91 L477.49,191.60 L477.62,190.56 L477.74,189.82 L477.87,189.36 L478.00,189.20 L478.12,189.34 L478.25,189.76 L478.38,190.47 L478.50,191.45 L478.63,192.71 L478.75,194.22 L478.88,195.97 L479.01,197.95 L479.13,200.15 L479.26,202.53 L479.39,205.09 L479.51,207.80 L479.64,210.64 L479.76,213.58 L479.89,216.60 L480.02,219.68 L480.14,222.80 L480.27,225.92 L480.39,229.04 L480.52,232.12 L480.65,235.14 L480.77,238.09 L480.90,240.95 L481.03,243.69 L481.15,246.31 L481.28,248.80 L481.40,251.13 M486.20,249.88 L486.33,247.52 L486.45,245.03 L486.58,242.41 L486.71,239.69 L486.83,236.88 L486.96,233.99 L487.09,231.05 L487.21,228.08 L487.34,225.09 L487.46,222.10 L487.59,219.15 L487.72,216.25 L487.84,213.42 L487.97,210.69 L488.10,208.08 L488.22,205.62 L488.35,203.31 L488.47,201.19 L488.60,199.26 L488.73,197.55 L488.85,196.07 L488.98,194.84 L489.11,193.86 L489.23,193.14 L489.36,192.70 L489.48,192.52 L489.61,192.63 L489.74,193.04 L489.86,193.73 L489.99,194.71 L490.12,195.97 L490.24,197.48 L490.37,199.25 L490.49,201.25 L490.62,203.46 L490.75,205.86 L490.87,208.44 L491.00,211.16 L491.13,214.01 L491.25,216.96 L491.38,219.98 L491.50,223.05 L491.63,226.15 L491.76,229.24 L491.88,232.31 L492.01,235.34 L492.13,238.29 L492.26,241.16 L492.39,243.92 L492.51,246.56 L492.64,249.05 M497.44,249.50 L497.56,247.02 L497.69,244.41 L497.82,241.67 L497.94,238.83 L498.07,235.88 L498.19,232.87 L498.32,229.81 L498.45,226.72 L498.57,223.62 L498.70,220.54 L498.83,217.51 L498.95,214.54 L499.08,211.68 L499.20,208.93 L499.33,206.32 L499.46,203.89 L499.58,201.64 L499.71,199.60 L499.84,197.79 L499.96,196.23 L500.09,194.92 L500.21,193.89 L500.34,193.14 L500.47,192.69 L500.59,192.52 L500.72,192.65 L500.85,193.05 L500.97,193.73 L501.10,194.68 L501.22,195.88 L501.35,197.34 L501.48,199.04 L501.60,200.96 L501.73,203.08 L501.86,205.39 L501.98,207.86 L502.11,210.48 L502.23,213.23 L502.36,216.07 L502.49,219.00 L502.61,221.97 L502.74,224.98 L502.87,228.00 L502.99,231.00 L503.12,233.97 L503.24,236.88 L503.37,239.72 L503.50,242.46 L503.62,245.09 L503.75,247.61 L503.87,249.98 M508.80,249.76 L508.92,247.45 L509.05,245.02 L509.18,242.48 L509.30,239.85 L509.43,237.14 L509.56,234.36 L509.68,231.55 L509.81,228.72 L509.93,225.88 L510.06,223.06 L510.19,220.28 L510.31,217.57 L510.44,214.94 L510.57,212.42 L510.69,210.03 L510.82,207.79 L510.94,205.71 L511.07,203.82 L511.20,202.14 L511.32,200.66 L511.45,199.43 L511.58,198.43 L511.70,197.68 L511.83,197.19 L511.95,196.96 L512.08,197.00 L512.21,197.31 L512.33,197.89 L512.46,198.74 L512.59,199.84 L512.71,201.19 L512.84,202.77 L512.96,204.57 L513.09,206.58 L513.22,208.77 L513.34,211.12 L513.47,213.62 L513.60,216.24 L513.72,218.96 L513.85,221.76 L513.97,224.61 L514.10,227.50 L514.23,230.39 L514.35,233.26 L514.48,236.10 L514.61,238.88 L514.73,241.59 L514.86,244.21 L514.98,246.72 L515.11,249.11 L515.24,251.36 M520.03,252.29 L520.16,250.25 L520.29,248.10 L520.41,245.85 L520.54,243.51 L520.66,241.10 L520.79,238.63 L520.92,236.12 L521.04,233.58 L521.17,231.05 L521.30,228.53 L521.42,226.05 L521.55,223.62 L521.67,221.27 L521.80,219.03 L521.93,216.90 L522.05,214.90 L522.18,213.06 L522.31,211.39 L522.43,209.91 L522.56,208.63 L522.68,207.56 L522.81,206.71 L522.94,206.09 L523.06,205.71 L523.19,205.57 L523.32,205.68 L523.44,206.05 L523.57,206.69 L523.69,207.57 L523.82,208.70 L523.95,210.06 L524.07,211.63 L524.20,213.41 L524.33,215.38 L524.45,217.51 L524.58,219.78 L524.70,222.17 L524.83,224.66 L524.96,227.23 L525.08,229.85 L525.21,232.50 L525.34,235.15 L525.46,237.79 L525.59,240.39 L525.71,242.94 L525.84,245.41 L525.97,247.78 L526.09,250.04 L526.22,252.19 M531.65,244.29 L531.77,242.28 L531.90,240.26 L532.03,238.25 L532.15,236.27 L532.28,234.34 L532.40,232.47 L532.53,230.67 L532.66,228.98 L532.78,227.39 L532.91,225.93 L533.04,224.61 L533.16,223.44 L533.29,222.44 L533.41,221.61 L533.54,220.96 L533.67,220.51 L533.79,220.24 L533.92,220.18 L534.05,220.72 L534.17,222.06 L534.30,224.13 L534.42,226.82 L534.55,230.01 L534.68,233.53 L534.80,237.23 M537.71,237.27 L537.83,233.63 L537.96,230.17 L538.09,227.06 L538.21,224.45 L538.34,222.46 L538.46,221.20 L538.59,220.73 L538.72,220.79 L538.84,221.01 L538.97,221.38 L539.10,221.90 L539.22,222.57 L539.35,223.37 L539.47,224.31 L539.60,225.38" fill="none" stroke="#0000ff" stroke-width="1.35" stroke-linejoin="round"/>
<path d="M312.50,271.49 L312.63,271.49 L312.75,271.49 L312.88,271.49 L313.00,271.49 L313.13,271.49 L313.26,271.49 L313.38,271.49 L313.51,271.49 L313.64,271.49 L313.76,271.49 L313.89,271.49 L314.01,271.49 L314.14,271.49 L314.27,271.49 L314.39,271.49 L314.52,271.49 L314.65,271.49 L314.77,271.49 L314.90,271.49 L315.02,271.49 L315.15,271.49 L315.28,271.49 L315.40,271.49 L315.53,271.49 L315.66,271.49 L315.78,271.49 L315.91,271.49 L316.03,271.49 L316.16,271.49 L316.29,271.49 L316.41,271.49 L316.54,271.49 L316.67,271.49 L316.79,271.49 L316.92,271.49 L317.04,271.49 L317.17,271.49 L317.30,271.49 L317.42,271.49 L317.55,271.49 L317.68,271.49 L317.80,271.49 L317.93,271.49 L318.05,271.49 L318.18,271.49 L318.31,271.49 L318.43,271.49 L318.56,271.49 L318.69,271.49 L318.81,271.49 L318.94,271.49 L319.06,271.49 L319.19,271.49 L319.32,271.49 L319.44,271.49 L319.57,271.49 L319.70,271.49 L319.82,271.49 L319.95,271.49 L320.07,271.49 L320.20,271.49 L320.33,271.49 L320.45,271.49 L320.58,271.49 L320.71,271.49 L320.83,271.49 L320.96,271.49 L321.08,271.49 L321.21,271.49 L321.34,271.49 L321.46,271.49 L321.59,271.49 L321.72,271.49 L321.84,271.49 L321.97,271.49 L322.09,271.49 L322.22,271.49 L322.35,271.49 L322.47,271.49 L322.60,271.49 L322.73,271.49 L322.85,271.49 L322.98,271.49 L323.10,271.49 L323.23,271.49 L323.36,271.49 L323.48,271.49 L323.61,271.49 L323.74,271.49 L323.86,271.49 L323.99,271.49 L324.11,271.49 L324.24,271.49 L324.37,271.49 L324.49,271.49 L324.62,271.49 L324.74,271.49 L324.87,271.49 L325.00,271.49 L325.12,271.49 L325.25,271.49 L325.38,271.49 L325.50,271.49 L325.63,271.49 L325.75,271.49 L325.88,271.49 L326.01,271.49 L326.13,271.49 L326.26,271.49 L326.39,271.49 L326.51,271.49 L326.64,271.49 L326.76,271.49 L326.89,271.49 L327.02,271.49 L327.14,271.49 L327.27,271.49 L327.40,271.49 L327.52,271.49 L327.65,271.49 L327.77,271.49 L327.90,271.49 L328.03,271.49 L328.15,271.49 L328.28,271.49 L328.41,271.49 L328.53,271.49 L328.66,271.49 L328.78,271.49 L328.91,271.49 L329.04,271.49 L329.16,271.49 L329.29,271.49 L329.42,271.49 L329.54,271.49 L329.67,271.49 L329.79,271.49 L329.92,271.49 L330.05,271.49 L330.17,271.49 L330.30,271.49 L330.43,271.49 L330.55,271.49 L330.68,271.49 L330.80,271.49 L330.93,271.49 L331.06,271.49 L331.18,271.49 L331.31,271.49 L331.44,271.49 L331.56,271.49 L331.69,271.49 L331.81,271.49 L331.94,271.49 L332.07,271.49 L332.19,271.49 L332.32,271.49 L332.45,271.49 L332.57,271.49 L332.70,271.49 L332.82,271.49 L332.95,271.49 L333.08,271.49 L333.20,271.49 L333.33,271.49 L333.46,271.49 L333.58,271.49 L333.71,271.49 L333.83,271.49 L333.96,271.49 L334.09,271.49 L334.21,271.49 L334.34,271.49 L334.47,271.49 L334.59,271.49 L334.72,271.49 L334.84,271.49 L334.97,271.49 L335.10,271.49 L335.22,271.49 L335.35,271.49 L335.48,271.49 L335.60,271.49 L335.73,271.49 L335.85,271.49 L335.98,271.49 L336.11,271.49 L336.23,271.49 L336.36,271.49 L336.48,271.49 L336.61,271.49 L336.74,271.49 L336.86,271.49 L336.99,271.49 L337.12,271.49 L337.24,271.49 L337.37,271.49 L337.49,271.49 L337.62,271.49 L337.75,271.49 L337.87,271.49 L338.00,271.49 L338.13,271.49 L338.25,271.49 L338.38,271.49 L338.50,271.49 L338.63,271.49 L338.76,271.49 L338.88,271.49 L339.01,271.49 L339.14,271.49 L339.26,271.49 L339.39,271.49 L339.51,271.49 L339.64,271.49 L339.77,271.49 L339.89,271.49 L340.02,271.49 L340.15,271.49 L340.27,271.49 L340.40,271.49 L340.52,271.49 L340.65,271.49 L340.78,271.49 L340.90,271.49 L341.03,271.49 L341.16,271.49 L341.28,271.49 L341.41,271.49 L341.53,271.49 L341.66,271.49 L341.79,271.49 L341.91,271.49 L342.04,271.49 L342.17,271.49 L342.29,271.49 L342.42,271.49 L342.54,271.49 L342.67,271.49 L342.80,271.49 L342.92,271.49 L343.05,271.49 L343.18,271.49 L343.30,271.49 L343.43,271.49 L343.55,271.49 L343.68,271.49 L343.81,271.49 L343.93,271.49 L344.06,271.49 L344.19,271.49 L344.31,271.49 L344.44,271.49 L344.56,271.49 L344.69,271.49 L344.82,271.49 L344.94,271.49 L345.07,271.49 L345.20,271.49 L345.32,271.49 L345.45,271.49 L345.57,271.49 L345.70,271.49 L345.83,271.49 L345.95,271.49 L346.08,271.49 L346.21,271.49 L346.33,271.49 L346.46,271.49 L346.58,271.49 L346.71,271.49 L346.84,271.49 L346.96,271.49 L347.09,271.49 L347.22,271.49 L347.34,271.49 L347.47,271.49 L347.59,271.49 L347.72,271.49 L347.85,271.49 L347.97,271.49 L348.10,271.49 L348.23,271.49 L348.35,271.49 L348.48,271.49 L348.60,271.49 L348.73,271.49 L348.86,271.49 L348.98,271.49 L349.11,271.49 L349.23,271.49 L349.36,271.49 L349.49,271.49 L349.61,271.49 L349.74,271.49 L349.87,271.49 L349.99,271.49 L350.12,271.49 L350.24,271.49 L350.37,271.49 L350.50,271.49 L350.62,271.49 L350.75,271.49 L350.88,271.49 L351.00,271.49 L351.13,271.49 L351.25,271.49 L351.38,271.49 L351.51,271.49 L351.63,271.49 L351.76,271.49 L351.89,271.49 L352.01,271.49 L352.14,271.49 L352.26,271.49 L352.39,271.49 L352.52,271.49 L352.64,271.49 L352.77,271.49 L352.90,271.49 L353.02,271.49 L353.15,271.49 L353.27,271.49 L353.40,271.49 L353.53,271.49 L353.65,271.49 L353.78,271.49 L353.91,271.49 L354.03,271.49 L354.16,271.49 L354.28,271.49 L354.41,271.49 L354.54,271.49 L354.66,271.49 L354.79,271.49 L354.92,271.49 L355.04,271.49 L355.17,271.49 L355.29,271.49 L355.42,271.49 L355.55,271.49 L355.67,271.49 L355.80,271.49 L355.93,271.49 L356.05,271.49 L356.18,271.49 L356.30,271.49 L356.43,271.49 L356.56,271.49 L356.68,271.49 L356.81,271.49 L356.94,271.49 L357.06,271.49 L357.19,271.49 L357.31,271.49 L357.44,271.49 L357.57,271.49 L357.69,271.49 L357.82,271.49 L357.95,271.49 L358.07,271.49 L358.20,271.49 L358.32,271.49 L358.45,271.49 L358.58,271.49 L358.70,271.49 L358.83,271.49 L358.96,271.49 L359.08,271.49 L359.21,271.49 L359.33,271.49 L359.46,271.49 L359.59,271.49 L359.71,271.49 L359.84,271.49 L359.97,271.49 L360.09,271.49 L360.22,271.49 L360.34,271.49 L360.47,271.49 L360.60,271.49 L360.72,271.49 L360.85,271.49 L360.97,271.49 L361.10,271.49 L361.23,271.49 L361.35,271.49 L361.48,271.49 L361.61,271.49 L361.73,271.49 L361.86,271.49 L361.98,271.49 L362.11,271.49 L362.24,271.49 L362.36,271.49 L362.49,271.49 L362.62,271.49 L362.74,271.49 L362.87,271.49 L362.99,271.49 L363.12,271.49 L363.25,271.49 L363.37,271.49 L363.50,271.49 L363.63,271.49 L363.75,271.49 L363.88,271.49 L364.00,271.49 L364.13,271.49 L364.26,271.49 L364.38,271.49 L364.51,271.49 L364.64,271.49 L364.76,271.49 L364.89,271.49 L365.01,271.49 L365.14,271.49 L365.27,271.49 L365.39,271.49 L365.52,271.49 L365.65,271.49 L365.77,271.49 L365.90,271.49 L366.02,271.49 L366.15,271.49 L366.28,271.49 L366.40,271.49 L366.53,271.49 L366.66,271.49 L366.78,271.49 L366.91,271.49 L367.03,271.49 L367.16,271.49 L367.29,271.49 L367.41,271.49 L367.54,271.49 L367.67,271.49 L367.79,271.49 L367.92,271.49 L368.04,271.49 L368.17,271.49 L368.30,271.49 L368.42,271.49 L368.55,271.49 L368.68,271.49 L368.80,271.49 L368.93,271.49 L369.05,271.49 L369.18,271.49 L369.31,271.49 L369.43,271.49 L369.56,271.49 L369.69,271.49 L369.81,271.49 L369.94,271.49 L370.06,271.49 L370.19,271.49 L370.32,271.49 L370.44,271.49 L370.57,271.49 L370.70,271.49 L370.82,271.49 L370.95,271.49 L371.07,271.49 L371.20,271.49 L371.33,271.49 L371.45,271.49 L371.58,271.49 L371.71,271.49 L371.83,271.49 L371.96,271.49 L372.08,271.49 L372.21,271.49 L372.34,271.49 L372.46,271.49 L372.59,271.49 L372.71,271.49 L372.84,271.49 L372.97,271.49 L373.09,271.49 L373.22,271.49 L373.35,271.49 L373.47,271.49 L373.60,271.49 L373.72,271.49 L373.85,271.49 L373.98,271.49 L374.10,271.49 L374.23,271.49 L374.36,271.49 L374.48,271.49 L374.61,271.49 L374.73,271.49 L374.86,271.49 L374.99,271.49 L375.11,271.49 L375.24,271.49 L375.37,271.49 L375.49,271.49 L375.62,271.49 L375.74,271.49 L375.87,271.49 L376.00,271.49 L376.12,271.49 L376.25,271.49 L376.38,271.49 L376.50,271.49 L376.63,271.49 L376.75,271.49 L376.88,271.49 L377.01,271.49 L377.13,271.49 L377.26,271.49 L377.39,271.49 L377.51,271.49 L377.64,271.49 L377.76,271.49 L377.89,271.49 L378.02,271.49 L378.14,271.49 L378.27,271.49 L378.40,271.49 L378.52,271.49 L378.65,271.49 L378.77,271.49 L378.90,271.49 L379.03,271.49 L379.15,271.49 L379.28,271.49 L379.41,271.49 L379.53,271.49 L379.66,271.49 L379.78,271.49 L379.91,271.49 L380.04,271.49 L380.16,271.49 L380.29,271.49 L380.42,271.49 L380.54,271.49 L380.67,271.49 L380.79,271.49 L380.92,271.49 L381.05,271.49 L381.17,271.49 L381.30,271.49 L381.43,271.49 L381.55,271.49 L381.68,271.49 L381.80,271.49 L381.93,271.49 L382.06,271.49 L382.18,271.49 L382.31,271.49 L382.44,271.49 L382.56,271.49 L382.69,271.49 L382.81,271.49 L382.94,271.49 L383.07,271.49 L383.19,271.49 L383.32,271.49 L383.45,271.49 L383.57,271.49 L383.70,271.49 L383.82,271.49 L383.95,271.49 L384.08,271.49 L384.20,271.49 L384.33,271.49 L384.45,271.49 L384.58,271.49 L384.71,271.49 L384.83,271.49 L384.96,271.49 L385.09,271.49 L385.21,271.49 L385.34,271.49 L385.46,271.49 L385.59,271.49 L385.72,271.49 L385.84,271.49 L385.97,271.49 L386.10,271.49 L386.22,271.49 L386.35,271.49 L386.47,271.49 L386.60,271.49 L386.73,271.49 L386.85,271.49 L386.98,271.49 L387.11,271.49 L387.23,271.49 L387.36,271.49 L387.48,271.49 L387.61,271.49 L387.74,271.49 L387.86,271.49 L387.99,271.49 L388.12,271.49 L388.24,271.49 L388.37,271.49 L388.49,271.49 L388.62,271.49 L388.75,271.49 L388.87,271.49 L389.00,271.49 L389.13,271.49 L389.25,271.49 L389.38,271.49 L389.50,271.49 L389.63,271.49 L389.76,271.49 L389.88,271.49 L390.01,271.49 L390.14,271.49 L390.26,271.49 L390.39,271.49 L390.51,271.49 L390.64,271.49 L390.77,271.49 L390.89,271.49 L391.02,271.49 L391.15,271.49 L391.27,271.49 L391.40,271.49 L391.52,271.49 L391.65,271.49 L391.78,271.49 L391.90,271.49 L392.03,271.49 L392.16,271.49 L392.28,271.49 L392.41,271.49 L392.53,271.49 L392.66,271.49 L392.79,271.49 L392.91,271.49 L393.04,271.49 L393.17,271.49 L393.29,271.49 L393.42,271.49 L393.54,271.49 L393.67,271.49 L393.80,271.49 L393.92,271.49 L394.05,271.49 L394.18,271.49 L394.30,271.49 L394.43,271.49 L394.55,271.49 L394.68,271.49 L394.81,271.49 L394.93,271.49 L395.06,271.49 L395.19,271.49 L395.31,271.49 L395.44,271.49 L395.56,271.49 L395.69,271.49 L395.82,271.49 L395.94,271.49 L396.07,271.49 L396.19,271.49 L396.32,271.49 L396.45,271.49 L396.57,271.49 L396.70,271.49 L396.83,271.49 L396.95,271.49 L397.08,271.49 L397.20,271.49 L397.33,271.49 L397.46,271.49 L397.58,271.49 L397.71,271.49 L397.84,271.49 L397.96,271.49 L398.09,271.49 L398.21,271.49 L398.34,271.49 L398.47,271.49 L398.59,271.49 L398.72,271.49 L398.85,271.49 L398.97,271.49 L399.10,271.49 L399.22,271.49 L399.35,271.49 L399.48,271.49 L399.60,271.49 L399.73,271.49 L399.86,271.49 L399.98,271.49 L400.11,271.49 L400.23,271.49 L400.36,271.49 L400.49,271.49 L400.61,271.49 L400.74,271.49 L400.87,271.49 L400.99,271.49 L401.12,271.49 L401.24,271.49 L401.37,271.49 L401.50,271.49 L401.62,271.49 L401.75,271.49 L401.88,271.49 L402.00,271.49 L402.13,271.49 L402.25,271.49 L402.38,271.49 L402.51,271.49 L402.63,271.49 L402.76,271.49 L402.89,271.49 L403.01,271.49 L403.14,271.49 L403.26,271.49 L403.39,271.49 L403.52,271.49 L403.64,271.49 L403.77,271.49 L403.90,271.49 L404.02,271.49 L404.15,271.49 L404.27,271.49 L404.40,271.49 L404.53,271.49 L404.65,271.49 L404.78,271.49 L404.91,271.49 L405.03,271.49 L405.16,271.49 L405.28,271.49 L405.41,271.49 L405.54,271.49 L405.66,271.49 L405.79,271.49 L405.92,271.49 L406.04,271.49 L406.17,271.49 L406.29,271.49 L406.42,271.49 L406.55,271.49 L406.67,271.49 L406.80,271.49 L406.93,271.49 L407.05,271.49 L407.18,271.49 L407.30,271.49 L407.43,271.49 L407.56,271.49 L407.68,271.49 L407.81,271.49 L407.94,271.49 L408.06,271.49 L408.19,271.49 L408.31,271.49 L408.44,271.49 L408.57,271.49 L408.69,271.49 L408.82,271.49 L408.94,271.49 L409.07,271.48 L409.20,271.48 L409.32,271.48 L409.45,271.48 L409.58,271.48 L409.70,271.48 L409.83,271.48 L409.95,271.48 L410.08,271.48 L410.21,271.47 L410.33,271.47 L410.46,271.47 L410.59,271.47 L410.71,271.47 L410.84,271.46 L410.96,271.46 L411.09,271.46 L411.22,271.45 L411.34,271.45 L411.47,271.44 L411.60,271.44 L411.72,271.43 L411.85,271.43 L411.97,271.42 L412.10,271.41 L412.23,271.41 L412.35,271.40 L412.48,271.39 L412.61,271.38 L412.73,271.37 L412.86,271.36 L412.98,271.35 L413.11,271.34 L413.24,271.33 L413.36,271.32 L413.49,271.30 L413.62,271.29 L413.74,271.28 L413.87,271.26 L413.99,271.25 L414.12,271.23 L414.25,271.21 L414.37,271.20 L414.50,271.18 L414.63,271.16 L414.75,271.15 L414.88,271.13 L415.00,271.11 L415.13,271.09 L415.26,271.07 L415.38,271.06 L415.51,271.04 L415.64,271.02 L415.76,271.00 L415.89,270.99 L416.01,270.97 L416.14,270.95 L416.27,270.94 L416.39,270.92 L416.52,270.91 L416.65,270.90 L416.77,270.89 L416.90,270.87 L417.02,270.86 L417.15,270.86 L417.28,270.85 L417.40,270.84 L417.53,270.83 L417.66,270.83 L417.78,270.83 L417.91,270.83 L418.03,270.83 L418.16,270.83 L418.29,270.83 L418.41,270.83 L418.54,270.84 L418.67,270.84 L418.79,270.85 L418.92,270.86 L419.04,270.87 L419.17,270.88 L419.30,270.89 L419.42,270.90 L419.55,270.92 L419.68,270.93 L419.80,270.95 L419.93,270.96 L420.05,270.98 L420.18,271.00 L420.31,271.01 L420.43,271.03 L420.56,271.05 L420.68,271.07 L420.81,271.08 L420.94,271.10 L421.06,271.12 L421.19,271.14 L421.32,271.16 L421.44,271.17 L421.57,271.19 L421.69,271.21 L421.82,271.22 L421.95,271.24 L422.07,271.25 L422.20,271.27 L422.33,271.28 L422.45,271.30 L422.58,271.31 L422.70,271.32 L422.83,271.34 L422.96,271.35 L423.08,271.36 L423.21,271.37 L423.34,271.38 L423.46,271.39 L423.59,271.40 L423.71,271.40 L423.84,271.41 L423.97,271.42 L424.09,271.60 L424.22,271.60 L424.35,271.60 L424.47,271.60 L424.60,271.60 L424.72,271.60 L424.85,271.58 L424.98,271.51 L425.10,271.39 L425.23,271.19 L425.36,270.92 L425.48,270.56 L425.61,270.12 L425.73,269.59 L425.86,268.96 L425.99,268.23 L426.11,267.40 L426.24,266.48 L426.37,265.45 L426.49,264.33 L426.62,263.10 L426.74,261.78 L426.87,260.36 L427.00,258.84 L427.12,257.24 L427.25,255.54 L427.38,253.76 L427.50,251.90 L427.63,249.97 L427.75,247.96 L427.88,245.88 L428.01,243.75 L428.13,241.56 L428.26,239.32 L428.39,237.04 L428.51,234.73 L428.64,232.38 L428.76,230.01 L428.89,227.63 L429.02,225.25 L429.14,222.86 L429.27,220.48 L429.40,218.11 L429.52,215.77 L429.65,213.45 L429.77,211.18 L429.90,208.95 L430.03,206.77 L430.15,204.65 L430.28,202.59 L430.41,200.61 L430.53,198.71 L430.66,196.89 L430.78,195.16 L430.91,193.53 L431.04,192.00 L431.16,190.58 L431.29,189.28 L431.42,188.08 L431.54,187.01 L431.67,186.07 L431.79,185.25 L431.92,184.56 L432.05,184.00 L432.17,183.58 L432.30,183.29 L432.42,183.14 L432.55,183.14 L432.68,183.42 L432.80,183.98 L432.93,184.85 L433.06,185.99 L433.18,187.41 L433.31,189.10 L433.43,191.04 L433.56,193.21 L433.69,195.60 L433.81,198.18 L433.94,200.94 L434.07,203.86 L434.19,206.91 L434.32,210.07 L434.44,213.31 L434.57,216.61 L434.70,219.94 L434.82,223.29 L434.95,226.62 L435.08,229.92 L435.20,233.16 L435.33,236.32 L435.45,239.38 L435.58,242.32 L435.71,245.13 L435.83,247.79 L435.96,250.29 L436.09,252.62 L436.21,254.77 L436.34,256.74 L436.46,258.52 L436.59,260.12 L436.72,261.52 L436.84,262.75 L436.97,263.79 L437.10,264.67 L437.22,265.39 L437.35,265.96 L437.47,266.39 L437.60,266.71 L437.73,266.93 L437.85,267.07 L437.98,267.14 L438.11,267.17 L438.23,267.18 L438.36,267.17 L438.48,267.16 L438.61,267.13 L438.74,267.07 L438.86,266.96 L438.99,266.79 L439.12,266.56 L439.24,266.26 L439.37,265.88 L439.49,265.41 L439.62,264.85 L439.75,264.19 L439.87,263.42 L440.00,262.55 L440.13,261.57 L440.25,260.49 L440.38,259.30 L440.50,258.01 L440.63,256.62 L440.76,255.14 L440.88,253.58 L441.01,251.93 L441.14,250.22 L441.26,248.45 L441.39,246.63 L441.51,244.77 L441.64,242.89 L441.77,241.00 L441.89,239.11 L442.02,237.23 L442.15,235.39 L442.27,233.59 L442.40,231.84 L442.52,230.17 L442.65,228.58 L442.78,227.09 L442.90,225.70 L443.03,224.44 L443.16,223.30 L443.28,222.31 L443.41,221.46 L443.53,220.76 L443.66,220.23 L443.79,219.86 L443.91,219.66 L444.04,219.63 L444.16,219.77 L444.29,220.09 L444.42,220.59 L444.54,221.25 L444.67,222.09 L444.80,223.07 L444.92,224.21 L445.05,225.49 L445.17,226.89 L445.30,228.41 L445.43,230.03 L445.55,231.74 L445.68,233.53 L445.81,235.38 L445.93,237.28 L446.06,239.20 L446.18,241.14 L446.31,243.09 L446.44,245.01 L446.56,246.92 L446.69,248.78 L446.82,250.59 L446.94,252.33 L447.07,254.00 L447.19,255.58 L447.32,257.08 L447.45,258.47 L447.57,259.76 L447.70,260.94 L447.83,262.00 L447.95,262.96 L448.08,263.80 L448.20,264.54 L448.33,265.16 L448.46,265.69 L448.58,266.12 L448.71,266.46 L448.84,266.72 L448.96,266.91 L449.09,267.04 L449.21,267.12 L449.34,267.16 L449.47,267.17 L449.59,267.18 L449.72,267.17 L449.85,267.15 L449.97,267.09 L450.10,266.96 L450.22,266.76 L450.35,266.45 L450.48,266.03 L450.60,265.48 L450.73,264.79 L450.86,263.93 L450.98,262.91 L451.11,261.71 L451.23,260.32 L451.36,258.76 L451.49,257.00 L451.61,255.06 L451.74,252.94 L451.87,250.64 L451.99,248.18 L452.12,245.56 L452.24,242.80 L452.37,239.91 L452.50,236.92 L452.62,233.83 L452.75,230.67 L452.88,227.47 L453.00,224.24 L453.13,221.01 L453.25,217.80 L453.38,214.65 L453.51,211.56 L453.63,208.58 L453.76,205.72 L453.89,203.00 L454.01,200.45 L454.14,198.10 L454.26,195.95 L454.39,194.04 L454.52,192.37 L454.64,190.96 L454.77,189.82 L454.90,188.96 L455.02,188.39 L455.15,188.12 L455.27,188.15 L455.40,188.45 L455.53,189.04 L455.65,189.89 L455.78,191.02 L455.91,192.40 L456.03,194.03 L456.16,195.89 L456.28,197.98 L456.41,200.26 L456.54,202.72 L456.66,205.35 L456.79,208.11 L456.91,211.00 L457.04,213.99 L457.17,217.05 L457.29,220.16 L457.42,223.30 L457.55,226.45 L457.67,229.58 L457.80,232.68 L457.92,235.71 L458.05,238.67 L458.18,241.53 L458.30,244.27 L458.43,246.89 L458.56,249.37 L458.68,251.70 L458.81,253.86 L458.93,255.85 L459.06,257.67 L459.19,259.32 L459.31,260.79 L459.44,262.08 L459.57,263.20 L459.69,264.15 L459.82,264.95 L459.94,265.60 L460.07,266.11 L460.20,266.50 L460.32,266.78 L460.45,266.98 L460.58,267.09 L460.70,267.15 L460.83,267.17 L460.95,267.18 L461.08,267.17 L461.21,267.15 L461.33,267.10 L461.46,266.99 L461.59,266.82 L461.71,266.57 L461.84,266.23 L461.96,265.77 L462.09,265.20 L462.22,264.50 L462.34,263.66 L462.47,262.68 L462.60,261.55 L462.72,260.27 L462.85,258.83 L462.97,257.24 L463.10,255.50 L463.23,253.61 L463.35,251.59 L463.48,249.43 L463.61,247.15 L463.73,244.76 L463.86,242.28 L463.98,239.71 L464.11,237.07 L464.24,234.39 L464.36,231.67 L464.49,228.94 L464.62,226.22 L464.74,223.52 L464.87,220.87 L464.99,218.29 L465.12,215.79 L465.25,213.40 L465.37,211.13 L465.50,209.00 L465.63,207.04 L465.75,205.24 L465.88,203.64 L466.00,202.25 L466.13,201.06 L466.26,200.10 L466.38,199.37 L466.51,198.88 L466.64,198.64 L466.76,198.63 L466.89,198.88 L467.01,199.38 L467.14,200.13 L467.27,201.12 L467.39,202.34 L467.52,203.78 L467.65,205.42 L467.77,207.27 L467.90,209.29 L468.02,211.48 L468.15,213.81 L468.28,216.26 L468.40,218.82 L468.53,221.47 L468.65,224.18 L468.78,226.93 L468.91,229.71 L469.03,232.48 L469.16,235.24 L469.29,237.96 L469.41,240.62 L469.54,243.21 L469.66,245.70 L469.79,248.09 L469.92,250.36 L470.04,252.50 L470.17,254.50 L470.30,256.35 L470.42,258.04 L470.55,259.58 L470.67,260.96 L470.80,262.19 L470.93,263.25 L471.05,264.17 L471.18,264.94 L471.31,265.57 L471.43,266.07 L471.56,266.46 L471.68,266.75 L471.81,266.95 L471.94,267.07 L472.06,267.14 L472.19,267.17 L472.32,267.18 L472.44,267.17 L472.57,267.16 L472.69,267.11 L472.82,267.01 L472.95,266.84 L473.07,266.59 L473.20,266.23 L473.33,265.76 L473.45,265.16 L473.58,264.41 L473.70,263.52 L473.83,262.46 L473.96,261.25 L474.08,259.86 L474.21,258.30 L474.34,256.57 L474.46,254.67 L474.59,252.61 L474.71,250.40 L474.84,248.04 L474.97,245.55 L475.09,242.93 L475.22,240.21 L475.35,237.39 L475.47,234.51 L475.60,231.57 L475.72,228.60 L475.85,225.62 L475.98,222.66 L476.10,219.72 L476.23,216.84 L476.36,214.04 L476.48,211.35 L476.61,208.77 L476.73,206.34 L476.86,204.07 L476.99,201.99 L477.11,200.11 L477.24,198.44 L477.37,197.00 L477.49,195.81 L477.62,194.86 L477.74,194.18 L477.87,193.77 L478.00,193.63 L478.12,193.75 L478.25,194.14 L478.38,194.78 L478.50,195.67 L478.63,196.82 L478.75,198.19 L478.88,199.79 L479.01,201.61 L479.13,203.61 L479.26,205.80 L479.39,208.16 L479.51,210.65 L479.64,213.27 L479.76,216.00 L479.89,218.80 L480.02,221.67 L480.14,224.58 L480.27,227.51 L480.39,230.43 L480.52,233.33 L480.65,236.19 L480.77,238.98 L480.90,241.70 L481.03,244.32 L481.15,246.83 L481.28,249.22 L481.40,251.47 L481.53,253.57 L481.66,255.53 L481.78,257.32 L481.91,258.95 L482.04,260.42 L482.16,261.72 L482.29,262.86 L482.41,263.84 L482.54,264.67 L482.67,265.35 L482.79,265.91 L482.92,266.34 L483.05,266.66 L483.17,266.89 L483.30,267.04 L483.42,267.12 L483.55,267.16 L483.68,267.18 L483.80,267.18 L483.93,267.17 L484.06,267.13 L484.18,267.06 L484.31,266.93 L484.43,266.72 L484.56,266.43 L484.69,266.03 L484.81,265.51 L484.94,264.87 L485.07,264.10 L485.19,263.17 L485.32,262.10 L485.44,260.87 L485.57,259.49 L485.70,257.94 L485.82,256.24 L485.95,254.39 L486.08,252.38 L486.20,250.24 L486.33,247.96 L486.45,245.56 L486.58,243.06 L486.71,240.45 L486.83,237.77 L486.96,235.03 L487.09,232.25 L487.21,229.43 L487.34,226.62 L487.46,223.81 L487.59,221.05 L487.72,218.33 L487.84,215.70 L487.97,213.16 L488.10,210.74 L488.22,208.45 L488.35,206.32 L488.47,204.36 L488.60,202.58 L488.73,201.01 L488.85,199.65 L488.98,198.52 L489.11,197.62 L489.23,196.96 L489.36,196.55 L489.48,196.39 L489.61,196.50 L489.74,196.87 L489.86,197.50 L489.99,198.40 L490.12,199.55 L490.24,200.95 L490.37,202.57 L490.49,204.41 L490.62,206.46 L490.75,208.68 L490.87,211.07 L491.00,213.59 L491.13,216.25 L491.25,219.00 L491.38,221.82 L491.50,224.70 L491.63,227.61 L491.76,230.53 L491.88,233.44 L492.01,236.31 L492.13,239.12 L492.26,241.86 L492.39,244.50 L492.51,247.03 L492.64,249.44 L492.77,251.71 L492.89,253.83 L493.02,255.79 L493.14,257.59 L493.27,259.23 L493.40,260.69 L493.52,261.98 L493.65,263.11 L493.78,264.07 L493.90,264.87 L494.03,265.54 L494.15,266.06 L494.28,266.46 L494.41,266.76 L494.53,266.96 L494.66,267.08 L494.79,267.15 L494.91,267.17 L495.04,267.18 L495.16,267.17 L495.29,267.15 L495.42,267.10 L495.54,266.99 L495.67,266.80 L495.80,266.52 L495.92,266.14 L496.05,265.64 L496.17,265.01 L496.30,264.23 L496.43,263.29 L496.55,262.20 L496.68,260.94 L496.81,259.51 L496.93,257.91 L497.06,256.14 L497.18,254.20 L497.31,252.11 L497.44,249.87 L497.56,247.48 L497.69,244.97 L497.82,242.35 L497.94,239.63 L498.07,236.83 L498.19,233.97 L498.32,231.07 L498.45,228.15 L498.57,225.24 L498.70,222.35 L498.83,219.51 L498.95,216.74 L499.08,214.07 L499.20,211.52 L499.33,209.11 L499.46,206.85 L499.58,204.77 L499.71,202.90 L499.84,201.23 L499.96,199.79 L500.09,198.60 L500.21,197.65 L500.34,196.96 L500.47,196.54 L500.59,196.39 L500.72,196.51 L500.85,196.88 L500.97,197.50 L501.10,198.37 L501.22,199.48 L501.35,200.82 L501.48,202.38 L501.60,204.15 L501.73,206.10 L501.86,208.24 L501.98,210.53 L502.11,212.96 L502.23,215.52 L502.36,218.17 L502.49,220.90 L502.61,223.69 L502.74,226.52 L502.87,229.36 L502.99,232.20 L503.12,235.01 L503.24,237.77 L503.37,240.48 L503.50,243.10 L503.62,245.63 L503.75,248.04 L503.87,250.34 L504.00,252.49 L504.13,254.51 L504.25,256.37 L504.38,258.07 L504.51,259.62 L504.63,261.00 L504.76,262.22 L504.88,263.29 L505.01,264.20 L505.14,264.96 L505.26,265.59 L505.39,266.09 L505.52,266.48 L505.64,266.76 L505.77,266.96 L505.89,267.08 L506.02,267.14 L506.15,267.17 L506.27,267.18 L506.40,267.17 L506.53,267.16 L506.65,267.12 L506.78,267.03 L506.90,266.87 L507.03,266.64 L507.16,266.33 L507.28,265.90 L507.41,265.37 L507.54,264.70 L507.66,263.91 L507.79,262.97 L507.91,261.89 L508.04,260.65 L508.17,259.27 L508.29,257.73 L508.42,256.05 L508.55,254.22 L508.67,252.25 L508.80,250.16 L508.92,247.94 L509.05,245.61 L509.18,243.19 L509.30,240.69 L509.43,238.11 L509.56,235.49 L509.68,232.84 L509.81,230.18 L509.93,227.52 L510.06,224.89 L510.19,222.30 L510.31,219.78 L510.44,217.35 L510.57,215.02 L510.69,212.81 L510.82,210.74 L510.94,208.84 L511.07,207.10 L511.20,205.56 L511.32,204.21 L511.45,203.08 L511.58,202.17 L511.70,201.49 L511.83,201.04 L511.95,200.83 L512.08,200.87 L512.21,201.15 L512.33,201.68 L512.46,202.45 L512.59,203.46 L512.71,204.69 L512.84,206.14 L512.96,207.79 L513.09,209.63 L513.22,211.65 L513.34,213.82 L513.47,216.12 L513.60,218.55 L513.72,221.07 L513.85,223.68 L513.97,226.34 L514.10,229.03 L514.23,231.75 L514.35,234.45 L514.48,237.13 L514.61,239.77 L514.73,242.35 L514.86,244.84 L514.98,247.24 L515.11,249.53 L515.24,251.70 L515.36,253.74 L515.49,255.63 L515.62,257.38 L515.74,258.98 L515.87,260.41 L515.99,261.70 L516.12,262.82 L516.25,263.80 L516.37,264.62 L516.50,265.31 L516.62,265.87 L516.75,266.31 L516.88,266.63 L517.00,266.87 L517.13,267.03 L517.26,267.12 L517.38,267.16 L517.51,267.17 L517.63,267.18 L517.76,267.17 L517.89,267.15 L518.01,267.09 L518.14,266.98 L518.27,266.81 L518.39,266.56 L518.52,266.22 L518.64,265.78 L518.77,265.24 L518.90,264.57 L519.02,263.78 L519.15,262.86 L519.28,261.81 L519.40,260.61 L519.53,259.29 L519.65,257.82 L519.78,256.23 L519.91,254.51 L520.03,252.67 L520.16,250.72 L520.29,248.68 L520.41,246.54 L520.54,244.32 L520.66,242.05 L520.79,239.73 L520.92,237.38 L521.04,235.02 L521.17,232.66 L521.30,230.33 L521.42,228.04 L521.55,225.81 L521.67,223.65 L521.80,221.60 L521.93,219.65 L522.05,217.83 L522.18,216.16 L522.31,214.65 L522.43,213.30 L522.56,212.15 L522.68,211.18 L522.81,210.41 L522.94,209.86 L523.06,209.52 L523.19,209.39 L523.32,209.49 L523.44,209.82 L523.57,210.39 L523.69,211.19 L523.82,212.21 L523.95,213.44 L524.07,214.87 L524.20,216.48 L524.33,218.27 L524.45,220.21 L524.58,222.28 L524.70,224.47 L524.83,226.76 L524.96,229.13 L525.08,231.55 L525.21,234.01 L525.34,236.48 L525.46,238.95 L525.59,241.39 L525.71,243.78 L525.84,246.12 L525.97,248.37 L526.09,250.52 L526.22,252.57 L526.35,254.50 L526.47,256.30 L526.60,257.96 L526.72,259.47 L526.85,260.84 L526.98,262.06 L527.10,263.13 L527.23,264.05 L527.36,264.83 L527.48,265.48 L527.61,266.00 L527.73,266.40 L527.86,266.71 L527.99,266.92 L528.11,267.05 L528.24,267.13 L528.36,267.17 L528.49,267.18 L528.62,267.18 L528.74,267.17 L528.87,267.14 L529.00,267.07 L529.12,266.96 L529.25,266.79 L529.37,266.54 L529.50,266.21 L529.63,265.79 L529.75,265.27 L529.88,264.65 L530.01,263.91 L530.13,263.05 L530.26,262.07 L530.38,260.98 L530.51,259.77 L530.64,258.44 L530.76,257.01 L530.89,255.47 L531.02,253.84 L531.14,252.12 L531.27,250.32 L531.39,248.47 L531.52,246.56 L531.65,244.62 L531.77,242.66 L531.90,240.70 L532.03,238.75 L532.15,236.83 L532.28,234.95 L532.40,233.14 L532.53,231.40 L532.66,229.76 L532.78,228.23 L532.91,226.82 L533.04,225.55 L533.16,224.42 L533.29,223.46 L533.41,222.66 L533.54,222.04 L533.67,221.60 L533.79,221.34 L533.92,221.29 L534.05,221.80 L534.17,223.08 L534.30,225.05 L534.42,227.63 L534.55,230.69 L534.68,234.08 L534.80,237.65 L534.93,241.25 L535.06,244.71 L535.18,247.92 L535.31,250.76 L535.43,253.16 L535.56,255.07 L535.69,256.49 L535.81,257.44 L535.94,258.00 L536.07,258.26 L536.19,258.33 L536.32,258.32 L536.44,258.25 L536.57,257.98 L536.70,257.40 L536.82,256.43 L536.95,254.99 L537.08,253.07 L537.20,250.68 L537.33,247.85 L537.45,244.67 L537.58,241.24 L537.71,237.69 L537.83,234.18 L537.96,230.86 L538.09,227.88 L538.21,225.38 L538.34,223.48 L538.46,222.28 L538.59,221.83 L538.72,221.89 L538.84,222.10 L538.97,222.46 L539.10,222.96 L539.22,223.60 L539.35,224.38 L539.47,225.28 L539.60,226.31" fill="none" stroke="#ff0000" stroke-width="1.35" stroke-linejoin="round"/>
<path d="M312.1,271.60 L539.6,271.60" stroke="#4dff4d" stroke-width="1.5" stroke-dasharray="6.9 2.9" fill="none"/>
<path d="M312.5,243.95 L539.6,243.95" stroke="#111" stroke-width="1.35" fill="none"/>
</g>
<text x="312.50" y="284.00" font-size="8.2" text-anchor="middle">0</text>
<text x="369.27" y="284.00" font-size="8.2" text-anchor="middle">0.05</text>
<text x="426.05" y="284.00" font-size="8.2" text-anchor="middle">0.1</text>
<text x="482.83" y="284.00" font-size="8.2" text-anchor="middle">0.15</text>
<text x="539.60" y="284.00" font-size="8.2" text-anchor="middle">0.2</text>
<text x="308.90" y="275.00" font-size="8.2" text-anchor="end">0</text>
<text x="308.90" y="247.35" font-size="8.2" text-anchor="end">0.5</text>
<text x="308.90" y="219.70" font-size="8.2" text-anchor="end">1</text>
<text x="308.90" y="192.05" font-size="8.2" text-anchor="end">1.5</text>
<text x="308.90" y="164.40" font-size="8.2" text-anchor="end">2</text>
<text x="426.40" y="297.10" font-size="9.1" text-anchor="middle">Time (s)</text>
<text x="425.50" y="309.40" font-size="9.0" text-anchor="middle">(d)</text>
<text x="292.40" y="217.60" font-size="9.05" text-anchor="middle" transform="rotate(-90 292.40 217.60)">Fault Index</text>
<text font-size="8.2"><tspan x="313.1" y="159.6">×</tspan><tspan x="319.6" y="158.8">10</tspan><tspan x="328.6" y="156.0" font-size="7">10</tspan></text>
<rect x="316.0" y="162.8" width="74.40" height="45.50" fill="#fff" stroke="#5a5a5a" stroke-width="1.0"/>
<path d="M319.0,169.5 L349.9,169.5" stroke="#0000ff" stroke-width="1.4" fill="none"/>
<text x="352.10" y="172.70" font-size="8.2" text-anchor="start">Phase A</text>
<path d="M319.0,180.4 L349.9,180.4" stroke="#ff0000" stroke-width="1.4" fill="none"/>
<text x="352.10" y="183.60" font-size="8.2" text-anchor="start">Phase B</text>
<path d="M319.0,191.3 L349.9,191.3" stroke="#33ff33" stroke-width="1.4" fill="none" stroke-dasharray="6.4 3.5"/>
<text x="352.10" y="194.40" font-size="8.2" text-anchor="start">Phase C</text>
<path d="M319.0,202.3 L349.9,202.3" stroke="#333" stroke-width="1.6" fill="none"/>
<text x="352.10" y="205.30" font-size="8.2" text-anchor="start">Threshold</text>
</svg>
</body></html>
